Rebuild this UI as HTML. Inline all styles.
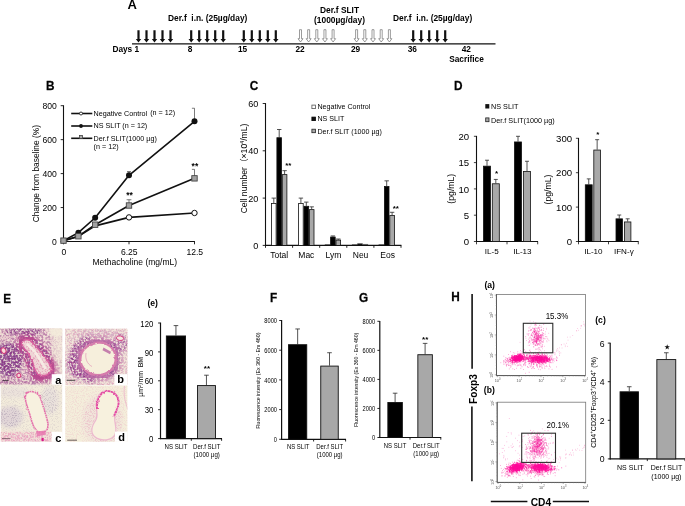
<!DOCTYPE html>
<html lang="en"><head><meta charset="utf-8"><title>Figure</title>
<style>html,body{margin:0;padding:0;background:#fff}svg{display:block}text{font-family:'Liberation Sans', 'Noto Sans CJK SC', sans-serif}</style>
</head><body>
<svg width="685" height="506" viewBox="0 0 685 506" font-family='"Liberation Sans", "Noto Sans CJK SC", sans-serif'>
<rect width="685" height="506" fill="#fff"/>
<text x="132.30" y="8.50" font-size="13" text-anchor="middle" font-weight="700" fill="#000">A</text>
<line x1="132.00" y1="43.80" x2="495.50" y2="43.80" stroke="#111" stroke-width="1.3"/>
<path d="M137.40 30.2h2.2v8.80h1.6l-2.7 3.6l-2.7 -3.6h1.6z" fill="#111"/>
<path d="M145.40 30.2h2.2v8.80h1.6l-2.7 3.6l-2.7 -3.6h1.6z" fill="#111"/>
<path d="M153.40 30.2h2.2v8.80h1.6l-2.7 3.6l-2.7 -3.6h1.6z" fill="#111"/>
<path d="M161.40 30.2h2.2v8.80h1.6l-2.7 3.6l-2.7 -3.6h1.6z" fill="#111"/>
<path d="M169.40 30.2h2.2v8.80h1.6l-2.7 3.6l-2.7 -3.6h1.6z" fill="#111"/>
<path d="M190.10 30.2h2.2v8.80h1.6l-2.7 3.6l-2.7 -3.6h1.6z" fill="#111"/>
<path d="M198.10 30.2h2.2v8.80h1.6l-2.7 3.6l-2.7 -3.6h1.6z" fill="#111"/>
<path d="M206.10 30.2h2.2v8.80h1.6l-2.7 3.6l-2.7 -3.6h1.6z" fill="#111"/>
<path d="M214.10 30.2h2.2v8.80h1.6l-2.7 3.6l-2.7 -3.6h1.6z" fill="#111"/>
<path d="M222.10 30.2h2.2v8.80h1.6l-2.7 3.6l-2.7 -3.6h1.6z" fill="#111"/>
<path d="M242.70 30.2h2.2v8.80h1.6l-2.7 3.6l-2.7 -3.6h1.6z" fill="#111"/>
<path d="M250.70 30.2h2.2v8.80h1.6l-2.7 3.6l-2.7 -3.6h1.6z" fill="#111"/>
<path d="M258.70 30.2h2.2v8.80h1.6l-2.7 3.6l-2.7 -3.6h1.6z" fill="#111"/>
<path d="M266.70 30.2h2.2v8.80h1.6l-2.7 3.6l-2.7 -3.6h1.6z" fill="#111"/>
<path d="M274.70 30.2h2.2v8.80h1.6l-2.7 3.6l-2.7 -3.6h1.6z" fill="#111"/>
<path d="M299.50 29.7h2.0v9.00h1.5l-2.5 3.3l-2.5 -3.3h1.5z" fill="#fff" stroke="#666" stroke-width="0.65"/>
<path d="M307.65 29.7h2.0v9.00h1.5l-2.5 3.3l-2.5 -3.3h1.5z" fill="#fff" stroke="#666" stroke-width="0.65"/>
<path d="M315.80 29.7h2.0v9.00h1.5l-2.5 3.3l-2.5 -3.3h1.5z" fill="#fff" stroke="#666" stroke-width="0.65"/>
<path d="M323.95 29.7h2.0v9.00h1.5l-2.5 3.3l-2.5 -3.3h1.5z" fill="#fff" stroke="#666" stroke-width="0.65"/>
<path d="M332.10 29.7h2.0v9.00h1.5l-2.5 3.3l-2.5 -3.3h1.5z" fill="#fff" stroke="#666" stroke-width="0.65"/>
<path d="M355.60 29.7h2.0v9.00h1.5l-2.5 3.3l-2.5 -3.3h1.5z" fill="#fff" stroke="#666" stroke-width="0.65"/>
<path d="M363.80 29.7h2.0v9.00h1.5l-2.5 3.3l-2.5 -3.3h1.5z" fill="#fff" stroke="#666" stroke-width="0.65"/>
<path d="M372.00 29.7h2.0v9.00h1.5l-2.5 3.3l-2.5 -3.3h1.5z" fill="#fff" stroke="#666" stroke-width="0.65"/>
<path d="M380.20 29.7h2.0v9.00h1.5l-2.5 3.3l-2.5 -3.3h1.5z" fill="#fff" stroke="#666" stroke-width="0.65"/>
<path d="M388.40 29.7h2.0v9.00h1.5l-2.5 3.3l-2.5 -3.3h1.5z" fill="#fff" stroke="#666" stroke-width="0.65"/>
<path d="M412.10 30.2h2.2v8.80h1.6l-2.7 3.6l-2.7 -3.6h1.6z" fill="#111"/>
<path d="M420.10 30.2h2.2v8.80h1.6l-2.7 3.6l-2.7 -3.6h1.6z" fill="#111"/>
<path d="M428.10 30.2h2.2v8.80h1.6l-2.7 3.6l-2.7 -3.6h1.6z" fill="#111"/>
<path d="M436.10 30.2h2.2v8.80h1.6l-2.7 3.6l-2.7 -3.6h1.6z" fill="#111"/>
<path d="M444.10 30.2h2.2v8.80h1.6l-2.7 3.6l-2.7 -3.6h1.6z" fill="#111"/>
<text x="112.40" y="52.47" font-size="8.3" text-anchor="start" font-weight="700" fill="#000">Days 1</text>
<text x="190.00" y="52.47" font-size="8.3" text-anchor="middle" font-weight="700" fill="#000">8</text>
<text x="242.50" y="52.47" font-size="8.3" text-anchor="middle" font-weight="700" fill="#000">15</text>
<text x="300.00" y="52.47" font-size="8.3" text-anchor="middle" font-weight="700" fill="#000">22</text>
<text x="355.50" y="52.47" font-size="8.3" text-anchor="middle" font-weight="700" fill="#000">29</text>
<text x="412.30" y="52.47" font-size="8.3" text-anchor="middle" font-weight="700" fill="#000">36</text>
<text x="466.30" y="52.47" font-size="8.3" text-anchor="middle" font-weight="700" fill="#000">42</text>
<text x="466.50" y="61.97" font-size="8.3" text-anchor="middle" font-weight="700" fill="#000">Sacrifice</text>
<text x="207.70" y="21.11" font-size="8.4" text-anchor="middle" font-weight="700" fill="#000">Der.f  i.n. (25µg/day)</text>
<text x="432.60" y="20.91" font-size="8.4" text-anchor="middle" font-weight="700" fill="#000">Der.f  i.n. (25µg/day)</text>
<text x="339.50" y="12.51" font-size="8.4" text-anchor="middle" font-weight="700" fill="#000">Der.f SLIT</text>
<text x="339.50" y="22.51" font-size="8.4" text-anchor="middle" font-weight="700" fill="#000">(1000µg/day)</text>
<text transform="translate(50.30 85.20) scale(1 1.1)" x="0" y="4.22" font-size="11.8" text-anchor="middle" font-weight="700" fill="#000" stroke="#111" stroke-width="0.25">B</text>
<line x1="63.50" y1="105.30" x2="63.50" y2="242.00" stroke="#111" stroke-width="1.1"/>
<line x1="63.00" y1="241.50" x2="194.90" y2="241.50" stroke="#111" stroke-width="1.1"/>
<line x1="60.70" y1="241.50" x2="63.50" y2="241.50" stroke="#111" stroke-width="0.9"/>
<text x="56.90" y="244.98" font-size="8.6" text-anchor="end" fill="#000">0</text>
<line x1="60.70" y1="207.55" x2="63.50" y2="207.55" stroke="#111" stroke-width="0.9"/>
<text x="56.90" y="211.03" font-size="8.6" text-anchor="end" fill="#000">200</text>
<line x1="60.70" y1="173.60" x2="63.50" y2="173.60" stroke="#111" stroke-width="0.9"/>
<text x="56.90" y="177.08" font-size="8.6" text-anchor="end" fill="#000">400</text>
<line x1="60.70" y1="139.65" x2="63.50" y2="139.65" stroke="#111" stroke-width="0.9"/>
<text x="56.90" y="143.13" font-size="8.6" text-anchor="end" fill="#000">600</text>
<line x1="60.70" y1="105.70" x2="63.50" y2="105.70" stroke="#111" stroke-width="0.9"/>
<text x="56.90" y="109.18" font-size="8.6" text-anchor="end" fill="#000">800</text>
<line x1="63.50" y1="241.50" x2="63.50" y2="244.30" stroke="#111" stroke-width="0.9"/>
<text x="63.80" y="254.98" font-size="8.6" text-anchor="middle" fill="#000">0</text>
<line x1="129.00" y1="241.50" x2="129.00" y2="244.30" stroke="#111" stroke-width="0.9"/>
<text x="129.30" y="254.98" font-size="8.6" text-anchor="middle" fill="#000">6.25</text>
<line x1="194.50" y1="241.50" x2="194.50" y2="244.30" stroke="#111" stroke-width="0.9"/>
<text x="194.80" y="254.98" font-size="8.6" text-anchor="middle" fill="#000">12.5</text>
<text x="134.80" y="265.34" font-size="8.5" text-anchor="middle" fill="#000">Methacholine (mg/mL)</text>
<text transform="translate(35.50 173.70) rotate(-90)" x="0" y="3.01" font-size="8.4" text-anchor="middle" fill="#000">Change from baseline (%)</text>
<line x1="194.50" y1="121.32" x2="194.50" y2="108.25" stroke="#444" stroke-width="0.7"/>
<line x1="191.90" y1="108.25" x2="194.50" y2="108.25" stroke="#444" stroke-width="0.7"/>
<line x1="129.00" y1="175.30" x2="129.00" y2="171.56" stroke="#444" stroke-width="0.7"/>
<line x1="127.00" y1="171.56" x2="131.00" y2="171.56" stroke="#444" stroke-width="0.7"/>
<line x1="194.50" y1="178.35" x2="194.50" y2="169.36" stroke="#444" stroke-width="0.7"/>
<line x1="191.90" y1="169.36" x2="194.50" y2="169.36" stroke="#444" stroke-width="0.7"/>
<line x1="129.00" y1="205.51" x2="129.00" y2="199.74" stroke="#444" stroke-width="0.7"/>
<line x1="126.60" y1="199.74" x2="131.40" y2="199.74" stroke="#444" stroke-width="0.7"/>
<polyline points="63.50,240.65 78.38,236.41 95.15,225.88 129.00,217.40 194.50,212.98" fill="none" stroke="#111" stroke-width="1.6" stroke-linejoin="round"/>
<polyline points="63.50,240.65 78.38,232.67 95.15,217.74 129.00,175.30 194.50,121.32" fill="none" stroke="#111" stroke-width="1.6" stroke-linejoin="round"/>
<polyline points="63.50,240.65 78.38,236.24 95.15,224.69 129.00,205.51 194.50,178.35" fill="none" stroke="#111" stroke-width="1.6" stroke-linejoin="round"/>
<circle cx="129.00" cy="217.40" r="2.7" fill="#fff" stroke="#111" stroke-width="1"/>
<circle cx="194.50" cy="212.98" r="2.7" fill="#fff" stroke="#111" stroke-width="1"/>
<circle cx="78.38" cy="232.67" r="3.0" fill="#111"/>
<circle cx="95.15" cy="217.74" r="3.0" fill="#111"/>
<circle cx="129.00" cy="175.30" r="3.0" fill="#111"/>
<circle cx="194.50" cy="121.32" r="3.0" fill="#111"/>
<rect x="60.80" y="237.95" width="5.40" height="5.40" fill="#a2a2a2" stroke="#444" stroke-width="0.9"/>
<rect x="75.68" y="233.54" width="5.40" height="5.40" fill="#a2a2a2" stroke="#444" stroke-width="0.9"/>
<rect x="92.45" y="221.99" width="5.40" height="5.40" fill="#a2a2a2" stroke="#444" stroke-width="0.9"/>
<rect x="126.30" y="202.81" width="5.40" height="5.40" fill="#a2a2a2" stroke="#444" stroke-width="0.9"/>
<rect x="191.80" y="175.65" width="5.40" height="5.40" fill="#a2a2a2" stroke="#444" stroke-width="0.9"/>
<text x="129.60" y="198.04" font-size="8.5" text-anchor="middle" font-weight="700" fill="#000">**</text>
<text x="194.90" y="169.34" font-size="8.5" text-anchor="middle" font-weight="700" fill="#000">**</text>
<line x1="71.20" y1="113.50" x2="92.30" y2="113.50" stroke="#111" stroke-width="1.6"/>
<line x1="71.20" y1="126.00" x2="92.30" y2="126.00" stroke="#111" stroke-width="1.6"/>
<line x1="71.20" y1="138.30" x2="92.30" y2="138.30" stroke="#111" stroke-width="1.6"/>
<circle cx="81.0" cy="113.5" r="1.5" fill="#fff" stroke="#111" stroke-width="0.8"/>
<circle cx="81.0" cy="126.0" r="1.9" fill="#111"/>
<rect x="79.40" y="135.40" width="3.20" height="3.20" fill="#aaa" stroke="#333" stroke-width="0.7"/>
<text x="93.60" y="115.78" font-size="7.2" text-anchor="start" fill="#000">Negative Control</text>
<text x="150.20" y="115.28" font-size="7.2" text-anchor="start" fill="#000">(n = 12)</text>
<text x="93.60" y="128.18" font-size="7.2" text-anchor="start" fill="#000">NS SLIT</text>
<text x="122.30" y="127.58" font-size="7.2" text-anchor="start" fill="#000">(n = 12)</text>
<text x="93.60" y="141.08" font-size="7.2" text-anchor="start" fill="#000">Der.f SLIT(1000 µg)</text>
<text x="93.60" y="149.18" font-size="7.2" text-anchor="start" fill="#000">(n = 12)</text>
<text transform="translate(254.00 85.20) scale(1 1.1)" x="0" y="4.22" font-size="11.8" text-anchor="middle" font-weight="700" fill="#000" stroke="#111" stroke-width="0.25">C</text>
<line x1="265.50" y1="103.10" x2="265.50" y2="245.90" stroke="#111" stroke-width="1.1"/>
<line x1="265.00" y1="245.40" x2="401.40" y2="245.40" stroke="#111" stroke-width="1.1"/>
<line x1="262.70" y1="245.40" x2="265.50" y2="245.40" stroke="#111" stroke-width="0.9"/>
<text x="258.30" y="248.96" font-size="9.1" text-anchor="end" fill="#000">0</text>
<line x1="262.70" y1="198.10" x2="265.50" y2="198.10" stroke="#111" stroke-width="0.9"/>
<text x="258.30" y="201.66" font-size="9.1" text-anchor="end" fill="#000">20</text>
<line x1="262.70" y1="150.80" x2="265.50" y2="150.80" stroke="#111" stroke-width="0.9"/>
<text x="258.30" y="154.36" font-size="9.1" text-anchor="end" fill="#000">40</text>
<line x1="262.70" y1="103.50" x2="265.50" y2="103.50" stroke="#111" stroke-width="0.9"/>
<text x="258.30" y="107.06" font-size="9.1" text-anchor="end" fill="#000">60</text>
<line x1="265.50" y1="245.40" x2="265.50" y2="247.80" stroke="#111" stroke-width="0.9"/>
<line x1="292.60" y1="245.40" x2="292.60" y2="247.80" stroke="#111" stroke-width="0.9"/>
<line x1="319.70" y1="245.40" x2="319.70" y2="247.80" stroke="#111" stroke-width="0.9"/>
<line x1="346.80" y1="245.40" x2="346.80" y2="247.80" stroke="#111" stroke-width="0.9"/>
<line x1="373.90" y1="245.40" x2="373.90" y2="247.80" stroke="#111" stroke-width="0.9"/>
<line x1="401.00" y1="245.40" x2="401.00" y2="247.80" stroke="#111" stroke-width="0.9"/>
<text x="279.25" y="258.14" font-size="8.5" text-anchor="middle" fill="#000">Total</text>
<text x="306.35" y="258.14" font-size="8.5" text-anchor="middle" fill="#000">Mac</text>
<text x="333.45" y="258.14" font-size="8.5" text-anchor="middle" fill="#000">Lym</text>
<text x="360.55" y="258.14" font-size="8.5" text-anchor="middle" fill="#000">Neu</text>
<text x="387.65" y="258.14" font-size="8.5" text-anchor="middle" fill="#000">Eos</text>
<text transform="translate(243.80 168.50) rotate(-90)" x="0" y="3.08" font-size="8.6" text-anchor="middle" fill="#000">Cell number（×10<tspan font-size="5.4" dy="-2.8">4</tspan><tspan dy="2.8">/mL)</tspan></text>
<line x1="273.80" y1="203.07" x2="273.80" y2="198.10" stroke="#2a2a2a" stroke-width="0.8"/>
<line x1="271.60" y1="198.10" x2="276.00" y2="198.10" stroke="#2a2a2a" stroke-width="0.8"/>
<rect x="271.50" y="203.47" width="4.60" height="41.93" fill="#fff" stroke="#111" stroke-width="0.8"/>
<line x1="279.20" y1="137.32" x2="279.20" y2="129.51" stroke="#2a2a2a" stroke-width="0.8"/>
<line x1="277.00" y1="129.51" x2="281.40" y2="129.51" stroke="#2a2a2a" stroke-width="0.8"/>
<rect x="276.90" y="137.72" width="4.60" height="107.68" fill="#000" stroke="#111" stroke-width="0.8"/>
<line x1="284.60" y1="174.21" x2="284.60" y2="170.67" stroke="#2a2a2a" stroke-width="0.8"/>
<line x1="282.40" y1="170.67" x2="286.80" y2="170.67" stroke="#2a2a2a" stroke-width="0.8"/>
<rect x="282.30" y="174.61" width="4.60" height="70.79" fill="#a8a8a8" stroke="#111" stroke-width="0.8"/>
<line x1="300.90" y1="203.07" x2="300.90" y2="198.10" stroke="#2a2a2a" stroke-width="0.8"/>
<line x1="298.70" y1="198.10" x2="303.10" y2="198.10" stroke="#2a2a2a" stroke-width="0.8"/>
<rect x="298.60" y="203.47" width="4.60" height="41.93" fill="#fff" stroke="#111" stroke-width="0.8"/>
<line x1="306.30" y1="205.90" x2="306.30" y2="202.12" stroke="#2a2a2a" stroke-width="0.8"/>
<line x1="304.10" y1="202.12" x2="308.50" y2="202.12" stroke="#2a2a2a" stroke-width="0.8"/>
<rect x="304.00" y="206.30" width="4.60" height="39.10" fill="#000" stroke="#111" stroke-width="0.8"/>
<line x1="311.70" y1="209.22" x2="311.70" y2="206.85" stroke="#2a2a2a" stroke-width="0.8"/>
<line x1="309.50" y1="206.85" x2="313.90" y2="206.85" stroke="#2a2a2a" stroke-width="0.8"/>
<rect x="309.40" y="209.62" width="4.60" height="35.78" fill="#a8a8a8" stroke="#111" stroke-width="0.8"/>
<rect x="324.80" y="244.19" width="5.40" height="0.71" fill="#444"/>
<line x1="332.90" y1="236.65" x2="332.90" y2="235.94" stroke="#2a2a2a" stroke-width="0.8"/>
<line x1="330.70" y1="235.94" x2="335.10" y2="235.94" stroke="#2a2a2a" stroke-width="0.8"/>
<rect x="330.60" y="237.05" width="4.60" height="8.35" fill="#000" stroke="#111" stroke-width="0.8"/>
<line x1="338.30" y1="239.72" x2="338.30" y2="239.01" stroke="#2a2a2a" stroke-width="0.8"/>
<line x1="336.10" y1="239.01" x2="340.50" y2="239.01" stroke="#2a2a2a" stroke-width="0.8"/>
<rect x="336.00" y="240.12" width="4.60" height="5.28" fill="#a8a8a8" stroke="#111" stroke-width="0.8"/>
<rect x="351.90" y="244.20" width="5.40" height="0.70" fill="#444"/>
<rect x="357.30" y="243.48" width="5.40" height="1.42" fill="#000"/>
<rect x="362.70" y="243.95" width="5.40" height="0.95" fill="#555"/>
<rect x="378.60" y="244.20" width="5.40" height="0.70" fill="#444"/>
<line x1="386.70" y1="186.04" x2="386.70" y2="180.84" stroke="#2a2a2a" stroke-width="0.8"/>
<line x1="384.50" y1="180.84" x2="388.90" y2="180.84" stroke="#2a2a2a" stroke-width="0.8"/>
<rect x="384.40" y="186.44" width="4.60" height="58.96" fill="#000" stroke="#111" stroke-width="0.8"/>
<line x1="392.10" y1="215.13" x2="392.10" y2="212.29" stroke="#2a2a2a" stroke-width="0.8"/>
<line x1="389.90" y1="212.29" x2="394.30" y2="212.29" stroke="#2a2a2a" stroke-width="0.8"/>
<rect x="389.80" y="215.53" width="4.60" height="29.87" fill="#a8a8a8" stroke="#111" stroke-width="0.8"/>
<text x="288.30" y="168.26" font-size="8" text-anchor="middle" font-weight="700" fill="#000">**</text>
<text x="395.80" y="211.06" font-size="8" text-anchor="middle" font-weight="700" fill="#000">**</text>
<rect x="311.90" y="105.10" width="3.50" height="3.50" fill="#fff" stroke="#555" stroke-width="0.8"/>
<text x="317.50" y="109.44" font-size="7.1" text-anchor="start" fill="#000">Negative Control</text>
<rect x="311.90" y="117.10" width="3.50" height="3.50" fill="#111" stroke="#000" stroke-width="0.8"/>
<text x="317.50" y="121.44" font-size="7.1" text-anchor="start" fill="#000">NS SLIT</text>
<rect x="311.90" y="129.20" width="3.50" height="3.50" fill="#a8a8a8" stroke="#222" stroke-width="0.8"/>
<text x="317.50" y="133.54" font-size="7.1" text-anchor="start" fill="#000">Der.f SLIT (1000 µg)</text>
<text transform="translate(458.20 85.20) scale(1 1.1)" x="0" y="4.22" font-size="11.8" text-anchor="middle" font-weight="700" fill="#000" stroke="#111" stroke-width="0.25">D</text>
<rect x="485.30" y="104.10" width="4.00" height="4.40" fill="#111"/>
<text transform="translate(491.00 105.60) scale(1 1.12)" x="0" y="2.60" font-size="7.25" text-anchor="start" fill="#000">NS SLIT</text>
<rect x="485.70" y="117.90" width="3.30" height="3.80" fill="#a8a8a8" stroke="#222" stroke-width="0.8"/>
<text transform="translate(491.00 119.80) scale(1 1.12)" x="0" y="2.60" font-size="7.25" text-anchor="start" fill="#000">Der.f SLIT(1000 µg)</text>
<line x1="476.50" y1="135.90" x2="476.50" y2="242.00" stroke="#111" stroke-width="1.1"/>
<line x1="476.00" y1="241.50" x2="538.00" y2="241.50" stroke="#111" stroke-width="1.1"/>
<line x1="473.90" y1="241.50" x2="476.50" y2="241.50" stroke="#111" stroke-width="0.8"/>
<text x="469.10" y="245.24" font-size="9.6" text-anchor="end" fill="#000">0</text>
<line x1="473.90" y1="215.20" x2="476.50" y2="215.20" stroke="#111" stroke-width="0.8"/>
<text x="469.10" y="218.94" font-size="9.6" text-anchor="end" fill="#000">5</text>
<line x1="473.90" y1="188.90" x2="476.50" y2="188.90" stroke="#111" stroke-width="0.8"/>
<text x="469.10" y="192.64" font-size="9.6" text-anchor="end" fill="#000">10</text>
<line x1="473.90" y1="162.60" x2="476.50" y2="162.60" stroke="#111" stroke-width="0.8"/>
<text x="469.10" y="166.34" font-size="9.6" text-anchor="end" fill="#000">15</text>
<line x1="473.90" y1="136.30" x2="476.50" y2="136.30" stroke="#111" stroke-width="0.8"/>
<text x="469.10" y="140.04" font-size="9.6" text-anchor="end" fill="#000">20</text>
<line x1="476.50" y1="241.50" x2="476.50" y2="244.30" stroke="#111" stroke-width="0.8"/>
<line x1="507.00" y1="241.50" x2="507.00" y2="244.30" stroke="#111" stroke-width="0.8"/>
<line x1="537.70" y1="241.50" x2="537.70" y2="244.30" stroke="#111" stroke-width="0.8"/>
<text x="491.80" y="254.10" font-size="8.1" text-anchor="middle" fill="#000">IL-5</text>
<text x="522.40" y="254.10" font-size="8.1" text-anchor="middle" fill="#000">IL-13</text>
<text transform="translate(451.20 188.70) rotate(-90)" x="0" y="3.11" font-size="8.7" text-anchor="middle" fill="#000">(pg/mL)</text>
<line x1="487.00" y1="165.76" x2="487.00" y2="160.23" stroke="#2a2a2a" stroke-width="0.8"/>
<line x1="485.00" y1="160.23" x2="489.00" y2="160.23" stroke="#2a2a2a" stroke-width="0.8"/>
<rect x="483.50" y="166.16" width="7.00" height="75.34" fill="#000" stroke="#111" stroke-width="0.8"/>
<line x1="495.80" y1="183.38" x2="495.80" y2="179.43" stroke="#2a2a2a" stroke-width="0.8"/>
<line x1="493.80" y1="179.43" x2="497.80" y2="179.43" stroke="#2a2a2a" stroke-width="0.8"/>
<rect x="492.30" y="183.78" width="7.00" height="57.72" fill="#a8a8a8" stroke="#111" stroke-width="0.8"/>
<line x1="518.00" y1="141.56" x2="518.00" y2="136.30" stroke="#2a2a2a" stroke-width="0.8"/>
<line x1="516.00" y1="136.30" x2="520.00" y2="136.30" stroke="#2a2a2a" stroke-width="0.8"/>
<rect x="514.50" y="141.96" width="7.00" height="99.54" fill="#000" stroke="#111" stroke-width="0.8"/>
<line x1="527.00" y1="171.02" x2="527.00" y2="161.28" stroke="#2a2a2a" stroke-width="0.8"/>
<line x1="525.00" y1="161.28" x2="529.00" y2="161.28" stroke="#2a2a2a" stroke-width="0.8"/>
<rect x="523.60" y="171.42" width="6.80" height="70.08" fill="#a8a8a8" stroke="#111" stroke-width="0.8"/>
<text x="496.60" y="176.46" font-size="8" text-anchor="middle" font-weight="700" fill="#000">*</text>
<line x1="578.50" y1="137.90" x2="578.50" y2="242.00" stroke="#111" stroke-width="1.1"/>
<line x1="578.00" y1="241.50" x2="638.60" y2="241.50" stroke="#111" stroke-width="1.1"/>
<line x1="575.90" y1="241.50" x2="578.50" y2="241.50" stroke="#111" stroke-width="0.8"/>
<text x="572.10" y="245.24" font-size="9.6" text-anchor="end" fill="#000">0</text>
<line x1="575.90" y1="207.10" x2="578.50" y2="207.10" stroke="#111" stroke-width="0.8"/>
<text x="572.10" y="210.84" font-size="9.6" text-anchor="end" fill="#000">100</text>
<line x1="575.90" y1="172.70" x2="578.50" y2="172.70" stroke="#111" stroke-width="0.8"/>
<text x="572.10" y="176.44" font-size="9.6" text-anchor="end" fill="#000">200</text>
<line x1="575.90" y1="138.30" x2="578.50" y2="138.30" stroke="#111" stroke-width="0.8"/>
<text x="572.10" y="142.04" font-size="9.6" text-anchor="end" fill="#000">300</text>
<line x1="578.50" y1="241.50" x2="578.50" y2="244.30" stroke="#111" stroke-width="0.8"/>
<line x1="608.50" y1="241.50" x2="608.50" y2="244.30" stroke="#111" stroke-width="0.8"/>
<line x1="638.30" y1="241.50" x2="638.30" y2="244.30" stroke="#111" stroke-width="0.8"/>
<text x="593.40" y="254.10" font-size="8.1" text-anchor="middle" fill="#000">IL-10</text>
<text x="623.80" y="254.10" font-size="8.1" text-anchor="middle" fill="#000">IFN-γ</text>
<text transform="translate(548.20 189.50) rotate(-90)" x="0" y="3.11" font-size="8.7" text-anchor="middle" fill="#000">(pg/mL)</text>
<line x1="588.75" y1="184.40" x2="588.75" y2="178.89" stroke="#2a2a2a" stroke-width="0.8"/>
<line x1="586.75" y1="178.89" x2="590.75" y2="178.89" stroke="#2a2a2a" stroke-width="0.8"/>
<rect x="585.30" y="184.80" width="6.90" height="56.70" fill="#000" stroke="#111" stroke-width="0.8"/>
<line x1="597.15" y1="149.65" x2="597.15" y2="139.68" stroke="#2a2a2a" stroke-width="0.8"/>
<line x1="595.15" y1="139.68" x2="599.15" y2="139.68" stroke="#2a2a2a" stroke-width="0.8"/>
<rect x="593.80" y="150.05" width="6.70" height="91.45" fill="#a8a8a8" stroke="#111" stroke-width="0.8"/>
<line x1="619.25" y1="218.45" x2="619.25" y2="215.01" stroke="#2a2a2a" stroke-width="0.8"/>
<line x1="617.25" y1="215.01" x2="621.25" y2="215.01" stroke="#2a2a2a" stroke-width="0.8"/>
<rect x="616.00" y="218.85" width="6.50" height="22.65" fill="#000" stroke="#111" stroke-width="0.8"/>
<line x1="627.65" y1="221.55" x2="627.65" y2="218.80" stroke="#2a2a2a" stroke-width="0.8"/>
<line x1="625.65" y1="218.80" x2="629.65" y2="218.80" stroke="#2a2a2a" stroke-width="0.8"/>
<rect x="624.40" y="221.95" width="6.50" height="19.55" fill="#a8a8a8" stroke="#111" stroke-width="0.8"/>
<text x="597.70" y="136.86" font-size="8" text-anchor="middle" font-weight="700" fill="#000">*</text>
<text transform="translate(7.20 298.00) scale(1 1.1)" x="0" y="4.22" font-size="11.8" text-anchor="middle" font-weight="700" fill="#000" stroke="#111" stroke-width="0.25">E</text>
<defs>
<filter id="fpur" x="0" y="0" width="100%" height="100%" color-interpolation-filters="sRGB"><feTurbulence type="fractalNoise" baseFrequency="0.55" numOctaves="2" seed="3" result="n"/><feColorMatrix in="n" type="matrix" values="0 0 0 0 0.541 0 0 0 0 0.227 0 0 0 0 0.525 7 0 0 0 -3.05" result="c"/><feComposite in="c" in2="SourceGraphic" operator="in"/></filter>
<filter id="fpur2" x="0" y="0" width="100%" height="100%" color-interpolation-filters="sRGB"><feTurbulence type="fractalNoise" baseFrequency="0.8" numOctaves="2" seed="11" result="n"/><feColorMatrix in="n" type="matrix" values="0 0 0 0 0.588 0 0 0 0 0.314 0 0 0 0 0.588 6 0 0 0 -2.7" result="c"/><feComposite in="c" in2="SourceGraphic" operator="in"/></filter>
<filter id="fmag" x="0" y="0" width="100%" height="100%" color-interpolation-filters="sRGB"><feTurbulence type="fractalNoise" baseFrequency="0.6" numOctaves="2" seed="5" result="n"/><feColorMatrix in="n" type="matrix" values="0 0 0 0 0.784 0 0 0 0 0.275 0 0 0 0 0.549 6 0 0 0 -2.6" result="c"/><feComposite in="c" in2="SourceGraphic" operator="in"/></filter>
<filter id="fpink" x="0" y="0" width="100%" height="100%" color-interpolation-filters="sRGB"><feTurbulence type="fractalNoise" baseFrequency="0.9" numOctaves="2" seed="8" result="n"/><feColorMatrix in="n" type="matrix" values="0 0 0 0 0.886 0 0 0 0 0.471 0 0 0 0 0.667 6 0 0 0 -2.9" result="c"/><feComposite in="c" in2="SourceGraphic" operator="in"/></filter>
<filter id="fgry" x="0" y="0" width="100%" height="100%" color-interpolation-filters="sRGB"><feTurbulence type="fractalNoise" baseFrequency="0.9" numOctaves="2" seed="21" result="n"/><feColorMatrix in="n" type="matrix" values="0 0 0 0 0.647 0 0 0 0 0.580 0 0 0 0 0.667 5 0 0 0 -2.5" result="c"/><feComposite in="c" in2="SourceGraphic" operator="in"/></filter>
<filter id="fpk2" x="0" y="0" width="100%" height="100%" color-interpolation-filters="sRGB"><feTurbulence type="fractalNoise" baseFrequency="0.7" numOctaves="2" seed="14" result="n"/><feColorMatrix in="n" type="matrix" values="0 0 0 0 0.910 0 0 0 0 0.431 0 0 0 0 0.647 6 0 0 0 -2.5" result="c"/><feComposite in="c" in2="SourceGraphic" operator="in"/></filter>
<filter id="fcream" x="0" y="0" width="100%" height="100%" color-interpolation-filters="sRGB"><feTurbulence type="fractalNoise" baseFrequency="0.5" numOctaves="2" seed="31" result="n"/><feColorMatrix in="n" type="matrix" values="0 0 0 0 0.953 0 0 0 0 0.914 0 0 0 0 0.855 7 0 0 0 -3.3" result="c"/><feComposite in="c" in2="SourceGraphic" operator="in"/></filter>
<filter id="fpk3" x="0" y="0" width="100%" height="100%" color-interpolation-filters="sRGB"><feTurbulence type="fractalNoise" baseFrequency="0.6" numOctaves="2" seed="41" result="n"/><feColorMatrix in="n" type="matrix" values="0 0 0 0 0.894 0 0 0 0 0.588 0 0 0 0 0.706 6 0 0 0 -2.9" result="c"/><feComposite in="c" in2="SourceGraphic" operator="in"/></filter>
<filter id="rough" x="-10%" y="-10%" width="120%" height="120%"><feTurbulence type="fractalNoise" baseFrequency="0.35" numOctaves="2" seed="4" result="t"/><feDisplacementMap in="SourceGraphic" in2="t" scale="2.6" xChannelSelector="R" yChannelSelector="G"/></filter>
<filter id="rough2" x="-10%" y="-10%" width="120%" height="120%"><feTurbulence type="fractalNoise" baseFrequency="0.5" numOctaves="2" seed="9" result="t"/><feDisplacementMap in="SourceGraphic" in2="t" scale="1.8" xChannelSelector="R" yChannelSelector="G"/></filter>
<filter id="b1"><feGaussianBlur stdDeviation="1.2"/></filter>
<filter id="b2"><feGaussianBlur stdDeviation="2.2"/></filter>
<filter id="b05"><feGaussianBlur stdDeviation="0.5"/></filter>
<clipPath id="ca"><rect x="0" y="328.5" width="62.2" height="56.3"/></clipPath>
<clipPath id="cb"><rect x="65.2" y="328.7" width="62.2" height="56.3"/></clipPath>
<clipPath id="cc"><rect x="0.8" y="384.8" width="61.4" height="56.8"/></clipPath>
<clipPath id="cd"><rect x="65.2" y="385.4" width="62.2" height="56.4"/></clipPath>
</defs>
<g clip-path="url(#ca)">
<rect x="0" y="328" width="63" height="57" fill="#f2e8d8"/>
<g filter="url(#b2)">
<rect x="0" y="328" width="52" height="57" fill="#e0a6c2" opacity="0.55"/>
<rect x="50" y="328" width="13" height="57" fill="#e8ccd4" opacity="0.4"/>
<ellipse cx="8" cy="360" rx="14" ry="17" fill="#8c4c94" opacity="0.9"/>
<ellipse cx="24" cy="331" rx="19" ry="4" fill="#a5649f" opacity="0.8"/>
<path d="M23.7 341.2 C26 340 29 340.5 31.1 342.4 C35 346 38 349.5 41.1 353.6 C44.5 358 48 362 49.8 366.1 C51 369 50.5 371 49.2 372.3 C47.5 374 45.5 374.8 43.6 374.8 C41 374.8 39 374 37.4 372.3 C35.5 369.5 34.5 366 33.6 362.4 C32.5 358.5 30.5 355.5 28.6 352.4 C26.5 349.5 24 347.5 23 344.9 C22.5 343.5 22.8 342 23.7 341.2Z" fill="none" stroke="#c05096" stroke-width="15" opacity="0.8"/>
<ellipse cx="22" cy="382.5" rx="26" ry="3.5" fill="#c080ac" opacity="0.6"/>
</g>
<g filter="url(#fpur)"><rect x="0" y="328" width="51" height="57" fill="#000" opacity="0.42"/><rect x="51" y="328" width="12" height="57" fill="#000" opacity="0.2"/><ellipse cx="9" cy="360" rx="13" ry="16" fill="#000" opacity="0.9"/><ellipse cx="24" cy="331.5" rx="18" ry="3.5" fill="#000" opacity="0.6"/></g>
<g filter="url(#fcream)"><rect x="0" y="328" width="63" height="57" fill="#000" opacity="0.8"/></g>
<path d="M23.7 341.2 C26 340 29 340.5 31.1 342.4 C35 346 38 349.5 41.1 353.6 C44.5 358 48 362 49.8 366.1 C51 369 50.5 371 49.2 372.3 C47.5 374 45.5 374.8 43.6 374.8 C41 374.8 39 374 37.4 372.3 C35.5 369.5 34.5 366 33.6 362.4 C32.5 358.5 30.5 355.5 28.6 352.4 C26.5 349.5 24 347.5 23 344.9 C22.5 343.5 22.8 342 23.7 341.2Z" fill="none" stroke="#b8468e" stroke-width="10.5" stroke-linejoin="round" filter="url(#rough)" opacity="0.85"/>
<path d="M23 350 C26 356 29 364 32 371 C34 376 38 379 43 379.5" fill="none" stroke="#b8468e" stroke-width="5" filter="url(#rough)" opacity="0.8"/>
<g filter="url(#fpur2)"><path d="M23.7 341.2 C26 340 29 340.5 31.1 342.4 C35 346 38 349.5 41.1 353.6 C44.5 358 48 362 49.8 366.1 C51 369 50.5 371 49.2 372.3 C47.5 374 45.5 374.8 43.6 374.8 C41 374.8 39 374 37.4 372.3 C35.5 369.5 34.5 366 33.6 362.4 C32.5 358.5 30.5 355.5 28.6 352.4 C26.5 349.5 24 347.5 23 344.9 C22.5 343.5 22.8 342 23.7 341.2Z" fill="none" stroke="#000" stroke-width="12"/></g>
<g filter="url(#fcream)" opacity="0.75"><path d="M23.7 341.2 C26 340 29 340.5 31.1 342.4 C35 346 38 349.5 41.1 353.6 C44.5 358 48 362 49.8 366.1 C51 369 50.5 371 49.2 372.3 C47.5 374 45.5 374.8 43.6 374.8 C41 374.8 39 374 37.4 372.3 C35.5 369.5 34.5 366 33.6 362.4 C32.5 358.5 30.5 355.5 28.6 352.4 C26.5 349.5 24 347.5 23 344.9 C22.5 343.5 22.8 342 23.7 341.2Z" fill="none" stroke="#000" stroke-width="13"/></g>
<path d="M23.7 341.2 C26 340 29 340.5 31.1 342.4 C35 346 38 349.5 41.1 353.6 C44.5 358 48 362 49.8 366.1 C51 369 50.5 371 49.2 372.3 C47.5 374 45.5 374.8 43.6 374.8 C41 374.8 39 374 37.4 372.3 C35.5 369.5 34.5 366 33.6 362.4 C32.5 358.5 30.5 355.5 28.6 352.4 C26.5 349.5 24 347.5 23 344.9 C22.5 343.5 22.8 342 23.7 341.2Z" fill="none" stroke="#d8609e" stroke-width="3.2" stroke-linejoin="round" filter="url(#rough)" opacity="0.95"/>
<path d="M23.7 341.2 C26 340 29 340.5 31.1 342.4 C35 346 38 349.5 41.1 353.6 C44.5 358 48 362 49.8 366.1 C51 369 50.5 371 49.2 372.3 C47.5 374 45.5 374.8 43.6 374.8 C41 374.8 39 374 37.4 372.3 C35.5 369.5 34.5 366 33.6 362.4 C32.5 358.5 30.5 355.5 28.6 352.4 C26.5 349.5 24 347.5 23 344.9 C22.5 343.5 22.8 342 23.7 341.2Z" fill="#efd6d6" filter="url(#rough)"/>
<g filter="url(#fpk3)" opacity="0.7"><path d="M23.7 341.2 C26 340 29 340.5 31.1 342.4 C35 346 38 349.5 41.1 353.6 C44.5 358 48 362 49.8 366.1 C51 369 50.5 371 49.2 372.3 C47.5 374 45.5 374.8 43.6 374.8 C41 374.8 39 374 37.4 372.3 C35.5 369.5 34.5 366 33.6 362.4 C32.5 358.5 30.5 355.5 28.6 352.4 C26.5 349.5 24 347.5 23 344.9 C22.5 343.5 22.8 342 23.7 341.2Z" fill="#000"/></g>
<path d="M27 344 C33 349 40 358 45.5 369" fill="none" stroke="#f8eee6" stroke-width="2.6" filter="url(#rough2)" opacity="0.9"/>
<g filter="url(#b1)"><ellipse cx="59" cy="350" rx="4" ry="13" fill="#f3eadb" opacity="0.5"/><ellipse cx="56" cy="332" rx="8" ry="5" fill="#f5eddc" opacity="0.85"/></g>
<ellipse cx="3.6" cy="350.6" rx="2.3" ry="2.9" fill="#f6dcd8" stroke="#d23c7c" stroke-width="1.1" transform="rotate(-25 3.6 350.6)"/>
<ellipse cx="18.8" cy="375.4" rx="2.0" ry="2.2" fill="#f3d4d6" stroke="#d44684" stroke-width="1.1"/>
<line x1="2.60" y1="380.60" x2="8.60" y2="380.60" stroke="#3a2a3a" stroke-width="0.9"/>
</g>
<rect x="51.70" y="374.20" width="10.60" height="10.60" fill="#fff"/>
<text x="58.30" y="383.94" font-size="11" text-anchor="middle" font-weight="700" fill="#000">a</text>
<g clip-path="url(#cb)">
<rect x="65" y="328" width="63" height="58" fill="#f4ecda"/>
<g filter="url(#b2)">
<rect x="65" y="328" width="63" height="58" fill="#e6c8d6" opacity="0.35"/>
<path d="M97.2 344 C106.8 342.6 114.2 349.3 114.6 357.8 C115 366.8 107.8 373.8 98.8 374 C89.3 374.2 81.5 367.8 81.5 359.3 C81.5 350.8 88.2 345.4 97.2 344Z" fill="none" stroke="#be78ac" stroke-width="15" opacity="0.85"/>
<ellipse cx="77" cy="367" rx="9" ry="13" fill="#a468a8" opacity="0.8" transform="rotate(-35 77 367)"/>
<path d="M90 339.5 C78 342 72 351 73 361 C74 370 82 378 94 380" fill="none" stroke="#b070ac" stroke-width="8" opacity="0.8"/>
<ellipse cx="121" cy="343" rx="8" ry="10" fill="#c090bc" opacity="0.7"/>
<ellipse cx="96" cy="333" rx="22" ry="4" fill="#d0a4c4" opacity="0.5"/>
</g>
<g filter="url(#fpur)"><rect x="65" y="328" width="63" height="58" fill="#000" opacity="0.16"/><ellipse cx="78" cy="367" rx="9" ry="13" fill="#000" opacity="0.7" transform="rotate(-35 78 367)"/><path d="M90 339.5 C78 342 72 351 73 361 C74 370 82 378 94 380" fill="none" stroke="#000" stroke-width="8" opacity="0.55"/><ellipse cx="121" cy="343" rx="7" ry="9" fill="#000" opacity="0.45"/></g>
<g filter="url(#fpink)"><rect x="65" y="328" width="63" height="58" fill="#000" opacity="0.4"/></g>
<g filter="url(#fcream)"><rect x="65" y="328" width="63" height="58" fill="#000" opacity="0.85"/></g>
<path d="M97.2 344 C106.8 342.6 114.2 349.3 114.6 357.8 C115 366.8 107.8 373.8 98.8 374 C89.3 374.2 81.5 367.8 81.5 359.3 C81.5 350.8 88.2 345.4 97.2 344Z" fill="none" stroke="#b866a4" stroke-width="12" filter="url(#rough2)" opacity="0.8"/>
<g filter="url(#fpur2)"><path d="M97.2 344 C106.8 342.6 114.2 349.3 114.6 357.8 C115 366.8 107.8 373.8 98.8 374 C89.3 374.2 81.5 367.8 81.5 359.3 C81.5 350.8 88.2 345.4 97.2 344Z" fill="none" stroke="#000" stroke-width="13"/></g>
<g filter="url(#fcream)" opacity="0.55"><path d="M97.2 344 C106.8 342.6 114.2 349.3 114.6 357.8 C115 366.8 107.8 373.8 98.8 374 C89.3 374.2 81.5 367.8 81.5 359.3 C81.5 350.8 88.2 345.4 97.2 344Z" fill="none" stroke="#000" stroke-width="14"/></g>
<path d="M97.2 344 C106.8 342.6 114.2 349.3 114.6 357.8 C115 366.8 107.8 373.8 98.8 374 C89.3 374.2 81.5 367.8 81.5 359.3 C81.5 350.8 88.2 345.4 97.2 344Z" fill="none" stroke="#d67cac" stroke-width="4.6" filter="url(#rough)"/>
<path d="M97.2 344 C106.8 342.6 114.2 349.3 114.6 357.8 C115 366.8 107.8 373.8 98.8 374 C89.3 374.2 81.5 367.8 81.5 359.3 C81.5 350.8 88.2 345.4 97.2 344Z" fill="#f6efdc" filter="url(#rough)"/>
<path d="M86 353 C85 358.5 87 364 92 366.5" fill="none" stroke="#e49ab8" stroke-width="0.7"/>
<path d="M103.5 347.5 l7.5 4.2 l-1 2.6 l-7.5 -4z" fill="#bc6ca4" opacity="0.85" filter="url(#b05)"/>
<ellipse cx="120" cy="338.2" rx="3.6" ry="2.3" fill="#f6e6e0" stroke="#d43c80" stroke-width="0.9" transform="rotate(8 120 338.2)"/>
<line x1="66.60" y1="380.30" x2="75.20" y2="380.30" stroke="#222" stroke-width="0.8"/>
</g>
<rect x="114.40" y="374.20" width="13.00" height="10.80" fill="#fff"/>
<text x="120.60" y="383.14" font-size="11" text-anchor="middle" font-weight="700" fill="#000">b</text>
<g clip-path="url(#cc)">
<rect x="0" y="384" width="63" height="58" fill="#f3ecdb"/>
<g filter="url(#b2)"><ellipse cx="10" cy="417" rx="13" ry="11" fill="#d8ccd6" opacity="0.7"/><ellipse cx="50" cy="400" rx="9" ry="14" fill="#e2d8dc" opacity="0.6"/><ellipse cx="14" cy="392" rx="16" ry="6" fill="#e6dcdc" opacity="0.6"/><rect x="0" y="433" width="51" height="10" fill="#efbcd0" opacity="0.7"/></g>
<g filter="url(#fgry)"><rect x="0" y="384" width="63" height="58" fill="#000" opacity="0.2"/><ellipse cx="10" cy="417" rx="12" ry="10" fill="#000" opacity="0.35"/><ellipse cx="50" cy="400" rx="9" ry="14" fill="#000" opacity="0.22"/></g>
<g filter="url(#fpk2)"><rect x="0" y="432" width="52" height="10" fill="#000" opacity="0.38"/></g>
<g filter="url(#fcream)"><rect x="0" y="430" width="52" height="12" fill="#000" opacity="0.8"/></g>
<path d="M27.5 393.5 C32 391 38 393 40 399 C42 406 45.5 415 47 423 C48 429 45 432 40.5 431.5 C35 431 33 423 30.5 414 C28 406 24 397 27.5 393.5Z" fill="none" stroke="#e672ac" stroke-width="3.2" stroke-dasharray="1.7 0.6" filter="url(#rough)"/>
<path d="M27.5 393.5 C32 391 38 393 40 399 C42 406 45.5 415 47 423 C48 429 45 432 40.5 431.5 C35 431 33 423 30.5 414 C28 406 24 397 27.5 393.5Z" fill="#f7f1df" filter="url(#rough2)"/>
<path d="M36 431.5 l9 -1 l1 4 l-9 2z" fill="#e878b0" opacity="0.85" filter="url(#rough2)"/>
<rect x="41.5" y="438" width="2.2" height="3.2" fill="#d81888"/>
<line x1="2.00" y1="438.60" x2="10.50" y2="438.60" stroke="#6a4a5a" stroke-width="0.8"/>
</g>
<rect x="51.70" y="431.80" width="10.60" height="9.80" fill="#fff"/>
<text x="58.20" y="441.54" font-size="11" text-anchor="middle" font-weight="700" fill="#000">c</text>
<g clip-path="url(#cd)">
<rect x="65" y="385" width="63" height="58" fill="#f4eedb"/>
<g filter="url(#b2)"><ellipse cx="102" cy="420" rx="20" ry="26" fill="#efdcd8" opacity="0.55"/></g>
<g filter="url(#fpink)" opacity="0.6"><rect x="65" y="385" width="63" height="58" fill="#000" opacity="0.22"/><ellipse cx="103" cy="420" rx="19" ry="25" fill="#000" opacity="0.3"/></g>
<path d="M106.8 391.5 C113 391 118 396 118 403 C118 409 114 413 114 418 C114 424 116.5 429 114.5 434 C112 440 101 441 95.5 436.5 C90 432 93 425 96 421 C99 416 97 411 97 406 C97 398 100 392 106.8 391.5Z" fill="none" stroke="#ecb8ce" stroke-width="2.4" filter="url(#rough2)"/>
<path d="M106.8 391.5 C113 391 118 396 118 403 C118 409 114 413 114 418 C114 424 116.5 429 114.5 434 C112 440 101 441 95.5 436.5 C90 432 93 425 96 421 C99 416 97 411 97 406 C97 398 100 392 106.8 391.5Z" fill="#f7f1de" filter="url(#rough2)"/>
<path d="M97 409 C96.5 400 100 392 107 391.2 C113 390.6 118.5 395.5 118.6 402 C118.7 408 115 412 114 416.5" fill="none" stroke="#e44ca4" stroke-width="1.9" stroke-dasharray="2.4 0.5" filter="url(#rough)"/>
<path d="M124.5 386 C123 396 126 404 128 410" fill="none" stroke="#ecb4cc" stroke-width="0.8"/>
<line x1="67.20" y1="440.20" x2="77.00" y2="440.20" stroke="#4a3a3a" stroke-width="0.8"/>
</g>
<rect x="115.00" y="431.60" width="12.40" height="10.20" fill="#fff"/>
<text x="121.60" y="441.14" font-size="11" text-anchor="middle" font-weight="700" fill="#000">d</text>
<text x="152.70" y="306.28" font-size="8.6" text-anchor="middle" font-weight="700" fill="#000">(e)</text>
<line x1="160.50" y1="322.60" x2="160.50" y2="439.10" stroke="#111" stroke-width="1.2"/>
<line x1="160.00" y1="438.60" x2="222.00" y2="438.60" stroke="#111" stroke-width="1.2"/>
<line x1="158.10" y1="438.60" x2="160.50" y2="438.60" stroke="#111" stroke-width="0.9"/>
<text transform="translate(153.30 438.90) scale(1 1.2)" x="0" y="2.79" font-size="7.8" text-anchor="end" fill="#000">0</text>
<line x1="158.10" y1="409.70" x2="160.50" y2="409.70" stroke="#111" stroke-width="0.9"/>
<text transform="translate(153.30 410.00) scale(1 1.2)" x="0" y="2.79" font-size="7.8" text-anchor="end" fill="#000">30</text>
<line x1="158.10" y1="380.80" x2="160.50" y2="380.80" stroke="#111" stroke-width="0.9"/>
<text transform="translate(153.30 381.10) scale(1 1.2)" x="0" y="2.79" font-size="7.8" text-anchor="end" fill="#000">60</text>
<line x1="158.10" y1="351.90" x2="160.50" y2="351.90" stroke="#111" stroke-width="0.9"/>
<text transform="translate(153.30 352.20) scale(1 1.2)" x="0" y="2.79" font-size="7.8" text-anchor="end" fill="#000">90</text>
<line x1="158.10" y1="323.00" x2="160.50" y2="323.00" stroke="#111" stroke-width="0.9"/>
<text transform="translate(153.30 323.30) scale(1 1.2)" x="0" y="2.79" font-size="7.8" text-anchor="end" fill="#000">120</text>
<line x1="191.30" y1="438.60" x2="191.30" y2="440.80" stroke="#111" stroke-width="0.9"/>
<line x1="221.60" y1="438.60" x2="221.60" y2="440.80" stroke="#111" stroke-width="0.9"/>
<line x1="175.95" y1="335.52" x2="175.95" y2="325.60" stroke="#2a2a2a" stroke-width="0.8"/>
<line x1="173.65" y1="325.60" x2="178.25" y2="325.60" stroke="#2a2a2a" stroke-width="0.8"/>
<rect x="166.35" y="335.97" width="19.20" height="102.63" fill="#000" stroke="#111" stroke-width="0.9"/>
<line x1="206.45" y1="385.13" x2="206.45" y2="375.21" stroke="#2a2a2a" stroke-width="0.8"/>
<line x1="204.15" y1="375.21" x2="208.75" y2="375.21" stroke="#2a2a2a" stroke-width="0.8"/>
<rect x="197.45" y="385.58" width="18.00" height="53.02" fill="#a8a8a8" stroke="#111" stroke-width="0.9"/>
<text transform="translate(176.00 446.60) scale(1 1.1)" x="0" y="2.18" font-size="6.1" text-anchor="middle" fill="#000">NS SLIT</text>
<text transform="translate(206.70 446.60) scale(1 1.1)" x="0" y="2.18" font-size="6.1" text-anchor="middle" fill="#000">Der.f SLIT</text>
<text transform="translate(206.70 454.35) scale(1 1.1)" x="0" y="2.18" font-size="6.1" text-anchor="middle" fill="#000">(1000 µg)</text>
<text transform="translate(140.90 376.80) rotate(-90)" x="0" y="2.47" font-size="6.9" text-anchor="middle" fill="#000">µm<tspan font-size="4.4" dy="-2.2">2</tspan><tspan dy="2.2">/mm  BM</tspan></text>
<text x="206.90" y="371.46" font-size="8" text-anchor="middle" font-weight="700" fill="#000">**</text>
<text transform="translate(273.60 297.50) scale(1 1.1)" x="0" y="4.22" font-size="11.8" text-anchor="middle" font-weight="700" fill="#000" stroke="#111" stroke-width="0.25">F</text>
<line x1="281.60" y1="320.10" x2="281.60" y2="439.80" stroke="#111" stroke-width="1.2"/>
<line x1="281.10" y1="439.30" x2="346.00" y2="439.30" stroke="#111" stroke-width="1.2"/>
<line x1="279.20" y1="439.30" x2="281.60" y2="439.30" stroke="#111" stroke-width="0.9"/>
<text transform="translate(277.00 439.60) scale(1 1.2)" x="0" y="2.04" font-size="5.7" text-anchor="end" fill="#000">0</text>
<line x1="279.20" y1="409.60" x2="281.60" y2="409.60" stroke="#111" stroke-width="0.9"/>
<text transform="translate(277.00 409.90) scale(1 1.2)" x="0" y="2.04" font-size="5.7" text-anchor="end" fill="#000">2000</text>
<line x1="279.20" y1="379.90" x2="281.60" y2="379.90" stroke="#111" stroke-width="0.9"/>
<text transform="translate(277.00 380.20) scale(1 1.2)" x="0" y="2.04" font-size="5.7" text-anchor="end" fill="#000">4000</text>
<line x1="279.20" y1="350.20" x2="281.60" y2="350.20" stroke="#111" stroke-width="0.9"/>
<text transform="translate(277.00 350.50) scale(1 1.2)" x="0" y="2.04" font-size="5.7" text-anchor="end" fill="#000">6000</text>
<line x1="279.20" y1="320.50" x2="281.60" y2="320.50" stroke="#111" stroke-width="0.9"/>
<text transform="translate(277.00 320.80) scale(1 1.2)" x="0" y="2.04" font-size="5.7" text-anchor="end" fill="#000">8000</text>
<line x1="313.60" y1="439.30" x2="313.60" y2="441.50" stroke="#111" stroke-width="0.9"/>
<line x1="345.60" y1="439.30" x2="345.60" y2="441.50" stroke="#111" stroke-width="0.9"/>
<line x1="297.65" y1="344.26" x2="297.65" y2="328.96" stroke="#2a2a2a" stroke-width="0.8"/>
<line x1="295.35" y1="328.96" x2="299.95" y2="328.96" stroke="#2a2a2a" stroke-width="0.8"/>
<rect x="288.55" y="344.71" width="18.20" height="94.59" fill="#000" stroke="#111" stroke-width="0.9"/>
<line x1="329.50" y1="365.64" x2="329.50" y2="352.72" stroke="#2a2a2a" stroke-width="0.8"/>
<line x1="327.20" y1="352.72" x2="331.80" y2="352.72" stroke="#2a2a2a" stroke-width="0.8"/>
<rect x="320.75" y="366.09" width="17.50" height="73.21" fill="#a8a8a8" stroke="#111" stroke-width="0.9"/>
<text transform="translate(298.20 446.90) scale(1 1.1)" x="0" y="2.15" font-size="6.0" text-anchor="middle" fill="#000">NS SLIT</text>
<text transform="translate(329.70 446.90) scale(1 1.1)" x="0" y="2.15" font-size="6.0" text-anchor="middle" fill="#000">Der.f SLIT</text>
<text transform="translate(329.70 454.52) scale(1 1.1)" x="0" y="2.15" font-size="6.0" text-anchor="middle" fill="#000">(1000 µg)</text>
<text transform="translate(258.40 380.70) rotate(-90)" x="0" y="1.88" font-size="5.25" text-anchor="middle" fill="#000">Fluorescence intensity (Ex 360 - Em 460)</text>
<text transform="translate(363.60 297.50) scale(1 1.1)" x="0" y="4.22" font-size="11.8" text-anchor="middle" font-weight="700" fill="#000" stroke="#111" stroke-width="0.25">G</text>
<line x1="379.80" y1="320.90" x2="379.80" y2="438.00" stroke="#111" stroke-width="1.2"/>
<line x1="379.30" y1="437.50" x2="441.20" y2="437.50" stroke="#111" stroke-width="1.2"/>
<line x1="377.40" y1="437.50" x2="379.80" y2="437.50" stroke="#111" stroke-width="0.9"/>
<text transform="translate(375.20 437.80) scale(1 1.2)" x="0" y="2.04" font-size="5.7" text-anchor="end" fill="#000">0</text>
<line x1="377.40" y1="408.45" x2="379.80" y2="408.45" stroke="#111" stroke-width="0.9"/>
<text transform="translate(375.20 408.75) scale(1 1.2)" x="0" y="2.04" font-size="5.7" text-anchor="end" fill="#000">2000</text>
<line x1="377.40" y1="379.40" x2="379.80" y2="379.40" stroke="#111" stroke-width="0.9"/>
<text transform="translate(375.20 379.70) scale(1 1.2)" x="0" y="2.04" font-size="5.7" text-anchor="end" fill="#000">4000</text>
<line x1="377.40" y1="350.35" x2="379.80" y2="350.35" stroke="#111" stroke-width="0.9"/>
<text transform="translate(375.20 350.65) scale(1 1.2)" x="0" y="2.04" font-size="5.7" text-anchor="end" fill="#000">6000</text>
<line x1="377.40" y1="321.30" x2="379.80" y2="321.30" stroke="#111" stroke-width="0.9"/>
<text transform="translate(375.20 321.60) scale(1 1.2)" x="0" y="2.04" font-size="5.7" text-anchor="end" fill="#000">8000</text>
<line x1="410.00" y1="437.50" x2="410.00" y2="439.70" stroke="#111" stroke-width="0.9"/>
<line x1="440.80" y1="437.50" x2="440.80" y2="439.70" stroke="#111" stroke-width="0.9"/>
<line x1="395.10" y1="402.06" x2="395.10" y2="393.20" stroke="#2a2a2a" stroke-width="0.8"/>
<line x1="392.80" y1="393.20" x2="397.40" y2="393.20" stroke="#2a2a2a" stroke-width="0.8"/>
<rect x="387.85" y="402.51" width="14.50" height="34.99" fill="#000" stroke="#111" stroke-width="0.9"/>
<line x1="425.10" y1="354.27" x2="425.10" y2="343.38" stroke="#2a2a2a" stroke-width="0.8"/>
<line x1="422.80" y1="343.38" x2="427.40" y2="343.38" stroke="#2a2a2a" stroke-width="0.8"/>
<rect x="417.85" y="354.72" width="14.50" height="82.78" fill="#a8a8a8" stroke="#111" stroke-width="0.9"/>
<text transform="translate(395.00 445.60) scale(1 1.1)" x="0" y="2.15" font-size="6.0" text-anchor="middle" fill="#000">NS SLIT</text>
<text transform="translate(426.20 445.60) scale(1 1.1)" x="0" y="2.15" font-size="6.0" text-anchor="middle" fill="#000">Der.f SLIT</text>
<text transform="translate(426.20 453.22) scale(1 1.1)" x="0" y="2.15" font-size="6.0" text-anchor="middle" fill="#000">(1000 µg)</text>
<text transform="translate(355.90 379.90) rotate(-90)" x="0" y="1.84" font-size="5.15" text-anchor="middle" fill="#000">Fluorescence intensity (Ex 360 - Em 460)</text>
<text x="425.20" y="341.86" font-size="8" text-anchor="middle" font-weight="700" fill="#000">**</text>
<text transform="translate(455.50 295.90) scale(1 1.1)" x="0" y="4.22" font-size="11.8" text-anchor="middle" font-weight="700" fill="#000" stroke="#111" stroke-width="0.25">H</text>
<line x1="472.10" y1="294.00" x2="472.10" y2="368.80" stroke="#111" stroke-width="1.6"/>
<line x1="471.90" y1="406.40" x2="471.90" y2="481.20" stroke="#111" stroke-width="1.6"/>
<text transform="translate(473.20 389.00) rotate(-90)" x="0" y="3.65" font-size="10.2" text-anchor="middle" font-weight="700" fill="#000">Foxp3</text>
<line x1="490.80" y1="501.50" x2="527.40" y2="501.50" stroke="#111" stroke-width="1.4"/>
<line x1="552.80" y1="501.50" x2="589.00" y2="501.50" stroke="#111" stroke-width="1.4"/>
<text x="540.90" y="505.65" font-size="10.2" text-anchor="middle" font-weight="700" fill="#000">CD4</text>
<text x="489.70" y="288.08" font-size="8.6" text-anchor="middle" font-weight="700" fill="#000">(a)</text>
<rect x="496.50" y="294.40" width="88.90" height="81.20" fill="#fff" stroke="#777" stroke-width="0.8"/>
<path d="M496.5 294.4V375.6H585.4" fill="none" stroke="#555" stroke-width="0.9"/>
<line x1="497.30" y1="375.60" x2="497.30" y2="377.20" stroke="#666" stroke-width="0.5"/>
<line x1="494.70" y1="374.80" x2="496.50" y2="374.80" stroke="#666" stroke-width="0.5"/>
<text x="497.60" y="381.96" font-size="3.8" text-anchor="middle" fill="#555">10<tspan font-size="2.6" dy="-1.5">0</tspan></text>
<text transform="translate(492.10 375.00) rotate(-90)" x="0" y="1.36" font-size="3.8" text-anchor="middle" fill="#555">10<tspan font-size="2.6" dy="-1.5">0</tspan></text>
<line x1="503.88" y1="375.60" x2="503.88" y2="376.50" stroke="#888" stroke-width="0.35"/>
<line x1="495.50" y1="368.80" x2="496.50" y2="368.80" stroke="#888" stroke-width="0.35"/>
<line x1="507.73" y1="375.60" x2="507.73" y2="376.50" stroke="#888" stroke-width="0.35"/>
<line x1="495.50" y1="365.29" x2="496.50" y2="365.29" stroke="#888" stroke-width="0.35"/>
<line x1="510.46" y1="375.60" x2="510.46" y2="376.50" stroke="#888" stroke-width="0.35"/>
<line x1="495.50" y1="362.80" x2="496.50" y2="362.80" stroke="#888" stroke-width="0.35"/>
<line x1="512.57" y1="375.60" x2="512.57" y2="376.50" stroke="#888" stroke-width="0.35"/>
<line x1="495.50" y1="360.87" x2="496.50" y2="360.87" stroke="#888" stroke-width="0.35"/>
<line x1="514.30" y1="375.60" x2="514.30" y2="376.50" stroke="#888" stroke-width="0.35"/>
<line x1="495.50" y1="359.30" x2="496.50" y2="359.30" stroke="#888" stroke-width="0.35"/>
<line x1="515.77" y1="375.60" x2="515.77" y2="376.50" stroke="#888" stroke-width="0.35"/>
<line x1="495.50" y1="357.96" x2="496.50" y2="357.96" stroke="#888" stroke-width="0.35"/>
<line x1="517.03" y1="375.60" x2="517.03" y2="376.50" stroke="#888" stroke-width="0.35"/>
<line x1="495.50" y1="356.81" x2="496.50" y2="356.81" stroke="#888" stroke-width="0.35"/>
<line x1="518.15" y1="375.60" x2="518.15" y2="376.50" stroke="#888" stroke-width="0.35"/>
<line x1="495.50" y1="355.79" x2="496.50" y2="355.79" stroke="#888" stroke-width="0.35"/>
<line x1="519.15" y1="375.60" x2="519.15" y2="377.20" stroke="#666" stroke-width="0.5"/>
<line x1="494.70" y1="354.88" x2="496.50" y2="354.88" stroke="#666" stroke-width="0.5"/>
<text x="519.45" y="381.96" font-size="3.8" text-anchor="middle" fill="#555">10<tspan font-size="2.6" dy="-1.5">1</tspan></text>
<text transform="translate(492.10 355.07) rotate(-90)" x="0" y="1.36" font-size="3.8" text-anchor="middle" fill="#555">10<tspan font-size="2.6" dy="-1.5">1</tspan></text>
<line x1="525.73" y1="375.60" x2="525.73" y2="376.50" stroke="#888" stroke-width="0.35"/>
<line x1="495.50" y1="348.88" x2="496.50" y2="348.88" stroke="#888" stroke-width="0.35"/>
<line x1="529.58" y1="375.60" x2="529.58" y2="376.50" stroke="#888" stroke-width="0.35"/>
<line x1="495.50" y1="345.37" x2="496.50" y2="345.37" stroke="#888" stroke-width="0.35"/>
<line x1="532.31" y1="375.60" x2="532.31" y2="376.50" stroke="#888" stroke-width="0.35"/>
<line x1="495.50" y1="342.88" x2="496.50" y2="342.88" stroke="#888" stroke-width="0.35"/>
<line x1="534.42" y1="375.60" x2="534.42" y2="376.50" stroke="#888" stroke-width="0.35"/>
<line x1="495.50" y1="340.95" x2="496.50" y2="340.95" stroke="#888" stroke-width="0.35"/>
<line x1="536.15" y1="375.60" x2="536.15" y2="376.50" stroke="#888" stroke-width="0.35"/>
<line x1="495.50" y1="339.37" x2="496.50" y2="339.37" stroke="#888" stroke-width="0.35"/>
<line x1="537.62" y1="375.60" x2="537.62" y2="376.50" stroke="#888" stroke-width="0.35"/>
<line x1="495.50" y1="338.04" x2="496.50" y2="338.04" stroke="#888" stroke-width="0.35"/>
<line x1="538.88" y1="375.60" x2="538.88" y2="376.50" stroke="#888" stroke-width="0.35"/>
<line x1="495.50" y1="336.88" x2="496.50" y2="336.88" stroke="#888" stroke-width="0.35"/>
<line x1="540.00" y1="375.60" x2="540.00" y2="376.50" stroke="#888" stroke-width="0.35"/>
<line x1="495.50" y1="335.86" x2="496.50" y2="335.86" stroke="#888" stroke-width="0.35"/>
<line x1="541.00" y1="375.60" x2="541.00" y2="377.20" stroke="#666" stroke-width="0.5"/>
<line x1="494.70" y1="334.95" x2="496.50" y2="334.95" stroke="#666" stroke-width="0.5"/>
<text x="541.30" y="381.96" font-size="3.8" text-anchor="middle" fill="#555">10<tspan font-size="2.6" dy="-1.5">2</tspan></text>
<text transform="translate(492.10 335.15) rotate(-90)" x="0" y="1.36" font-size="3.8" text-anchor="middle" fill="#555">10<tspan font-size="2.6" dy="-1.5">2</tspan></text>
<line x1="547.58" y1="375.60" x2="547.58" y2="376.50" stroke="#888" stroke-width="0.35"/>
<line x1="495.50" y1="328.95" x2="496.50" y2="328.95" stroke="#888" stroke-width="0.35"/>
<line x1="551.43" y1="375.60" x2="551.43" y2="376.50" stroke="#888" stroke-width="0.35"/>
<line x1="495.50" y1="325.44" x2="496.50" y2="325.44" stroke="#888" stroke-width="0.35"/>
<line x1="554.16" y1="375.60" x2="554.16" y2="376.50" stroke="#888" stroke-width="0.35"/>
<line x1="495.50" y1="322.95" x2="496.50" y2="322.95" stroke="#888" stroke-width="0.35"/>
<line x1="556.27" y1="375.60" x2="556.27" y2="376.50" stroke="#888" stroke-width="0.35"/>
<line x1="495.50" y1="321.02" x2="496.50" y2="321.02" stroke="#888" stroke-width="0.35"/>
<line x1="558.00" y1="375.60" x2="558.00" y2="376.50" stroke="#888" stroke-width="0.35"/>
<line x1="495.50" y1="319.45" x2="496.50" y2="319.45" stroke="#888" stroke-width="0.35"/>
<line x1="559.47" y1="375.60" x2="559.47" y2="376.50" stroke="#888" stroke-width="0.35"/>
<line x1="495.50" y1="318.11" x2="496.50" y2="318.11" stroke="#888" stroke-width="0.35"/>
<line x1="560.73" y1="375.60" x2="560.73" y2="376.50" stroke="#888" stroke-width="0.35"/>
<line x1="495.50" y1="316.96" x2="496.50" y2="316.96" stroke="#888" stroke-width="0.35"/>
<line x1="561.85" y1="375.60" x2="561.85" y2="376.50" stroke="#888" stroke-width="0.35"/>
<line x1="495.50" y1="315.94" x2="496.50" y2="315.94" stroke="#888" stroke-width="0.35"/>
<line x1="562.85" y1="375.60" x2="562.85" y2="377.20" stroke="#666" stroke-width="0.5"/>
<line x1="494.70" y1="315.02" x2="496.50" y2="315.02" stroke="#666" stroke-width="0.5"/>
<text x="563.15" y="381.96" font-size="3.8" text-anchor="middle" fill="#555">10<tspan font-size="2.6" dy="-1.5">3</tspan></text>
<text transform="translate(492.10 315.22) rotate(-90)" x="0" y="1.36" font-size="3.8" text-anchor="middle" fill="#555">10<tspan font-size="2.6" dy="-1.5">3</tspan></text>
<line x1="569.43" y1="375.60" x2="569.43" y2="376.50" stroke="#888" stroke-width="0.35"/>
<line x1="495.50" y1="309.03" x2="496.50" y2="309.03" stroke="#888" stroke-width="0.35"/>
<line x1="573.28" y1="375.60" x2="573.28" y2="376.50" stroke="#888" stroke-width="0.35"/>
<line x1="495.50" y1="305.52" x2="496.50" y2="305.52" stroke="#888" stroke-width="0.35"/>
<line x1="576.01" y1="375.60" x2="576.01" y2="376.50" stroke="#888" stroke-width="0.35"/>
<line x1="495.50" y1="303.03" x2="496.50" y2="303.03" stroke="#888" stroke-width="0.35"/>
<line x1="578.12" y1="375.60" x2="578.12" y2="376.50" stroke="#888" stroke-width="0.35"/>
<line x1="495.50" y1="301.10" x2="496.50" y2="301.10" stroke="#888" stroke-width="0.35"/>
<line x1="579.85" y1="375.60" x2="579.85" y2="376.50" stroke="#888" stroke-width="0.35"/>
<line x1="495.50" y1="299.52" x2="496.50" y2="299.52" stroke="#888" stroke-width="0.35"/>
<line x1="581.32" y1="375.60" x2="581.32" y2="376.50" stroke="#888" stroke-width="0.35"/>
<line x1="495.50" y1="298.19" x2="496.50" y2="298.19" stroke="#888" stroke-width="0.35"/>
<line x1="582.58" y1="375.60" x2="582.58" y2="376.50" stroke="#888" stroke-width="0.35"/>
<line x1="495.50" y1="297.03" x2="496.50" y2="297.03" stroke="#888" stroke-width="0.35"/>
<line x1="583.70" y1="375.60" x2="583.70" y2="376.50" stroke="#888" stroke-width="0.35"/>
<line x1="495.50" y1="296.01" x2="496.50" y2="296.01" stroke="#888" stroke-width="0.35"/>
<line x1="584.70" y1="375.60" x2="584.70" y2="377.20" stroke="#666" stroke-width="0.5"/>
<line x1="494.70" y1="295.10" x2="496.50" y2="295.10" stroke="#666" stroke-width="0.5"/>
<text x="585.00" y="381.96" font-size="3.8" text-anchor="middle" fill="#555">10<tspan font-size="2.6" dy="-1.5">4</tspan></text>
<text transform="translate(492.10 295.30) rotate(-90)" x="0" y="1.36" font-size="3.8" text-anchor="middle" fill="#555">10<tspan font-size="2.6" dy="-1.5">4</tspan></text>
<path d="M515.0 360.9h.7M514.5 358.8h.7M510.7 360.3h.7M522.5 358.3h.7M521.9 358.0h.7M518.3 359.0h.7M507.4 364.2h.7M519.2 359.6h.7M505.3 357.8h.7M510.7 359.6h.7M517.7 358.6h.7M518.4 356.7h.7M518.0 359.6h.7M513.7 364.6h.7M520.0 361.2h.7M512.0 358.4h.7M514.0 359.5h.7M519.7 358.7h.7M512.8 357.6h.7M514.1 363.1h.7M511.7 361.2h.7M517.2 354.8h.7M517.3 362.4h.7M504.6 361.9h.7M514.8 357.4h.7M518.7 358.2h.7M508.5 363.8h.7M520.4 360.4h.7M524.3 357.6h.7M515.7 355.8h.7M518.9 356.6h.7M512.5 356.8h.7M510.2 359.5h.7M521.6 351.9h.7M508.1 362.3h.7M524.4 358.2h.7M503.5 356.2h.7M517.4 356.8h.7M510.5 363.5h.7M522.2 357.7h.7M517.7 359.9h.7M525.3 358.0h.7M519.3 359.7h.7M508.3 365.1h.7M521.7 358.9h.7M504.6 361.0h.7M519.3 353.3h.7M515.8 362.0h.7M510.0 365.4h.7M518.9 357.9h.7M518.3 360.3h.7M517.5 361.8h.7M512.0 359.3h.7M521.8 357.5h.7M511.8 363.1h.7M523.8 355.6h.7M508.2 361.2h.7M514.9 358.7h.7M523.0 354.2h.7M522.0 353.9h.7M512.1 362.1h.7M522.9 359.4h.7M518.0 359.0h.7M517.3 360.4h.7M515.2 360.2h.7M519.2 358.2h.7M520.7 359.3h.7M527.4 356.6h.7M513.3 359.0h.7M516.6 361.5h.7M514.4 360.7h.7M524.2 349.7h.7M510.0 361.7h.7M518.4 359.1h.7M514.1 361.6h.7M517.2 357.4h.7M529.7 355.9h.7M512.9 359.9h.7M514.7 359.4h.7M500.5 362.7h.7M520.7 354.6h.7M516.4 361.7h.7M521.9 361.4h.7M506.3 361.2h.7M514.6 361.3h.7M520.0 350.7h.7M520.9 353.7h.7M518.6 354.3h.7M517.9 361.9h.7M515.3 359.9h.7M520.5 358.2h.7M516.7 363.2h.7M521.6 356.7h.7M530.3 351.6h.7M520.9 357.0h.7M517.3 360.7h.7M517.7 360.4h.7M506.4 358.1h.7M518.7 355.8h.7M509.2 357.3h.7M523.6 358.9h.7M523.4 354.3h.7M515.1 356.4h.7M521.5 361.8h.7M512.3 364.6h.7M521.3 357.1h.7M506.2 366.1h.7M515.0 357.9h.7M518.5 359.5h.7M523.5 354.1h.7M523.4 360.9h.7M523.9 356.3h.7M512.7 363.0h.7M516.7 359.3h.7M523.7 356.1h.7M503.0 362.2h.7M506.4 364.4h.7M517.3 357.1h.7M516.6 361.3h.7M517.5 362.4h.7M516.5 361.9h.7M525.5 360.6h.7M513.0 362.5h.7M504.8 359.7h.7M505.9 365.2h.7M509.2 361.3h.7M514.9 359.5h.7M512.9 360.8h.7M526.0 356.2h.7M519.7 360.8h.7M513.9 356.4h.7M513.7 362.8h.7M506.4 360.5h.7M522.2 359.4h.7M516.7 361.2h.7M516.0 356.0h.7M506.8 360.3h.7M520.7 356.2h.7M510.4 358.8h.7M507.4 361.5h.7M509.7 362.1h.7M503.2 364.1h.7M511.0 355.5h.7M519.8 357.3h.7M503.0 360.8h.7M517.3 357.6h.7M520.9 359.7h.7M519.9 358.9h.7M523.9 358.6h.7M516.9 353.3h.7M522.0 360.9h.7M514.0 358.5h.7M525.4 351.5h.7M520.5 364.4h.7M511.4 362.5h.7M526.4 355.7h.7M519.8 360.5h.7M510.9 360.5h.7M518.3 360.7h.7M515.7 358.8h.7M510.1 360.0h.7M521.0 357.9h.7M510.6 358.6h.7M531.7 357.5h.7M517.5 351.7h.7M519.8 359.3h.7M525.7 357.4h.7M516.0 360.6h.7M506.0 365.1h.7M517.3 356.9h.7M524.7 361.4h.7M507.7 359.9h.7M517.8 359.2h.7M513.0 357.5h.7M528.5 358.1h.7M508.3 357.9h.7M526.2 358.7h.7M526.7 358.1h.7M511.4 361.3h.7M503.5 361.0h.7M516.1 360.6h.7M511.9 360.1h.7M518.8 359.3h.7M519.7 358.6h.7M514.8 361.7h.7M515.6 357.1h.7M512.5 360.3h.7M515.5 359.8h.7M516.1 359.6h.7M514.3 356.3h.7M519.1 361.1h.7M518.3 358.0h.7M517.7 356.0h.7M505.5 362.6h.7M511.4 362.6h.7M508.0 354.5h.7M511.5 364.9h.7M512.8 356.5h.7M512.2 361.8h.7M518.9 358.8h.7M524.8 358.4h.7M516.3 360.7h.7M525.9 358.8h.7M520.8 354.8h.7M515.7 361.3h.7M515.2 362.4h.7M520.0 360.4h.7M516.8 365.9h.7M522.7 356.5h.7M518.5 365.5h.7M514.8 362.0h.7M521.4 357.5h.7M509.7 361.7h.7M518.9 361.4h.7M520.4 357.9h.7M521.1 359.1h.7M517.2 359.0h.7M515.2 361.3h.7M509.7 359.4h.7M514.9 355.6h.7M512.0 355.0h.7M512.7 361.8h.7M519.1 358.1h.7M513.6 356.1h.7M526.5 357.3h.7M521.4 355.1h.7M513.6 355.0h.7M521.0 360.2h.7M505.4 362.3h.7M518.1 353.7h.7M505.1 359.7h.7M511.4 356.8h.7M516.4 359.8h.7M520.1 359.9h.7M525.2 359.5h.7M508.3 360.2h.7M509.3 358.3h.7M515.6 359.4h.7M517.5 354.4h.7M509.1 361.3h.7M514.7 358.8h.7M515.1 357.4h.7M520.2 358.9h.7M515.0 357.7h.7M512.9 352.7h.7M510.6 361.0h.7M507.8 362.3h.7M515.8 355.5h.7M514.4 358.8h.7M519.0 359.9h.7M515.1 357.1h.7M515.2 359.3h.7M520.3 358.7h.7M511.0 357.1h.7M513.4 358.0h.7M509.8 360.8h.7M513.4 360.3h.7M518.6 357.3h.7M528.6 354.4h.7M522.2 357.6h.7M546.3 353.1h.7M531.8 360.5h.7M541.7 367.5h.7M539.7 364.1h.7M543.2 363.2h.7M541.4 359.7h.7M541.5 356.9h.7M546.6 357.3h.7M539.1 366.7h.7M535.8 360.0h.7M546.3 360.5h.7M531.3 360.5h.7M541.8 362.4h.7M531.4 365.1h.7M550.1 360.7h.7M539.6 358.8h.7M548.3 358.4h.7M542.7 358.8h.7M532.1 362.0h.7M547.6 360.5h.7M532.2 362.3h.7M537.1 360.9h.7M548.9 364.1h.7M533.2 366.9h.7M537.4 362.4h.7M532.6 359.6h.7M523.9 364.9h.7M548.1 356.8h.7M526.3 354.4h.7M546.5 359.0h.7M537.1 359.0h.7M536.7 356.6h.7M537.9 355.6h.7M536.9 360.9h.7M541.1 359.5h.7M530.6 360.2h.7M533.6 364.7h.7M543.3 359.9h.7M534.0 357.6h.7M530.4 358.6h.7M539.7 361.7h.7M541.5 366.7h.7M532.1 359.8h.7M559.0 355.3h.7M533.5 360.3h.7M538.6 361.3h.7M535.6 361.0h.7M537.8 362.4h.7M523.3 356.5h.7M537.6 356.8h.7M529.5 361.5h.7M532.5 361.7h.7M543.1 361.2h.7M541.4 359.9h.7M526.8 359.4h.7M541.0 358.5h.7M536.6 362.3h.7M530.7 361.6h.7M551.7 359.0h.7M538.6 359.6h.7M549.1 361.6h.7M544.4 358.2h.7M537.4 360.0h.7M523.8 363.8h.7M544.6 354.9h.7M543.2 359.9h.7M540.8 361.3h.7M526.2 358.8h.7M548.9 358.8h.7M529.9 355.4h.7M528.2 360.6h.7M550.3 362.0h.7M539.0 367.0h.7M533.7 357.7h.7M541.4 361.9h.7M530.0 356.0h.7M539.7 360.9h.7M527.6 358.9h.7M533.3 361.2h.7M536.6 359.7h.7M534.7 363.1h.7M548.1 359.4h.7M544.0 358.0h.7M537.9 362.3h.7M549.1 359.4h.7M536.9 360.6h.7M526.1 359.5h.7M532.3 360.9h.7M529.2 353.5h.7M537.8 360.8h.7M533.2 362.5h.7M535.5 358.0h.7M541.4 355.3h.7M532.4 359.7h.7M544.0 359.8h.7M539.9 358.1h.7M539.5 365.3h.7M531.9 367.1h.7M532.6 359.8h.7M538.7 363.2h.7M528.4 353.0h.7M542.0 362.7h.7M541.8 368.4h.7M539.0 360.9h.7M544.5 361.5h.7M550.3 356.8h.7M535.2 349.2h.7M543.7 359.2h.7M544.2 367.0h.7M537.5 359.2h.7M533.8 357.2h.7M532.6 361.7h.7M537.8 360.2h.7M536.0 362.8h.7M541.3 359.7h.7M542.6 359.8h.7M528.5 364.1h.7M541.2 357.2h.7M545.6 361.5h.7M525.4 364.4h.7M539.9 362.9h.7M539.0 359.6h.7M525.6 362.4h.7M537.8 359.1h.7M540.2 360.4h.7M542.7 359.1h.7M537.6 353.4h.7M534.2 361.9h.7M547.7 359.4h.7M536.3 364.9h.7M534.9 362.1h.7M550.2 360.8h.7M546.9 358.3h.7M539.1 359.8h.7M538.2 363.5h.7M555.7 358.8h.7M533.1 361.3h.7M529.4 361.1h.7M541.9 359.4h.7M541.8 355.4h.7M543.5 355.5h.7M532.3 358.0h.7M534.3 362.5h.7M538.2 358.8h.7M541.4 365.1h.7M537.5 361.1h.7M546.9 361.3h.7M527.4 367.2h.7M554.6 354.7h.7M537.1 361.3h.7M544.7 362.4h.7M535.6 356.6h.7M538.1 363.2h.7M529.4 356.4h.7M537.6 354.0h.7M535.6 358.5h.7M541.0 358.0h.7M530.9 358.4h.7M537.2 357.9h.7M537.5 362.3h.7M546.2 365.7h.7M531.6 358.4h.7M518.4 364.9h.7M532.0 359.6h.7M541.7 356.0h.7M541.0 360.1h.7M523.6 360.2h.7M546.9 354.7h.7M543.6 361.0h.7M541.0 361.5h.7M547.4 359.8h.7M544.2 359.1h.7M543.2 357.8h.7M536.4 365.3h.7M540.9 359.7h.7M528.9 357.1h.7M538.8 363.0h.7M540.7 361.8h.7M537.0 364.2h.7M534.6 358.1h.7M544.2 360.5h.7M535.5 358.1h.7M535.5 361.8h.7M540.4 356.4h.7M540.7 360.7h.7M529.8 362.0h.7M535.4 358.9h.7M543.3 364.4h.7M532.2 361.1h.7M530.5 366.8h.7M533.6 363.5h.7M532.5 362.3h.7M554.7 353.0h.7M534.1 361.4h.7M536.9 357.9h.7M553.8 361.1h.7M524.9 362.0h.7M524.3 362.9h.7M533.1 360.2h.7M547.1 360.8h.7M527.2 354.2h.7M546.4 362.7h.7M531.2 362.4h.7M541.2 362.2h.7M520.4 358.2h.7M544.2 362.6h.7M544.6 352.7h.7M538.7 361.6h.7M557.0 358.0h.7M535.0 360.0h.7M544.3 359.0h.7M546.3 358.0h.7M539.6 358.5h.7M538.8 357.9h.7M525.2 362.8h.7M539.9 358.4h.7M538.9 363.1h.7M530.1 359.3h.7M541.5 361.8h.7M535.3 353.3h.7M546.9 361.5h.7M537.6 359.1h.7M539.6 358.8h.7M529.8 357.3h.7M533.1 357.9h.7M528.6 361.5h.7M527.5 361.5h.7M529.7 360.7h.7M547.9 361.2h.7M531.9 359.9h.7M538.9 354.7h.7M532.9 360.3h.7M533.9 360.1h.7M543.0 362.7h.7M544.3 362.2h.7M535.3 359.8h.7M535.5 358.9h.7M536.4 354.6h.7M535.0 359.8h.7M530.1 359.6h.7M541.4 359.7h.7M553.7 352.7h.7M536.2 354.3h.7M544.5 368.6h.7M518.5 359.4h.7M541.5 359.3h.7M542.0 353.3h.7M543.9 361.5h.7M537.8 358.2h.7M542.4 358.7h.7M539.3 358.5h.7M520.5 359.0h.7M538.9 362.4h.7M530.9 359.6h.7M542.2 360.7h.7M546.6 366.6h.7M530.9 353.7h.7M543.8 365.1h.7M544.4 362.9h.7M532.9 357.6h.7M544.4 357.5h.7M523.9 356.2h.7M556.1 366.9h.7M532.4 357.5h.7M539.4 357.8h.7M547.5 360.3h.7M529.1 363.6h.7M533.0 360.5h.7M537.5 359.0h.7M540.1 358.0h.7M523.8 352.5h.7M528.0 357.2h.7M537.3 360.2h.7M541.7 360.6h.7M531.6 357.5h.7M521.4 358.7h.7M541.1 361.8h.7M536.6 359.4h.7M544.6 360.4h.7M543.0 362.1h.7M538.9 364.1h.7M533.2 358.7h.7M531.5 357.2h.7M549.0 366.0h.7M537.6 361.8h.7M546.3 362.9h.7M546.8 356.5h.7M532.6 361.2h.7M548.4 360.9h.7M531.0 358.6h.7M532.6 357.1h.7M549.0 358.6h.7M537.3 366.7h.7M546.4 361.5h.7M532.8 361.0h.7M549.7 362.5h.7M547.1 360.8h.7M541.4 359.6h.7M540.5 364.2h.7M526.6 359.3h.7M539.4 358.3h.7M535.0 362.3h.7M552.6 362.7h.7M540.2 355.3h.7M552.1 361.0h.7M537.4 356.5h.7M537.2 356.6h.7M538.0 361.5h.7M537.7 360.9h.7M530.8 364.1h.7M532.8 354.1h.7M536.2 357.6h.7M529.9 358.5h.7M539.9 356.5h.7M536.2 364.4h.7M542.7 359.8h.7M538.5 359.7h.7M537.0 362.2h.7M537.2 352.5h.7M537.5 357.2h.7M534.8 359.8h.7M528.8 372.3h.7M514.4 357.4h.7M510.1 351.7h.7M504.5 364.1h.7M519.3 354.1h.7M509.2 365.3h.7M517.7 360.8h.7M531.0 368.6h.7M550.3 367.1h.7M528.7 363.3h.7M548.6 368.9h.7M523.3 364.6h.7M530.4 362.7h.7M521.0 356.5h.7M520.6 355.6h.7M541.7 364.9h.7M512.5 368.8h.7M537.7 353.9h.7M549.1 366.1h.7M551.8 357.0h.7M533.4 364.4h.7M529.4 363.3h.7M539.6 355.8h.7M512.1 356.2h.7M520.3 359.8h.7M531.4 363.7h.7M527.4 359.5h.7M521.7 366.8h.7M536.2 363.0h.7M523.1 369.5h.7M519.9 365.4h.7M540.8 361.3h.7M536.9 357.5h.7M539.2 363.4h.7M508.0 365.5h.7M516.3 368.3h.7M518.9 361.8h.7M530.4 361.0h.7M530.1 360.0h.7M535.1 362.5h.7M529.5 350.1h.7M540.9 362.6h.7M505.6 362.9h.7M532.6 367.3h.7M514.0 369.5h.7M525.1 373.3h.7M525.2 365.6h.7M522.6 357.5h.7M540.2 366.6h.7M545.5 366.4h.7M520.1 355.0h.7M519.2 359.5h.7M517.2 365.1h.7M530.9 361.3h.7M529.1 361.8h.7M529.6 365.9h.7M538.5 359.4h.7M508.9 368.9h.7M528.4 367.5h.7M507.3 361.0h.7M527.3 356.0h.7M520.8 365.8h.7M539.9 369.7h.7M516.6 356.2h.7M533.2 366.7h.7M529.3 356.6h.7M536.4 366.1h.7M533.6 360.3h.7M530.6 366.1h.7M520.3 354.2h.7M530.9 364.7h.7M527.2 366.5h.7M520.0 362.1h.7M523.3 365.1h.7M546.1 361.4h.7M551.7 369.4h.7M536.5 365.1h.7M548.2 361.7h.7M525.7 357.7h.7M532.7 368.6h.7M533.4 364.4h.7M524.6 363.3h.7M509.9 367.2h.7M522.1 357.5h.7M518.0 358.8h.7M537.3 367.3h.7M510.7 366.7h.7M537.7 359.9h.7M509.2 359.1h.7M519.4 364.0h.7M522.7 353.4h.7M529.8 355.6h.7M537.9 357.1h.7M518.7 358.7h.7M520.5 368.3h.7M537.2 365.2h.7M530.8 355.5h.7M520.8 360.0h.7M515.3 364.8h.7M518.1 359.3h.7M514.5 353.2h.7M534.1 368.5h.7M529.1 358.1h.7M541.6 363.8h.7M538.1 369.2h.7M540.5 360.5h.7M539.6 366.0h.7M508.6 360.7h.7" stroke="#f73aa6" stroke-width="0.7" opacity="0.8" fill="none"/>
<path d="M513.2 358.8h.7M518.8 356.3h.7M511.7 361.2h.7M518.9 360.2h.7M513.8 360.5h.7M524.1 360.0h.7M516.9 358.7h.7M517.2 359.8h.7M520.5 357.8h.7M513.6 360.0h.7M516.2 359.4h.7M518.6 360.5h.7M520.6 356.9h.7M518.9 360.6h.7M515.9 359.1h.7M521.3 359.4h.7M518.6 356.0h.7M513.7 359.2h.7M519.2 361.8h.7M515.2 360.3h.7M519.2 355.3h.7M515.0 358.9h.7M515.9 358.2h.7M518.6 356.8h.7M518.6 357.0h.7M515.9 359.3h.7M515.8 358.9h.7M522.1 357.4h.7M517.2 359.4h.7M516.6 360.0h.7M513.8 359.8h.7M515.7 357.3h.7M522.4 356.0h.7M522.8 358.2h.7M521.4 356.0h.7M521.3 359.7h.7M517.0 358.1h.7M524.7 357.1h.7M516.0 357.5h.7M518.8 358.4h.7M518.4 360.6h.7M516.6 359.1h.7M521.4 355.9h.7M521.0 360.3h.7M513.1 357.3h.7M513.8 356.0h.7M518.2 355.2h.7M519.3 360.1h.7M512.5 358.6h.7M511.9 360.4h.7M515.2 358.2h.7M517.7 359.0h.7M516.4 358.4h.7M515.8 358.7h.7M514.0 358.9h.7M511.6 358.5h.7M523.1 357.3h.7M513.8 359.3h.7M514.1 356.3h.7M515.4 359.7h.7M518.5 357.9h.7M514.4 357.1h.7M521.4 357.8h.7M514.0 355.6h.7M514.0 362.6h.7M514.0 358.7h.7M518.0 357.9h.7M516.2 356.3h.7M514.8 361.3h.7M515.4 359.9h.7M512.3 358.7h.7M518.4 359.6h.7M514.2 359.7h.7M518.3 356.9h.7M518.6 356.6h.7M515.0 358.6h.7M509.4 359.5h.7M514.1 356.6h.7M516.4 359.6h.7M516.5 360.3h.7M513.6 356.9h.7M522.1 358.0h.7M520.0 356.5h.7M519.8 358.2h.7M519.3 357.9h.7M520.8 356.6h.7M514.2 356.5h.7M520.6 356.5h.7M514.1 357.4h.7M515.7 356.6h.7M516.4 357.4h.7M515.5 357.1h.7M517.4 357.5h.7M517.8 358.5h.7M517.8 354.8h.7M515.6 357.3h.7M519.3 355.5h.7M515.2 358.2h.7M516.7 359.8h.7M516.4 359.9h.7M512.6 356.3h.7M521.1 358.2h.7M518.9 358.1h.7M518.5 356.1h.7M520.1 356.9h.7M520.3 357.8h.7M511.2 357.4h.7M520.7 357.4h.7M516.3 358.8h.7M516.0 357.6h.7M517.7 358.4h.7M521.9 357.5h.7M523.4 359.9h.7M522.8 358.8h.7M517.8 358.3h.7M516.8 357.2h.7M517.0 357.3h.7M522.4 358.1h.7M515.6 355.6h.7M517.1 357.6h.7M513.9 357.1h.7M510.9 360.2h.7M517.9 362.0h.7M517.3 358.0h.7M521.7 357.6h.7M517.8 357.6h.7M516.0 360.7h.7M520.8 360.2h.7M516.4 358.4h.7M515.1 360.1h.7M513.4 359.8h.7M521.0 359.7h.7M514.9 360.3h.7M515.1 357.5h.7M513.8 360.6h.7M522.1 356.4h.7M515.1 358.1h.7M525.1 358.3h.7M515.3 355.8h.7M515.7 360.3h.7M522.8 356.8h.7M515.2 357.8h.7M512.1 360.6h.7M514.5 360.4h.7M512.0 357.2h.7M518.0 356.9h.7M519.7 357.8h.7M514.1 359.7h.7M519.4 354.9h.7M522.9 358.0h.7M519.1 355.0h.7M515.2 358.1h.7M520.2 355.5h.7M514.2 355.7h.7M516.8 358.8h.7M512.3 358.2h.7M519.3 360.3h.7M519.3 357.4h.7M513.7 357.5h.7M515.5 358.8h.7M517.7 360.7h.7M518.0 356.5h.7M522.2 358.8h.7M517.5 357.1h.7M511.6 357.7h.7M519.9 356.5h.7M513.6 359.2h.7M518.3 359.0h.7M519.7 359.9h.7M515.2 360.1h.7M514.7 359.8h.7M518.0 358.5h.7M520.3 357.7h.7M520.9 358.9h.7M517.6 357.3h.7M515.0 357.8h.7M516.8 358.3h.7M526.4 357.5h.7M519.4 356.5h.7M515.2 358.1h.7M517.7 356.6h.7M522.0 356.5h.7M520.0 354.2h.7M517.5 358.6h.7M518.1 359.0h.7M518.3 358.3h.7M511.6 358.2h.7M510.7 360.4h.7M518.3 357.7h.7M514.8 357.8h.7M523.3 359.8h.7M517.6 360.1h.7M512.2 356.2h.7M515.7 357.2h.7M515.8 358.8h.7M526.2 355.6h.7M517.6 358.6h.7M517.5 359.6h.7M522.3 355.4h.7M517.8 357.7h.7M518.0 355.7h.7M511.6 355.7h.7M519.0 358.2h.7M517.0 354.7h.7M516.1 357.3h.7M513.0 357.6h.7M519.6 358.6h.7M517.5 359.0h.7M515.6 358.6h.7M517.7 359.0h.7M517.2 358.0h.7M516.8 357.3h.7M524.1 357.8h.7M519.3 361.4h.7M521.1 355.1h.7M519.7 359.1h.7M523.3 359.1h.7M519.4 356.0h.7M514.9 359.1h.7M518.6 356.4h.7M516.2 357.8h.7M517.7 358.7h.7M516.2 356.5h.7M521.5 359.9h.7M517.4 359.8h.7M518.9 358.9h.7M518.6 356.8h.7M519.4 359.4h.7M515.3 361.6h.7M524.1 359.8h.7M523.5 358.2h.7M516.2 357.5h.7M515.0 358.8h.7M517.5 359.2h.7M512.1 362.7h.7M524.1 356.9h.7M519.5 358.5h.7M518.2 357.7h.7M516.8 357.0h.7M517.9 358.1h.7M518.1 356.8h.7M517.5 358.2h.7M518.9 356.3h.7M518.9 359.4h.7M519.1 357.3h.7M515.9 358.1h.7M520.0 360.1h.7M516.8 357.3h.7M518.6 358.3h.7M514.5 357.6h.7M517.3 359.2h.7M513.6 357.3h.7M518.5 356.1h.7M517.8 358.7h.7M516.8 356.8h.7M517.1 357.7h.7M518.2 356.8h.7M520.2 355.1h.7M516.9 358.3h.7M520.1 356.8h.7M518.9 357.1h.7M520.0 360.4h.7M516.3 359.1h.7M514.9 360.1h.7M521.0 357.6h.7M514.2 359.4h.7M521.1 359.2h.7M519.3 355.1h.7M515.8 360.7h.7M514.1 360.5h.7M523.2 358.3h.7M520.6 357.1h.7M513.8 358.7h.7M516.8 358.2h.7M519.4 357.6h.7M518.1 358.7h.7M517.9 360.9h.7M518.7 358.1h.7M516.6 357.4h.7M521.4 357.7h.7M514.1 357.9h.7M516.9 357.6h.7M520.3 355.9h.7M518.9 358.1h.7M513.9 358.9h.7M517.3 359.0h.7M516.2 358.9h.7M512.2 357.5h.7M520.0 359.3h.7M517.2 357.3h.7M520.0 354.5h.7M515.2 359.6h.7M519.0 356.3h.7M512.2 361.4h.7M517.6 356.8h.7M517.8 359.5h.7M510.0 361.2h.7M519.0 354.7h.7M519.2 355.2h.7M520.9 358.2h.7M523.9 356.1h.7M517.7 359.7h.7M515.3 357.5h.7M516.3 358.3h.7M514.3 359.5h.7M519.0 358.0h.7M522.3 356.8h.7M521.1 356.7h.7M519.1 354.9h.7M517.9 357.8h.7M515.8 357.6h.7M516.2 357.3h.7M510.8 358.5h.7M515.6 357.7h.7M514.2 358.6h.7M519.6 357.4h.7M516.3 360.5h.7M520.5 359.0h.7M520.7 357.1h.7M517.3 359.9h.7M515.7 358.3h.7M518.6 358.5h.7M516.8 359.8h.7M517.1 359.4h.7M520.7 358.6h.7M519.3 356.1h.7M513.4 358.0h.7M519.2 360.2h.7M513.9 359.3h.7M514.7 357.6h.7M516.8 359.4h.7M518.3 359.8h.7M514.7 360.0h.7M520.2 357.8h.7M518.7 357.1h.7M514.1 358.2h.7M516.3 362.8h.7M516.4 360.9h.7M518.1 358.6h.7M519.4 356.7h.7M520.2 358.3h.7M513.1 359.9h.7M519.2 358.6h.7M522.0 356.7h.7M519.1 359.0h.7M515.1 360.5h.7M512.8 357.1h.7M518.6 356.3h.7M516.6 355.8h.7M517.3 356.5h.7M518.0 355.8h.7M518.7 357.6h.7M517.6 358.1h.7M517.4 356.2h.7M509.8 359.6h.7M514.5 358.0h.7M518.1 355.0h.7M515.0 357.7h.7M514.4 359.3h.7M516.8 357.1h.7M514.7 359.9h.7M515.6 359.4h.7M518.2 355.2h.7M514.2 358.8h.7M518.6 359.2h.7M520.0 359.3h.7M516.2 358.1h.7M519.6 357.2h.7M520.1 355.3h.7M519.3 357.6h.7M511.9 360.7h.7M518.3 358.1h.7M514.1 358.1h.7M521.6 356.2h.7M506.9 358.8h.7M513.8 358.6h.7M516.0 357.1h.7M515.2 360.2h.7M513.7 361.9h.7M515.5 356.9h.7M519.9 358.6h.7M514.5 359.9h.7M511.7 357.8h.7M520.7 357.2h.7M513.7 359.7h.7M520.1 357.7h.7M512.0 358.7h.7M518.8 359.1h.7M522.8 356.8h.7M516.0 358.4h.7M520.7 356.2h.7M520.5 353.4h.7M519.6 356.8h.7M518.9 359.0h.7M513.9 358.7h.7M518.3 358.9h.7M514.4 357.2h.7M512.4 363.0h.7M516.8 358.0h.7M513.2 360.4h.7M516.2 360.6h.7M519.9 357.8h.7M519.2 356.2h.7M516.3 357.5h.7M513.7 358.9h.7M517.4 360.4h.7M507.3 359.0h.7M514.6 358.0h.7M518.8 358.6h.7M517.4 357.5h.7M519.0 358.5h.7M511.9 358.8h.7M513.0 357.2h.7M517.8 358.2h.7M517.5 356.8h.7M516.6 357.0h.7M518.7 359.0h.7M522.9 359.1h.7M514.9 358.0h.7M514.7 359.2h.7M523.4 358.2h.7M510.6 357.5h.7M513.7 359.7h.7M517.5 358.6h.7M522.4 356.0h.7M515.4 361.6h.7M518.2 356.9h.7M511.0 357.0h.7M510.2 359.6h.7M517.8 359.6h.7M516.8 357.3h.7M515.7 361.4h.7M512.2 359.4h.7M517.6 359.1h.7M516.3 359.2h.7M519.8 357.5h.7M516.0 358.2h.7M514.5 358.4h.7M516.6 358.7h.7M521.7 359.4h.7M516.2 359.3h.7M518.5 359.2h.7M517.5 358.6h.7M515.8 357.3h.7M520.3 359.6h.7M519.5 358.5h.7M518.1 357.4h.7M512.3 360.1h.7M517.8 357.3h.7M514.9 360.6h.7M512.5 361.8h.7M519.9 361.4h.7M515.3 358.6h.7M515.9 358.7h.7M516.6 357.2h.7M520.4 356.5h.7M516.1 359.3h.7M515.7 357.8h.7M518.4 357.5h.7M513.7 358.7h.7M517.2 360.8h.7M514.4 360.2h.7M515.0 358.1h.7M516.5 358.8h.7M520.4 360.3h.7M515.9 360.5h.7M520.6 358.9h.7M515.4 359.9h.7M517.2 358.8h.7M516.8 359.3h.7M521.0 359.3h.7M517.1 359.8h.7M521.4 356.0h.7M521.4 355.4h.7M519.2 358.8h.7M521.9 357.8h.7M515.8 357.3h.7M513.9 360.0h.7M516.5 357.3h.7M518.8 356.8h.7M516.0 357.8h.7M522.7 359.5h.7M516.5 356.0h.7M518.2 358.2h.7M518.6 358.8h.7M516.7 359.7h.7M519.9 358.1h.7M516.1 357.7h.7M519.1 356.2h.7M516.7 357.2h.7M513.4 359.8h.7M517.3 358.3h.7M519.6 355.5h.7M517.3 358.7h.7M519.6 356.2h.7M519.6 358.1h.7M521.7 359.2h.7M519.6 361.1h.7M517.3 357.6h.7M516.1 357.0h.7M516.8 355.4h.7M517.3 358.9h.7M520.2 357.2h.7M521.3 356.5h.7M516.5 355.5h.7M514.9 357.4h.7M521.8 358.2h.7M514.4 359.5h.7M518.7 357.6h.7M517.4 357.7h.7M515.4 355.9h.7M517.5 360.1h.7M521.5 357.0h.7M515.2 358.3h.7M520.1 358.2h.7M515.8 359.0h.7M516.9 359.1h.7M515.8 356.3h.7M517.8 359.3h.7M514.2 358.6h.7M544.0 358.4h.7M535.1 362.0h.7M543.6 360.8h.7M533.5 361.2h.7M529.7 357.1h.7M543.0 361.3h.7M533.8 357.2h.7M540.3 355.4h.7M542.5 359.9h.7M536.4 359.5h.7M543.3 359.5h.7M541.8 361.5h.7M536.3 358.8h.7M535.9 360.3h.7M536.7 359.4h.7M539.8 358.9h.7M548.6 359.2h.7M546.8 360.7h.7M546.4 358.9h.7M544.1 360.4h.7M535.5 358.9h.7M538.3 358.6h.7M546.4 358.0h.7M529.8 355.0h.7M536.5 357.4h.7M539.0 359.7h.7M548.8 359.9h.7M541.7 357.6h.7M542.1 361.3h.7M546.7 355.8h.7M543.8 361.8h.7M543.8 356.4h.7M537.2 359.6h.7M541.4 357.5h.7M533.9 360.0h.7M531.4 360.7h.7M539.1 359.2h.7M531.6 357.1h.7M543.0 356.4h.7M550.7 357.1h.7M532.2 358.3h.7M541.6 360.2h.7M537.0 358.2h.7M537.8 357.6h.7M524.5 359.4h.7M540.4 359.1h.7M535.5 358.9h.7M538.9 358.6h.7M545.4 356.2h.7M540.5 357.0h.7M537.1 361.2h.7M533.0 358.1h.7M535.6 360.1h.7M533.8 355.4h.7M541.9 358.3h.7M537.1 360.4h.7M534.1 357.7h.7M539.8 359.5h.7M536.0 360.3h.7M551.5 358.9h.7M549.6 355.8h.7M546.9 358.7h.7M539.8 358.2h.7M535.6 356.2h.7M536.7 360.8h.7M545.4 358.5h.7M536.2 357.3h.7M532.1 361.3h.7M542.7 359.2h.7M536.4 356.7h.7M546.2 360.6h.7M533.6 360.0h.7M532.8 359.4h.7M533.7 357.6h.7M541.7 359.6h.7M544.7 357.7h.7M547.6 361.6h.7M538.9 359.5h.7M534.7 358.1h.7M531.7 358.3h.7M539.9 361.1h.7M544.2 360.5h.7M537.0 358.2h.7M537.1 359.0h.7M528.2 359.3h.7M530.4 357.2h.7M539.2 357.8h.7M548.2 359.2h.7M547.6 361.3h.7M536.2 359.2h.7M546.3 358.6h.7M539.6 357.8h.7M539.4 358.1h.7M539.3 360.5h.7M546.7 359.5h.7M540.0 360.3h.7M537.5 356.8h.7M545.3 357.5h.7M544.3 357.4h.7M549.3 357.6h.7M543.5 361.6h.7M533.5 360.9h.7M534.6 355.3h.7M542.9 360.2h.7M538.2 354.3h.7M538.7 358.2h.7M536.9 358.1h.7M529.1 357.0h.7M548.8 362.1h.7M537.1 357.3h.7M541.1 360.7h.7M543.2 357.0h.7M539.9 359.0h.7M546.8 361.3h.7M541.8 361.0h.7M536.6 361.2h.7M536.6 359.2h.7M544.2 357.5h.7M535.3 355.4h.7M539.9 358.7h.7M537.1 359.4h.7M527.2 357.8h.7M539.5 358.3h.7M543.2 362.0h.7M536.6 356.9h.7M535.6 358.6h.7M542.4 357.4h.7M544.7 357.3h.7M543.5 359.8h.7M541.3 362.6h.7M537.6 358.3h.7M541.5 360.4h.7M531.5 358.7h.7M534.8 359.5h.7M546.6 359.3h.7M538.4 359.0h.7M522.5 358.9h.7M542.1 359.2h.7M536.9 357.3h.7M537.9 360.7h.7M538.3 361.0h.7M524.8 356.9h.7M540.5 358.8h.7M529.9 356.9h.7M546.1 357.0h.7M533.6 356.4h.7M535.9 359.6h.7M542.5 355.4h.7M547.2 358.2h.7M535.5 361.3h.7M538.7 356.5h.7M535.5 357.2h.7M533.4 357.7h.7M543.8 359.6h.7M531.0 363.0h.7M533.5 358.5h.7M539.1 360.0h.7M537.1 359.4h.7M550.7 359.7h.7M532.9 358.8h.7M534.6 357.7h.7M540.0 359.4h.7M537.3 360.1h.7M538.1 356.4h.7M543.9 358.4h.7M545.8 358.0h.7M542.1 359.5h.7M524.2 355.1h.7M532.6 360.7h.7M528.4 359.5h.7M545.0 360.0h.7M542.8 358.1h.7M538.9 359.1h.7M541.3 360.1h.7M537.9 357.4h.7M535.8 359.2h.7M529.9 355.9h.7M536.8 357.6h.7M537.8 354.0h.7M537.1 358.1h.7M543.6 355.6h.7M537.2 359.4h.7M541.6 361.0h.7M545.0 357.3h.7M542.6 358.4h.7M534.4 361.0h.7M535.6 357.0h.7M536.8 357.1h.7M544.6 359.7h.7M546.7 360.0h.7M535.5 360.3h.7M535.4 357.6h.7M538.1 358.7h.7M545.7 358.1h.7M541.0 358.8h.7M532.1 356.3h.7M537.7 359.3h.7M540.7 359.7h.7M539.3 357.9h.7M541.5 357.1h.7M531.6 357.6h.7M531.1 357.3h.7M534.9 357.4h.7M538.8 357.3h.7M536.9 355.6h.7M539.9 357.2h.7M541.6 354.0h.7M534.5 358.8h.7M525.4 357.1h.7M539.5 358.9h.7M530.6 358.5h.7M539.9 357.1h.7M543.2 358.9h.7M539.2 357.9h.7M542.0 359.1h.7M545.3 359.9h.7M535.6 358.1h.7M544.2 358.4h.7M541.1 359.8h.7M538.3 354.6h.7M539.7 359.1h.7M539.9 357.4h.7M545.8 358.9h.7M535.6 357.2h.7M541.1 356.9h.7M533.2 361.8h.7M546.2 361.0h.7M546.6 360.3h.7M529.4 360.1h.7M545.9 360.0h.7M527.9 360.1h.7M546.7 358.4h.7M539.6 360.1h.7M538.4 360.6h.7M539.4 359.9h.7M539.7 356.2h.7M533.0 363.8h.7M540.4 361.1h.7M545.2 362.1h.7M542.2 357.9h.7M539.3 355.4h.7M537.8 360.2h.7M526.8 358.2h.7M543.5 361.3h.7M533.9 357.2h.7M528.6 356.2h.7M541.7 362.5h.7M532.4 360.7h.7M541.5 358.0h.7M551.6 355.2h.7M538.6 359.1h.7M550.7 362.7h.7M551.7 359.8h.7M544.3 361.5h.7M541.8 359.5h.7M538.0 357.9h.7M531.9 361.6h.7M536.7 354.9h.7M540.5 358.7h.7M539.8 361.9h.7M538.4 358.2h.7M534.8 358.4h.7M536.5 358.9h.7M556.5 360.6h.7M533.9 361.7h.7M543.8 360.5h.7M542.9 360.4h.7M542.6 361.4h.7M544.5 361.5h.7M536.2 358.5h.7M534.8 360.1h.7M543.7 358.2h.7M542.0 363.5h.7M546.1 357.2h.7M538.4 359.8h.7M538.8 359.4h.7M545.6 359.7h.7M532.7 359.5h.7M538.4 358.9h.7M536.0 356.1h.7M532.0 357.6h.7M533.3 353.5h.7M545.6 357.1h.7M534.9 359.3h.7M525.3 360.1h.7M534.6 359.6h.7M536.2 359.0h.7M539.6 358.7h.7M528.9 355.4h.7M538.6 361.1h.7M535.9 359.4h.7M539.9 359.6h.7M544.8 356.5h.7M540.6 358.5h.7M537.3 357.1h.7M534.7 356.6h.7M532.5 362.7h.7M548.6 359.4h.7M543.3 357.3h.7M523.5 354.4h.7M539.6 361.3h.7M538.9 356.9h.7M537.8 356.9h.7M531.2 357.7h.7M536.8 357.1h.7M534.1 356.7h.7M540.2 361.2h.7M537.5 362.5h.7M529.8 358.5h.7M532.5 358.0h.7M539.5 359.7h.7M545.4 358.2h.7M532.0 357.9h.7M540.7 357.6h.7M543.8 362.0h.7M530.9 358.8h.7M545.0 355.7h.7M540.2 358.4h.7M530.8 360.4h.7M540.3 357.9h.7M541.4 360.0h.7M543.3 360.0h.7M541.4 356.8h.7M536.6 358.8h.7M523.1 361.3h.7M537.0 356.7h.7M528.7 358.4h.7M539.3 357.7h.7M536.8 357.0h.7M534.8 358.2h.7M535.3 359.6h.7M538.2 358.9h.7M541.1 361.1h.7M542.4 359.3h.7M538.2 357.2h.7M537.0 359.8h.7M540.3 358.1h.7M531.7 355.5h.7M540.7 360.6h.7M541.3 356.4h.7M537.8 359.0h.7M533.8 358.9h.7M538.0 357.2h.7M531.9 359.6h.7M541.1 357.3h.7M533.2 359.9h.7M542.4 358.4h.7M548.0 358.8h.7M532.9 360.2h.7M537.9 359.2h.7M539.3 357.0h.7M532.3 357.9h.7M547.0 357.5h.7M546.6 359.6h.7M532.7 358.7h.7M542.3 357.4h.7M527.0 358.5h.7M532.7 359.0h.7M528.3 357.7h.7M534.6 355.8h.7M537.6 358.9h.7M536.0 356.4h.7M540.4 355.7h.7M542.0 359.8h.7M548.3 360.9h.7M541.0 359.3h.7M539.3 356.4h.7M547.2 360.2h.7M537.5 356.6h.7M547.3 360.2h.7M532.3 359.4h.7M549.7 359.4h.7M541.3 358.1h.7M535.3 360.3h.7M556.3 360.1h.7M538.2 360.0h.7M537.2 359.9h.7M543.8 357.3h.7M533.0 358.1h.7M543.6 359.5h.7M546.1 356.8h.7M541.8 357.8h.7M539.5 359.3h.7M533.6 357.9h.7M532.4 358.7h.7M534.3 357.5h.7M540.3 357.6h.7M545.5 358.0h.7M543.7 359.5h.7M533.2 357.9h.7M534.3 357.7h.7M537.3 361.8h.7M536.5 361.3h.7M541.7 356.6h.7M525.9 359.0h.7M527.7 359.2h.7M544.7 359.8h.7M537.9 358.2h.7M540.5 358.3h.7M536.0 357.8h.7M545.6 358.1h.7M541.3 356.8h.7M535.2 356.0h.7M537.8 359.8h.7M540.8 358.0h.7M542.5 358.3h.7M541.1 359.3h.7M542.3 354.6h.7M531.6 359.5h.7M538.1 362.6h.7M537.8 357.6h.7M547.3 360.3h.7M549.6 360.3h.7M537.8 359.9h.7M534.6 357.6h.7M535.9 358.1h.7M543.4 358.2h.7M540.9 358.0h.7M544.3 354.3h.7M537.8 358.9h.7M532.8 360.0h.7M540.1 361.0h.7M544.3 360.2h.7M538.3 356.8h.7M537.8 357.8h.7M540.5 358.0h.7M556.3 357.1h.7M545.6 358.3h.7M537.5 360.2h.7M539.2 356.6h.7M541.3 358.5h.7M527.5 358.2h.7M533.2 357.0h.7M541.7 359.4h.7M537.1 362.3h.7M541.4 357.8h.7M540.3 358.6h.7M526.9 355.1h.7M531.0 361.7h.7M538.0 358.1h.7M535.7 360.2h.7M538.9 361.7h.7M543.2 361.9h.7M538.3 359.3h.7M536.6 358.2h.7M529.4 357.0h.7M533.8 357.2h.7M545.8 359.6h.7M545.7 360.7h.7M544.0 360.8h.7M535.5 359.9h.7M537.3 357.7h.7M545.4 362.9h.7M533.3 361.3h.7M543.7 357.6h.7M540.5 359.4h.7M541.1 358.2h.7M531.8 358.3h.7M543.7 360.4h.7M542.6 360.9h.7M533.5 358.2h.7M540.8 360.6h.7M539.8 359.7h.7M539.5 362.4h.7M526.8 357.8h.7M552.8 360.1h.7M528.8 358.2h.7M531.1 357.0h.7M540.0 361.8h.7M541.5 360.0h.7M544.7 359.4h.7M534.2 358.2h.7M540.9 358.4h.7M535.3 357.8h.7M530.8 356.3h.7M538.5 358.0h.7M539.0 361.1h.7M540.7 358.8h.7M532.6 356.4h.7M541.2 357.3h.7M541.5 357.0h.7M539.8 358.6h.7M544.6 358.4h.7M536.9 359.0h.7M539.1 361.6h.7M537.6 357.7h.7M537.2 359.4h.7M540.2 360.0h.7M531.0 362.4h.7M549.2 359.4h.7M532.3 358.5h.7M541.6 355.0h.7M539.3 356.2h.7M541.4 361.3h.7M544.9 356.5h.7M546.6 360.8h.7M536.9 359.4h.7M547.5 358.7h.7M539.0 357.7h.7M545.7 355.4h.7M547.0 357.6h.7M544.4 356.3h.7M533.9 357.3h.7M543.8 356.2h.7M542.4 357.8h.7M546.0 358.6h.7M541.7 358.6h.7M549.0 358.8h.7M538.6 362.1h.7M539.3 359.9h.7M534.9 358.8h.7M526.4 358.0h.7M535.6 355.9h.7M531.0 360.1h.7M541.6 356.2h.7M549.2 358.2h.7M536.9 359.0h.7M532.9 355.5h.7M534.7 360.5h.7M544.5 356.3h.7M545.7 359.2h.7M541.8 359.0h.7M541.4 357.1h.7M534.0 357.1h.7M536.9 359.6h.7M532.0 361.0h.7M535.6 357.4h.7M542.9 359.7h.7M537.2 356.7h.7M533.6 355.5h.7M545.2 361.0h.7M549.3 360.3h.7M540.8 360.1h.7M544.3 358.6h.7M540.7 362.6h.7M529.7 355.6h.7M533.5 359.6h.7M545.7 358.6h.7M542.7 358.9h.7M540.7 357.9h.7M538.8 358.7h.7M545.0 363.0h.7M528.8 358.9h.7M538.9 360.4h.7M544.8 360.5h.7M543.6 357.4h.7M529.3 360.9h.7M545.8 357.5h.7M546.1 360.4h.7M525.2 359.3h.7M533.4 360.3h.7M535.3 357.1h.7M530.4 357.7h.7M544.8 357.9h.7M528.4 361.7h.7M549.2 360.6h.7M536.2 356.4h.7M529.8 359.0h.7M546.4 357.4h.7M539.0 358.2h.7M537.5 359.5h.7M550.7 358.4h.7M543.6 360.9h.7M537.4 358.3h.7M531.4 360.0h.7M536.1 357.4h.7M539.5 357.2h.7M533.2 357.8h.7M547.3 358.9h.7M542.1 356.4h.7M527.9 361.1h.7M537.0 355.9h.7M538.3 359.7h.7M529.5 356.5h.7M540.6 357.2h.7M543.3 360.7h.7M541.5 358.1h.7M538.8 357.6h.7M538.2 359.2h.7M537.2 360.3h.7M553.6 358.8h.7M540.8 360.3h.7M542.6 358.5h.7M536.2 360.3h.7M542.4 359.8h.7M534.4 359.5h.7M543.5 358.7h.7M542.3 362.7h.7M528.4 359.0h.7M532.6 355.9h.7M537.6 359.6h.7M539.4 356.7h.7M531.0 357.2h.7M539.2 357.3h.7M530.4 361.2h.7M534.3 358.1h.7M536.0 357.5h.7M539.3 358.2h.7M542.6 356.9h.7M530.4 361.5h.7" stroke="#ff0a9c" stroke-width="0.8" opacity="0.95" fill="none"/>
<path d="M536.1 343.9h.7M542.9 342.4h.7M536.7 327.7h.7M527.8 345.3h.7M540.2 342.5h.7M527.5 323.6h.7M530.8 330.3h.7M537.4 331.4h.7M545.1 334.2h.7M533.5 344.5h.7M538.3 332.2h.7M541.0 351.9h.7M529.8 336.8h.7M530.7 324.9h.7M539.9 343.4h.7M541.8 341.5h.7M525.6 338.3h.7M532.9 330.3h.7M530.5 343.8h.7M534.9 352.2h.7M539.1 325.2h.7M541.4 347.2h.7M536.7 330.0h.7M546.1 329.3h.7M536.0 325.2h.7M529.7 326.6h.7M542.4 346.8h.7M534.3 329.0h.7M536.2 341.2h.7M528.2 330.4h.7M535.9 343.4h.7M536.9 341.7h.7M529.7 321.0h.7M538.2 332.1h.7M535.8 335.9h.7M539.1 333.1h.7M544.4 338.7h.7M539.4 342.9h.7M542.2 341.3h.7M526.9 334.1h.7M546.7 341.8h.7M539.6 341.8h.7M533.0 333.7h.7M533.0 346.7h.7M538.5 351.0h.7M539.2 351.8h.7M539.0 330.2h.7M546.0 340.9h.7M543.0 340.0h.7M534.7 339.7h.7M530.3 330.1h.7M531.6 334.8h.7M529.1 337.8h.7M538.2 352.8h.7M546.6 338.1h.7M541.4 337.0h.7M538.6 338.3h.7M533.5 339.0h.7M528.4 341.6h.7M534.9 330.8h.7M534.5 342.4h.7M532.8 341.9h.7M539.6 349.5h.7M530.5 337.7h.7M539.3 349.1h.7M537.9 343.8h.7M528.4 334.4h.7M545.7 336.5h.7M548.4 333.3h.7M535.0 327.2h.7M540.0 340.4h.7M547.6 339.7h.7M535.1 328.5h.7M536.0 345.2h.7M540.6 347.2h.7M541.3 338.2h.7M539.8 339.7h.7M529.1 350.7h.7M538.6 331.0h.7M538.6 340.5h.7M542.0 348.8h.7M519.7 342.4h.7M545.0 331.8h.7M526.2 340.5h.7M538.4 341.0h.7M530.4 335.2h.7M537.6 343.8h.7M548.6 340.6h.7M533.2 321.7h.7M542.5 337.6h.7M535.9 331.5h.7M540.6 325.7h.7M537.1 339.4h.7M538.2 347.8h.7M536.0 339.2h.7M541.3 327.4h.7M534.9 339.0h.7M541.8 332.8h.7M541.0 341.2h.7M528.2 327.9h.7M528.5 339.5h.7M537.6 343.7h.7M541.1 334.6h.7M542.4 344.4h.7M539.1 341.9h.7M529.3 341.1h.7M530.8 330.0h.7M534.6 339.5h.7M536.2 336.1h.7M530.9 339.8h.7M532.4 328.4h.7M537.0 348.9h.7M534.2 330.9h.7M544.2 350.8h.7M534.9 337.0h.7M537.7 359.6h.7M537.2 345.6h.7M539.0 325.5h.7M530.4 329.7h.7M538.9 339.3h.7M546.5 336.6h.7M538.2 339.0h.7M537.3 355.1h.7M538.1 349.1h.7M543.7 334.1h.7M540.3 335.8h.7M537.1 339.6h.7M536.6 335.1h.7M545.2 336.6h.7M540.4 350.5h.7M540.0 345.9h.7M544.3 346.3h.7M546.1 328.3h.7M547.4 338.7h.7M526.7 333.9h.7M528.7 338.3h.7M528.2 331.3h.7M538.2 339.6h.7M532.0 336.8h.7M535.9 339.0h.7M536.5 336.9h.7M541.4 327.0h.7M533.7 339.5h.7M534.3 334.5h.7M534.1 340.0h.7M543.5 337.2h.7M535.0 341.1h.7M535.1 324.6h.7M538.0 335.8h.7M533.3 343.0h.7" stroke="#f56ab6" stroke-width="0.7" opacity="0.75" fill="none"/>
<path d="M536.7 334.3h.7M529.5 328.0h.7M536.4 336.4h.7M537.7 338.2h.7M535.2 330.8h.7M532.6 336.0h.7M531.9 340.2h.7M532.5 328.0h.7M536.5 328.5h.7M542.4 332.8h.7M536.2 335.8h.7M534.3 328.3h.7M529.4 340.5h.7M538.8 347.7h.7M530.9 339.2h.7M535.8 341.0h.7M534.2 340.3h.7M539.1 340.2h.7M541.4 336.7h.7M542.0 334.2h.7M543.4 324.5h.7M536.7 333.2h.7M535.8 341.9h.7M538.8 337.7h.7M542.9 330.5h.7M532.7 343.9h.7M538.4 327.2h.7M538.1 331.5h.7M540.9 343.0h.7M533.8 343.0h.7M533.0 341.1h.7M538.4 336.6h.7M531.5 335.2h.7M528.6 333.5h.7M529.3 342.2h.7M534.1 325.0h.7M538.2 339.0h.7M533.5 346.9h.7M539.0 337.6h.7M535.5 322.7h.7M537.5 341.8h.7M534.9 330.0h.7M537.0 329.0h.7M536.0 340.7h.7M541.4 338.8h.7M536.6 340.7h.7M541.3 336.0h.7M532.4 332.8h.7M532.3 332.3h.7M535.7 338.6h.7M536.8 337.4h.7M534.9 338.9h.7M539.0 340.9h.7M541.7 336.1h.7M534.6 345.0h.7M536.8 339.0h.7M534.7 341.5h.7M535.4 332.0h.7M536.3 334.9h.7M539.4 335.5h.7M536.8 336.0h.7M537.8 334.1h.7M540.8 330.6h.7M535.3 333.5h.7M538.5 337.4h.7M538.1 335.6h.7M534.3 331.4h.7M535.4 334.3h.7M537.1 338.8h.7M539.8 336.8h.7M534.2 331.7h.7M536.3 338.7h.7M543.0 338.5h.7M541.5 346.6h.7M532.1 342.4h.7M539.6 343.8h.7M535.8 341.6h.7M534.7 336.5h.7M535.5 345.5h.7M535.1 341.5h.7M536.9 333.6h.7M536.8 340.2h.7M533.5 339.8h.7M534.2 332.6h.7M537.2 336.0h.7M533.7 328.9h.7M536.3 338.2h.7M534.6 337.7h.7M530.8 338.3h.7M537.6 338.5h.7M534.1 337.2h.7M536.2 342.2h.7M537.1 338.3h.7M533.4 340.9h.7M540.6 335.1h.7M538.4 338.7h.7M536.8 330.8h.7M543.3 328.7h.7M537.5 335.3h.7M540.5 335.4h.7M536.1 339.9h.7M538.1 334.7h.7M538.5 339.1h.7M540.0 334.9h.7M536.3 335.1h.7M533.3 337.9h.7M537.0 343.9h.7M535.0 338.7h.7M540.3 336.9h.7M536.5 337.7h.7M534.4 332.1h.7M540.1 338.2h.7M536.6 331.1h.7M536.1 342.6h.7M532.7 332.4h.7M539.5 344.2h.7M542.0 334.9h.7M538.7 333.6h.7M538.3 335.4h.7M536.3 343.4h.7M537.6 336.0h.7M536.4 338.3h.7M534.4 337.8h.7M537.6 344.6h.7M529.7 330.6h.7M531.6 340.7h.7M544.7 338.8h.7M536.2 342.4h.7M527.9 335.3h.7M525.4 336.7h.7M534.8 334.5h.7M537.8 334.3h.7M540.1 337.4h.7M536.4 349.2h.7M534.3 341.2h.7M532.8 342.6h.7M539.6 338.0h.7M539.0 345.0h.7M541.1 337.5h.7M535.6 342.2h.7M531.5 333.6h.7M537.7 339.9h.7M541.9 346.0h.7M537.2 339.2h.7M531.8 335.7h.7M537.3 336.0h.7M536.2 339.9h.7M533.3 334.0h.7M529.6 341.8h.7M533.5 328.6h.7M539.1 336.3h.7M539.8 335.6h.7M543.3 341.1h.7M536.8 337.6h.7M535.2 340.8h.7M543.4 335.7h.7M532.3 339.4h.7M540.7 330.3h.7M534.4 332.1h.7M538.0 339.6h.7M534.3 331.4h.7M539.6 327.5h.7M538.6 336.5h.7M542.4 342.3h.7M534.4 335.5h.7M535.7 333.5h.7M536.1 341.6h.7M531.2 335.4h.7M541.1 341.0h.7M533.9 332.9h.7M534.1 329.1h.7M540.2 337.7h.7M534.6 330.0h.7M535.2 334.5h.7M542.4 335.4h.7M536.2 342.1h.7M538.7 336.4h.7M528.2 342.8h.7M538.6 335.2h.7M536.4 332.5h.7M533.9 329.7h.7M537.8 339.6h.7M536.5 340.7h.7M538.1 337.8h.7M533.0 339.5h.7M540.1 340.4h.7M540.8 335.2h.7M532.4 342.5h.7M534.2 337.9h.7M535.6 337.0h.7M535.6 334.4h.7M529.3 345.3h.7M537.9 328.0h.7M533.7 331.4h.7M535.0 324.8h.7M537.5 344.9h.7M535.1 340.4h.7M538.9 331.4h.7M541.3 329.5h.7M534.5 335.1h.7M540.5 338.0h.7M536.3 333.2h.7M536.6 337.2h.7M538.1 343.8h.7M538.8 337.3h.7M535.0 344.4h.7M537.0 337.0h.7M541.7 345.0h.7M538.3 336.7h.7M533.6 341.8h.7M534.3 341.3h.7M533.6 337.2h.7M537.6 337.8h.7M536.9 338.9h.7M533.0 331.4h.7M535.0 345.4h.7M536.3 332.6h.7M534.0 336.9h.7M540.6 334.8h.7M538.1 338.1h.7M535.5 332.5h.7M536.1 333.6h.7M539.0 329.0h.7M539.8 340.9h.7M537.6 344.2h.7M539.2 329.2h.7M536.3 339.1h.7M534.5 331.5h.7M537.5 339.5h.7M535.0 335.7h.7M534.8 334.2h.7M535.6 342.0h.7M531.0 334.9h.7M541.6 339.0h.7M536.4 340.9h.7M533.5 331.0h.7M531.3 329.6h.7M536.7 341.0h.7M535.2 333.7h.7M537.4 340.0h.7M538.1 328.2h.7M535.6 325.0h.7M537.5 333.1h.7M533.4 343.8h.7M540.6 339.7h.7M537.2 337.9h.7M534.3 336.6h.7M543.2 333.6h.7M534.0 337.5h.7M538.9 341.2h.7" stroke="#f62ea4" stroke-width="0.7" opacity="0.85" fill="none"/>
<path d="M567.7 340.2h.7M569.8 337.1h.7M556.4 351.3h.7M561.3 344.9h.7M560.9 344.6h.7M576.4 331.0h.7M556.2 350.1h.7M567.2 346.4h.7M584.0 325.9h.7M572.4 335.5h.7M577.2 328.5h.7M557.6 350.2h.7M578.1 330.3h.7M559.0 351.8h.7M580.4 328.3h.7M576.1 330.5h.7M559.1 353.6h.7M558.6 351.9h.7M583.6 324.1h.7M583.3 321.8h.7M567.1 337.2h.7M560.5 352.9h.7M559.2 347.9h.7M561.7 348.0h.7M564.9 346.6h.7M564.9 345.2h.7M580.9 326.1h.7M557.3 348.6h.7M583.7 324.4h.7M581.0 325.6h.7M563.7 344.0h.7M566.1 343.3h.7M580.6 325.8h.7" stroke="#f47ab8" stroke-width="0.7" opacity="0.7" fill="none"/>
<rect x="523.30" y="323.30" width="29.50" height="29.50" fill="none" stroke="#2e2e2e" stroke-width="1.1"/>
<text transform="translate(557.00 316.10) scale(1 1.15)" x="0" y="2.86" font-size="8.0" text-anchor="middle" fill="#000">15.3%</text>
<text x="489.30" y="393.28" font-size="8.6" text-anchor="middle" font-weight="700" fill="#000">(b)</text>
<rect x="497.20" y="402.20" width="88.50" height="80.20" fill="#fff" stroke="#777" stroke-width="0.8"/>
<path d="M497.2 402.2V482.4H585.7" fill="none" stroke="#555" stroke-width="0.9"/>
<line x1="498.00" y1="482.40" x2="498.00" y2="484.00" stroke="#666" stroke-width="0.5"/>
<line x1="495.40" y1="481.60" x2="497.20" y2="481.60" stroke="#666" stroke-width="0.5"/>
<text x="498.30" y="488.76" font-size="3.8" text-anchor="middle" fill="#555">10<tspan font-size="2.6" dy="-1.5">0</tspan></text>
<text transform="translate(492.80 481.80) rotate(-90)" x="0" y="1.36" font-size="3.8" text-anchor="middle" fill="#555">10<tspan font-size="2.6" dy="-1.5">0</tspan></text>
<line x1="504.55" y1="482.40" x2="504.55" y2="483.30" stroke="#888" stroke-width="0.35"/>
<line x1="496.20" y1="475.68" x2="497.20" y2="475.68" stroke="#888" stroke-width="0.35"/>
<line x1="508.38" y1="482.40" x2="508.38" y2="483.30" stroke="#888" stroke-width="0.35"/>
<line x1="496.20" y1="472.21" x2="497.20" y2="472.21" stroke="#888" stroke-width="0.35"/>
<line x1="511.09" y1="482.40" x2="511.09" y2="483.30" stroke="#888" stroke-width="0.35"/>
<line x1="496.20" y1="469.75" x2="497.20" y2="469.75" stroke="#888" stroke-width="0.35"/>
<line x1="513.20" y1="482.40" x2="513.20" y2="483.30" stroke="#888" stroke-width="0.35"/>
<line x1="496.20" y1="467.85" x2="497.20" y2="467.85" stroke="#888" stroke-width="0.35"/>
<line x1="514.92" y1="482.40" x2="514.92" y2="483.30" stroke="#888" stroke-width="0.35"/>
<line x1="496.20" y1="466.29" x2="497.20" y2="466.29" stroke="#888" stroke-width="0.35"/>
<line x1="516.38" y1="482.40" x2="516.38" y2="483.30" stroke="#888" stroke-width="0.35"/>
<line x1="496.20" y1="464.97" x2="497.20" y2="464.97" stroke="#888" stroke-width="0.35"/>
<line x1="517.64" y1="482.40" x2="517.64" y2="483.30" stroke="#888" stroke-width="0.35"/>
<line x1="496.20" y1="463.83" x2="497.20" y2="463.83" stroke="#888" stroke-width="0.35"/>
<line x1="518.75" y1="482.40" x2="518.75" y2="483.30" stroke="#888" stroke-width="0.35"/>
<line x1="496.20" y1="462.83" x2="497.20" y2="462.83" stroke="#888" stroke-width="0.35"/>
<line x1="519.75" y1="482.40" x2="519.75" y2="484.00" stroke="#666" stroke-width="0.5"/>
<line x1="495.40" y1="461.92" x2="497.20" y2="461.92" stroke="#666" stroke-width="0.5"/>
<text x="520.05" y="488.76" font-size="3.8" text-anchor="middle" fill="#555">10<tspan font-size="2.6" dy="-1.5">1</tspan></text>
<text transform="translate(492.80 462.12) rotate(-90)" x="0" y="1.36" font-size="3.8" text-anchor="middle" fill="#555">10<tspan font-size="2.6" dy="-1.5">1</tspan></text>
<line x1="526.30" y1="482.40" x2="526.30" y2="483.30" stroke="#888" stroke-width="0.35"/>
<line x1="496.20" y1="456.00" x2="497.20" y2="456.00" stroke="#888" stroke-width="0.35"/>
<line x1="530.13" y1="482.40" x2="530.13" y2="483.30" stroke="#888" stroke-width="0.35"/>
<line x1="496.20" y1="452.54" x2="497.20" y2="452.54" stroke="#888" stroke-width="0.35"/>
<line x1="532.84" y1="482.40" x2="532.84" y2="483.30" stroke="#888" stroke-width="0.35"/>
<line x1="496.20" y1="450.08" x2="497.20" y2="450.08" stroke="#888" stroke-width="0.35"/>
<line x1="534.95" y1="482.40" x2="534.95" y2="483.30" stroke="#888" stroke-width="0.35"/>
<line x1="496.20" y1="448.17" x2="497.20" y2="448.17" stroke="#888" stroke-width="0.35"/>
<line x1="536.67" y1="482.40" x2="536.67" y2="483.30" stroke="#888" stroke-width="0.35"/>
<line x1="496.20" y1="446.61" x2="497.20" y2="446.61" stroke="#888" stroke-width="0.35"/>
<line x1="538.13" y1="482.40" x2="538.13" y2="483.30" stroke="#888" stroke-width="0.35"/>
<line x1="496.20" y1="445.30" x2="497.20" y2="445.30" stroke="#888" stroke-width="0.35"/>
<line x1="539.39" y1="482.40" x2="539.39" y2="483.30" stroke="#888" stroke-width="0.35"/>
<line x1="496.20" y1="444.16" x2="497.20" y2="444.16" stroke="#888" stroke-width="0.35"/>
<line x1="540.50" y1="482.40" x2="540.50" y2="483.30" stroke="#888" stroke-width="0.35"/>
<line x1="496.20" y1="443.15" x2="497.20" y2="443.15" stroke="#888" stroke-width="0.35"/>
<line x1="541.50" y1="482.40" x2="541.50" y2="484.00" stroke="#666" stroke-width="0.5"/>
<line x1="495.40" y1="442.25" x2="497.20" y2="442.25" stroke="#666" stroke-width="0.5"/>
<text x="541.80" y="488.76" font-size="3.8" text-anchor="middle" fill="#555">10<tspan font-size="2.6" dy="-1.5">2</tspan></text>
<text transform="translate(492.80 442.45) rotate(-90)" x="0" y="1.36" font-size="3.8" text-anchor="middle" fill="#555">10<tspan font-size="2.6" dy="-1.5">2</tspan></text>
<line x1="548.05" y1="482.40" x2="548.05" y2="483.30" stroke="#888" stroke-width="0.35"/>
<line x1="496.20" y1="436.33" x2="497.20" y2="436.33" stroke="#888" stroke-width="0.35"/>
<line x1="551.88" y1="482.40" x2="551.88" y2="483.30" stroke="#888" stroke-width="0.35"/>
<line x1="496.20" y1="432.86" x2="497.20" y2="432.86" stroke="#888" stroke-width="0.35"/>
<line x1="554.59" y1="482.40" x2="554.59" y2="483.30" stroke="#888" stroke-width="0.35"/>
<line x1="496.20" y1="430.40" x2="497.20" y2="430.40" stroke="#888" stroke-width="0.35"/>
<line x1="556.70" y1="482.40" x2="556.70" y2="483.30" stroke="#888" stroke-width="0.35"/>
<line x1="496.20" y1="428.50" x2="497.20" y2="428.50" stroke="#888" stroke-width="0.35"/>
<line x1="558.42" y1="482.40" x2="558.42" y2="483.30" stroke="#888" stroke-width="0.35"/>
<line x1="496.20" y1="426.94" x2="497.20" y2="426.94" stroke="#888" stroke-width="0.35"/>
<line x1="559.88" y1="482.40" x2="559.88" y2="483.30" stroke="#888" stroke-width="0.35"/>
<line x1="496.20" y1="425.62" x2="497.20" y2="425.62" stroke="#888" stroke-width="0.35"/>
<line x1="561.14" y1="482.40" x2="561.14" y2="483.30" stroke="#888" stroke-width="0.35"/>
<line x1="496.20" y1="424.48" x2="497.20" y2="424.48" stroke="#888" stroke-width="0.35"/>
<line x1="562.25" y1="482.40" x2="562.25" y2="483.30" stroke="#888" stroke-width="0.35"/>
<line x1="496.20" y1="423.48" x2="497.20" y2="423.48" stroke="#888" stroke-width="0.35"/>
<line x1="563.25" y1="482.40" x2="563.25" y2="484.00" stroke="#666" stroke-width="0.5"/>
<line x1="495.40" y1="422.57" x2="497.20" y2="422.57" stroke="#666" stroke-width="0.5"/>
<text x="563.55" y="488.76" font-size="3.8" text-anchor="middle" fill="#555">10<tspan font-size="2.6" dy="-1.5">3</tspan></text>
<text transform="translate(492.80 422.77) rotate(-90)" x="0" y="1.36" font-size="3.8" text-anchor="middle" fill="#555">10<tspan font-size="2.6" dy="-1.5">3</tspan></text>
<line x1="569.80" y1="482.40" x2="569.80" y2="483.30" stroke="#888" stroke-width="0.35"/>
<line x1="496.20" y1="416.65" x2="497.20" y2="416.65" stroke="#888" stroke-width="0.35"/>
<line x1="573.63" y1="482.40" x2="573.63" y2="483.30" stroke="#888" stroke-width="0.35"/>
<line x1="496.20" y1="413.19" x2="497.20" y2="413.19" stroke="#888" stroke-width="0.35"/>
<line x1="576.34" y1="482.40" x2="576.34" y2="483.30" stroke="#888" stroke-width="0.35"/>
<line x1="496.20" y1="410.73" x2="497.20" y2="410.73" stroke="#888" stroke-width="0.35"/>
<line x1="578.45" y1="482.40" x2="578.45" y2="483.30" stroke="#888" stroke-width="0.35"/>
<line x1="496.20" y1="408.82" x2="497.20" y2="408.82" stroke="#888" stroke-width="0.35"/>
<line x1="580.17" y1="482.40" x2="580.17" y2="483.30" stroke="#888" stroke-width="0.35"/>
<line x1="496.20" y1="407.26" x2="497.20" y2="407.26" stroke="#888" stroke-width="0.35"/>
<line x1="581.63" y1="482.40" x2="581.63" y2="483.30" stroke="#888" stroke-width="0.35"/>
<line x1="496.20" y1="405.95" x2="497.20" y2="405.95" stroke="#888" stroke-width="0.35"/>
<line x1="582.89" y1="482.40" x2="582.89" y2="483.30" stroke="#888" stroke-width="0.35"/>
<line x1="496.20" y1="404.81" x2="497.20" y2="404.81" stroke="#888" stroke-width="0.35"/>
<line x1="584.00" y1="482.40" x2="584.00" y2="483.30" stroke="#888" stroke-width="0.35"/>
<line x1="496.20" y1="403.80" x2="497.20" y2="403.80" stroke="#888" stroke-width="0.35"/>
<line x1="585.00" y1="482.40" x2="585.00" y2="484.00" stroke="#666" stroke-width="0.5"/>
<line x1="495.40" y1="402.90" x2="497.20" y2="402.90" stroke="#666" stroke-width="0.5"/>
<text x="585.30" y="488.76" font-size="3.8" text-anchor="middle" fill="#555">10<tspan font-size="2.6" dy="-1.5">4</tspan></text>
<text transform="translate(492.80 403.10) rotate(-90)" x="0" y="1.36" font-size="3.8" text-anchor="middle" fill="#555">10<tspan font-size="2.6" dy="-1.5">4</tspan></text>
<path d="M522.0 462.8h.7M517.9 474.0h.7M519.0 458.6h.7M512.7 464.2h.7M516.6 465.8h.7M511.6 467.1h.7M516.8 466.4h.7M510.1 469.3h.7M517.1 465.2h.7M520.4 461.8h.7M517.5 466.4h.7M523.9 463.6h.7M510.6 466.0h.7M527.4 466.0h.7M509.0 469.4h.7M511.3 473.9h.7M516.1 462.2h.7M517.5 470.2h.7M515.9 469.4h.7M515.0 468.9h.7M516.1 466.0h.7M517.6 468.0h.7M514.7 466.5h.7M509.9 470.8h.7M518.2 460.4h.7M513.6 472.7h.7M520.1 464.6h.7M522.4 463.1h.7M512.6 474.7h.7M512.8 468.5h.7M505.2 468.7h.7M508.7 470.1h.7M505.9 474.4h.7M512.9 467.3h.7M512.5 471.3h.7M523.9 464.2h.7M526.1 469.3h.7M523.4 466.4h.7M507.6 472.8h.7M513.3 469.5h.7M504.5 471.0h.7M516.0 465.3h.7M518.6 472.0h.7M516.2 466.0h.7M527.3 458.1h.7M510.6 471.0h.7M510.1 463.4h.7M517.7 469.9h.7M512.2 473.5h.7M519.4 470.3h.7M506.8 471.1h.7M526.4 470.4h.7M523.1 465.7h.7M516.0 466.2h.7M521.2 464.3h.7M514.4 462.6h.7M508.4 475.7h.7M516.0 468.6h.7M502.9 472.3h.7M526.1 460.4h.7M501.7 472.3h.7M512.3 468.7h.7M507.1 467.1h.7M509.0 472.2h.7M515.9 470.4h.7M509.8 471.8h.7M513.0 469.3h.7M520.9 466.5h.7M512.0 464.5h.7M516.5 470.1h.7M511.8 469.2h.7M504.2 468.1h.7M518.9 470.8h.7M512.3 464.4h.7M512.0 464.9h.7M515.6 473.7h.7M517.1 467.2h.7M521.1 465.2h.7M517.6 468.1h.7M516.8 463.5h.7M520.4 469.1h.7M500.0 465.5h.7M511.6 473.8h.7M516.2 469.9h.7M519.5 469.5h.7M511.3 467.9h.7M518.2 469.1h.7M519.1 468.0h.7M513.7 472.0h.7M519.1 470.1h.7M501.7 475.7h.7M501.6 473.4h.7M511.8 469.8h.7M512.5 468.3h.7M516.9 468.7h.7M508.7 463.1h.7M511.5 471.1h.7M511.0 470.9h.7M512.5 466.4h.7M523.7 470.3h.7M514.9 468.3h.7M519.9 462.9h.7M511.4 472.8h.7M520.3 465.2h.7M511.3 470.6h.7M506.9 469.6h.7M512.0 462.2h.7M519.6 469.1h.7M520.5 462.4h.7M507.3 468.5h.7M509.7 476.1h.7M509.5 469.3h.7M517.1 469.0h.7M523.0 462.5h.7M520.8 466.9h.7M508.8 470.9h.7M508.7 475.2h.7M512.1 472.3h.7M522.5 464.1h.7M510.4 470.3h.7M510.2 472.6h.7M515.9 465.8h.7M512.1 471.4h.7M508.5 475.5h.7M510.7 469.2h.7M511.5 474.3h.7M521.5 470.0h.7M519.4 467.2h.7M526.0 466.7h.7M518.6 468.9h.7M520.1 467.5h.7M513.1 464.3h.7M526.4 460.8h.7M502.3 470.5h.7M527.9 467.7h.7M512.2 470.1h.7M513.6 463.0h.7M513.8 469.6h.7M521.3 462.7h.7M500.9 468.4h.7M517.5 467.8h.7M516.5 468.3h.7M512.1 465.3h.7M518.5 468.3h.7M520.0 470.4h.7M506.2 464.4h.7M506.9 477.3h.7M510.5 471.0h.7M516.1 470.2h.7M533.9 460.6h.7M514.0 466.9h.7M517.4 469.1h.7M511.0 473.6h.7M522.6 467.1h.7M514.6 467.8h.7M506.4 473.1h.7M509.3 468.8h.7M520.6 463.8h.7M513.2 471.5h.7M525.8 462.7h.7M521.4 464.3h.7M518.2 468.7h.7M509.7 473.1h.7M526.1 464.8h.7M516.1 464.6h.7M526.1 464.9h.7M508.7 472.7h.7M506.3 469.2h.7M504.2 476.0h.7M527.9 462.2h.7M511.1 467.9h.7M512.7 470.8h.7M523.2 462.7h.7M516.5 462.5h.7M524.4 465.0h.7M512.7 473.6h.7M516.1 472.0h.7M523.3 470.5h.7M510.8 469.9h.7M517.5 467.0h.7M523.8 463.3h.7M522.6 469.9h.7M503.2 469.4h.7M509.7 468.5h.7M517.6 467.0h.7M515.6 466.8h.7M515.4 469.6h.7M519.2 464.7h.7M514.2 466.4h.7M513.2 464.7h.7M521.7 468.1h.7M514.2 466.6h.7M512.2 467.3h.7M507.9 475.6h.7M533.8 458.5h.7M509.1 472.0h.7M517.7 462.8h.7M504.7 473.4h.7M505.0 475.9h.7M512.7 469.4h.7M515.0 466.7h.7M514.4 467.7h.7M522.7 465.5h.7M514.8 466.9h.7M511.1 467.5h.7M517.2 473.1h.7M522.3 466.7h.7M526.2 467.6h.7M516.6 467.4h.7M509.3 471.0h.7M512.2 464.6h.7M509.6 475.9h.7M517.2 469.1h.7M516.3 466.6h.7M519.2 470.2h.7M514.1 470.2h.7M521.1 464.9h.7M515.8 465.9h.7M518.7 466.0h.7M521.6 463.9h.7M525.2 464.1h.7M509.8 467.4h.7M518.6 464.6h.7M527.2 468.1h.7M517.3 463.4h.7M514.7 466.3h.7M505.2 472.9h.7M528.0 462.5h.7M521.4 470.0h.7M509.5 469.2h.7M517.5 468.9h.7M508.9 471.0h.7M515.7 470.9h.7M505.6 469.8h.7M512.3 468.3h.7M519.2 465.1h.7M531.0 461.0h.7M521.3 469.3h.7M521.0 465.8h.7M510.4 469.1h.7M519.5 467.2h.7M519.4 468.6h.7M509.5 467.4h.7M523.6 464.1h.7M507.8 476.2h.7M509.8 467.3h.7M520.2 463.3h.7M511.3 472.7h.7M512.9 476.5h.7M518.4 475.1h.7M516.3 468.1h.7M511.5 468.9h.7M512.5 469.1h.7M518.9 463.3h.7M508.3 464.4h.7M524.3 465.1h.7M515.4 468.1h.7M521.7 467.1h.7M520.4 466.1h.7M514.7 468.3h.7M505.5 474.7h.7M505.3 468.6h.7M519.5 467.0h.7M521.8 471.1h.7M527.7 468.2h.7M516.0 474.1h.7M510.2 469.7h.7M521.2 465.7h.7M514.5 467.5h.7M521.4 459.0h.7M523.9 468.5h.7M515.6 469.8h.7M510.8 473.0h.7M532.7 459.8h.7M523.7 465.3h.7M513.1 467.6h.7M513.3 465.2h.7M509.0 475.3h.7M515.9 469.7h.7M517.7 468.9h.7M505.7 468.7h.7M520.1 469.6h.7M508.3 468.9h.7M509.8 472.0h.7M517.6 467.6h.7M512.0 470.4h.7M515.0 466.2h.7M516.9 465.8h.7M521.7 468.0h.7M512.0 471.1h.7M515.3 466.2h.7M508.7 465.6h.7M509.2 471.3h.7M522.1 464.2h.7M516.7 468.8h.7M520.5 467.9h.7M523.4 467.8h.7M511.4 470.7h.7M501.6 472.3h.7M516.1 469.7h.7M536.1 471.1h.7M548.7 466.4h.7M534.3 469.2h.7M542.2 469.2h.7M545.0 465.1h.7M544.2 472.6h.7M546.9 470.4h.7M536.6 469.8h.7M538.2 463.5h.7M533.9 468.2h.7M534.7 465.4h.7M536.8 467.3h.7M539.0 468.5h.7M539.6 471.8h.7M539.5 470.0h.7M529.7 458.7h.7M535.4 470.6h.7M536.0 466.5h.7M528.9 471.0h.7M534.5 469.2h.7M547.0 470.7h.7M555.5 469.0h.7M545.6 471.2h.7M533.5 468.5h.7M534.4 465.1h.7M540.9 466.2h.7M551.4 466.9h.7M534.4 468.7h.7M534.6 468.6h.7M534.1 463.8h.7M520.4 463.6h.7M550.0 470.6h.7M539.7 467.2h.7M537.3 469.5h.7M528.1 465.5h.7M531.5 472.3h.7M530.3 471.9h.7M534.5 477.1h.7M537.9 468.7h.7M548.6 471.9h.7M545.8 465.5h.7M546.9 474.4h.7M537.8 467.0h.7M530.1 471.4h.7M540.7 468.7h.7M528.9 473.3h.7M545.1 468.9h.7M549.9 466.1h.7M545.4 465.7h.7M549.3 468.3h.7M547.8 467.7h.7M541.3 472.4h.7M531.6 468.6h.7M532.0 471.0h.7M534.0 467.2h.7M536.8 472.2h.7M530.6 468.1h.7M536.1 466.7h.7M532.5 467.8h.7M540.2 463.7h.7M540.5 464.9h.7M538.2 475.9h.7M531.2 468.0h.7M536.4 471.6h.7M535.2 462.7h.7M526.2 468.6h.7M540.3 472.1h.7M534.3 470.5h.7M530.2 472.3h.7M538.1 466.4h.7M539.6 474.2h.7M532.3 464.3h.7M531.0 464.5h.7M538.1 469.7h.7M537.2 469.2h.7M547.5 468.1h.7M529.4 460.8h.7M540.4 466.5h.7M536.5 469.8h.7M542.3 463.8h.7M531.2 468.5h.7M537.2 472.2h.7M535.0 461.8h.7M547.6 463.8h.7M531.1 469.5h.7M530.1 476.2h.7M540.2 470.4h.7M534.8 475.5h.7M542.7 466.5h.7M548.3 463.7h.7M534.0 469.3h.7M539.7 465.6h.7M550.3 473.9h.7M531.3 469.4h.7M533.8 467.0h.7M546.0 469.4h.7M537.7 468.9h.7M529.4 472.1h.7M532.6 472.5h.7M535.1 467.0h.7M549.7 469.8h.7M533.7 466.6h.7M542.8 474.8h.7M543.2 467.6h.7M530.1 466.0h.7M537.6 469.3h.7M533.3 472.4h.7M531.3 466.0h.7M542.2 470.3h.7M535.4 471.5h.7M527.6 473.3h.7M554.8 475.7h.7M539.1 474.9h.7M538.7 472.9h.7M537.0 469.1h.7M542.8 463.2h.7M536.6 474.0h.7M516.3 468.7h.7M545.4 470.0h.7M539.8 473.1h.7M541.3 462.7h.7M531.4 467.3h.7M539.7 467.2h.7M537.4 473.9h.7M516.1 471.2h.7M545.5 470.9h.7M538.6 468.8h.7M541.2 469.5h.7M532.9 470.8h.7M532.2 468.2h.7M536.0 464.8h.7M543.1 468.6h.7M529.7 467.9h.7M527.8 472.7h.7M542.1 475.1h.7M534.1 470.6h.7M531.3 465.5h.7M537.8 469.9h.7M545.5 468.1h.7M546.7 472.1h.7M531.9 467.7h.7M531.3 473.7h.7M534.2 471.2h.7M545.5 468.1h.7M534.8 469.5h.7M532.8 464.3h.7M531.1 469.3h.7M539.7 474.3h.7M524.6 469.5h.7M529.6 471.8h.7M543.7 469.3h.7M549.7 468.0h.7M534.7 465.1h.7M533.5 468.7h.7M543.4 472.9h.7M536.6 466.2h.7M536.0 467.1h.7M535.0 467.1h.7M531.9 468.1h.7M534.7 467.9h.7M528.0 468.5h.7M542.7 470.9h.7M534.5 464.8h.7M528.9 464.4h.7M533.7 467.4h.7M525.0 470.1h.7M527.0 465.8h.7M532.9 471.0h.7M552.4 468.2h.7M536.5 467.3h.7M537.0 468.0h.7M557.3 466.1h.7M537.8 466.1h.7M541.3 467.1h.7M543.0 465.4h.7M554.3 470.1h.7M525.1 470.1h.7M535.2 464.8h.7M541.9 467.1h.7M544.1 467.1h.7M545.3 469.4h.7M541.2 469.2h.7M535.8 467.3h.7M541.8 471.0h.7M535.1 475.5h.7M551.4 465.6h.7M546.7 468.8h.7M540.4 466.2h.7M551.0 466.6h.7M538.0 466.3h.7M552.8 473.3h.7M528.7 466.7h.7M541.3 467.4h.7M536.0 465.1h.7M540.6 465.3h.7M544.4 476.5h.7M535.8 473.7h.7M541.4 466.6h.7M536.1 465.5h.7M539.3 470.9h.7M545.5 468.1h.7M529.6 467.9h.7M551.0 470.1h.7M538.4 462.0h.7M535.2 470.2h.7M531.2 472.5h.7M534.4 465.7h.7M534.2 468.1h.7M546.1 467.2h.7M525.2 467.7h.7M542.2 473.6h.7M529.9 472.8h.7M543.5 470.3h.7M532.9 465.6h.7M531.2 471.2h.7M540.0 472.0h.7M552.1 469.3h.7M537.8 474.6h.7M528.8 466.7h.7M535.8 467.3h.7M539.7 466.0h.7M547.4 464.8h.7M532.7 463.0h.7M527.9 469.9h.7M543.2 468.2h.7M544.7 470.9h.7M534.2 468.3h.7M540.9 475.0h.7M535.2 469.6h.7M542.4 472.6h.7M541.5 472.1h.7M530.6 467.4h.7M524.1 467.7h.7M555.9 470.2h.7M539.1 469.5h.7M539.8 464.5h.7M533.4 467.8h.7M539.9 466.0h.7M537.8 466.3h.7M528.8 466.1h.7M532.4 470.9h.7M548.4 470.9h.7M537.0 466.8h.7M526.9 466.4h.7M550.0 472.8h.7M540.2 467.9h.7M538.5 469.9h.7M538.4 470.0h.7M532.7 468.5h.7M535.7 471.9h.7M529.0 472.2h.7M537.9 467.0h.7M538.6 469.0h.7M536.7 469.9h.7M534.5 463.1h.7M543.7 468.8h.7M550.9 470.4h.7M523.4 471.7h.7M533.3 470.1h.7M554.9 472.9h.7M530.4 467.9h.7M526.4 470.1h.7M542.9 465.6h.7M541.7 471.7h.7M544.6 466.8h.7M533.5 464.9h.7M528.8 469.1h.7M538.6 472.7h.7M540.6 467.7h.7M527.6 472.9h.7M539.7 468.6h.7M531.2 465.0h.7M543.4 465.8h.7M542.8 470.8h.7M535.9 463.4h.7M541.3 473.2h.7M532.5 464.4h.7M546.6 469.5h.7M533.7 472.2h.7M536.4 469.9h.7M535.6 466.1h.7M540.3 466.0h.7M525.4 466.3h.7M547.5 472.5h.7M554.5 472.5h.7M550.5 470.0h.7M535.2 469.9h.7M531.3 470.6h.7M535.1 469.3h.7M532.2 467.9h.7M545.8 468.3h.7M533.4 469.3h.7M545.1 468.4h.7M530.0 463.4h.7M528.4 471.4h.7M537.8 470.1h.7M546.5 469.9h.7M542.2 467.2h.7M526.4 470.0h.7M537.7 470.4h.7M530.6 467.8h.7M553.6 466.8h.7M539.0 472.7h.7M536.8 468.9h.7M522.5 470.2h.7M535.0 472.4h.7M537.9 467.4h.7M541.8 468.1h.7M534.4 473.2h.7M545.8 469.3h.7M544.4 471.5h.7M542.8 469.0h.7M539.0 469.9h.7M542.6 469.9h.7M534.4 468.2h.7M542.1 465.8h.7M538.3 471.0h.7M539.8 467.8h.7M538.4 467.1h.7M545.9 467.8h.7M526.3 464.3h.7M540.7 469.4h.7M535.2 464.4h.7M537.5 466.0h.7M533.6 468.4h.7M532.8 469.3h.7M533.1 466.9h.7M536.6 473.0h.7M550.1 472.1h.7M533.0 468.4h.7M545.2 471.5h.7M526.4 467.9h.7M532.9 470.7h.7M543.3 467.2h.7M554.5 468.6h.7M556.7 469.0h.7M537.6 474.4h.7M534.7 467.0h.7M549.5 469.1h.7M542.2 465.0h.7M548.0 474.5h.7M531.2 473.4h.7M521.1 468.7h.7M508.5 472.0h.7M541.5 474.0h.7M537.8 473.4h.7M516.2 465.3h.7M534.5 471.2h.7M538.6 469.5h.7M516.6 472.4h.7M520.5 464.0h.7M519.9 467.0h.7M513.9 468.4h.7M538.1 480.0h.7M547.3 468.9h.7M540.4 470.3h.7M531.7 467.9h.7M526.1 463.9h.7M548.0 467.5h.7M533.9 468.2h.7M530.2 465.9h.7M522.6 474.2h.7M534.0 462.8h.7M537.0 465.3h.7M530.4 472.6h.7M519.5 469.3h.7M524.1 472.2h.7M537.7 476.0h.7M530.8 478.5h.7M515.9 477.7h.7M523.9 473.6h.7M525.5 470.9h.7M516.2 472.1h.7M550.8 471.2h.7M526.8 470.6h.7M535.4 469.8h.7M527.0 471.4h.7M542.3 474.4h.7M514.6 468.0h.7M527.2 474.0h.7M538.4 469.7h.7M552.0 469.9h.7M543.5 476.3h.7M545.7 471.4h.7M533.8 464.5h.7M506.1 468.1h.7M535.5 474.8h.7M525.8 474.7h.7M533.8 476.6h.7M508.3 467.3h.7M515.8 466.4h.7M546.4 466.9h.7M517.3 469.0h.7M537.4 468.7h.7M535.7 472.8h.7M519.5 461.1h.7M516.2 465.6h.7M546.2 467.7h.7M514.4 472.1h.7M527.6 466.8h.7M539.9 474.2h.7M530.3 467.5h.7M516.7 462.4h.7M531.5 472.1h.7M516.2 470.7h.7M565.5 466.1h.7M506.9 473.0h.7M522.0 468.6h.7M534.3 470.0h.7M538.7 472.6h.7M540.7 471.0h.7M501.6 476.0h.7M507.0 474.7h.7M530.0 465.0h.7M527.8 474.1h.7M515.0 470.7h.7M518.3 466.6h.7M519.7 475.6h.7M535.1 470.4h.7M526.0 471.1h.7M530.4 471.3h.7M506.8 474.2h.7M516.9 460.2h.7M535.3 465.7h.7M525.3 470.2h.7M520.0 472.7h.7M523.8 469.4h.7M515.8 469.4h.7M514.8 470.7h.7M542.6 474.6h.7M532.0 465.1h.7M539.1 474.3h.7M551.3 461.6h.7M527.2 469.2h.7M539.8 466.2h.7M522.5 479.8h.7M538.7 462.6h.7M527.2 476.0h.7M519.7 472.9h.7M528.2 464.7h.7M519.6 475.1h.7M541.0 468.1h.7M540.3 467.7h.7M529.9 470.5h.7M512.3 471.8h.7M522.4 459.6h.7M517.2 467.1h.7M517.1 466.6h.7M518.9 460.7h.7M537.5 470.8h.7" stroke="#f73aa6" stroke-width="0.7" opacity="0.8" fill="none"/>
<path d="M517.1 466.7h.7M516.4 466.8h.7M511.8 465.4h.7M516.9 469.1h.7M517.7 470.0h.7M511.2 467.9h.7M514.5 470.0h.7M522.3 465.1h.7M518.9 466.3h.7M512.6 467.9h.7M513.0 470.8h.7M518.9 469.0h.7M516.7 462.7h.7M519.3 466.9h.7M507.6 469.3h.7M520.6 469.6h.7M512.8 469.5h.7M517.5 466.8h.7M515.5 468.5h.7M518.7 468.1h.7M514.3 465.3h.7M521.6 468.6h.7M514.2 467.7h.7M518.6 463.6h.7M519.0 471.2h.7M517.0 465.9h.7M523.8 465.8h.7M516.9 466.4h.7M516.3 464.0h.7M511.1 465.6h.7M519.6 466.5h.7M519.8 462.8h.7M514.6 470.3h.7M512.7 464.6h.7M513.4 467.2h.7M516.7 469.6h.7M521.7 469.1h.7M518.2 466.0h.7M514.0 465.0h.7M521.4 468.6h.7M516.3 465.6h.7M518.9 467.7h.7M516.4 465.1h.7M517.0 466.1h.7M519.2 467.8h.7M517.8 466.2h.7M522.2 467.6h.7M521.2 467.9h.7M518.9 467.5h.7M511.7 464.9h.7M513.1 469.1h.7M519.7 467.0h.7M517.3 470.5h.7M514.2 464.4h.7M510.5 467.9h.7M519.1 468.1h.7M515.8 468.9h.7M515.9 466.0h.7M515.2 468.9h.7M519.4 464.6h.7M512.7 468.3h.7M523.6 463.6h.7M511.9 469.0h.7M517.9 465.8h.7M516.4 468.2h.7M509.9 468.6h.7M518.8 468.5h.7M520.5 466.3h.7M511.5 470.8h.7M518.9 465.6h.7M520.5 468.4h.7M514.9 463.2h.7M514.3 466.3h.7M513.2 467.8h.7M512.5 468.8h.7M522.8 463.8h.7M519.9 465.6h.7M518.2 466.7h.7M520.7 465.1h.7M518.7 465.4h.7M517.1 467.1h.7M519.7 463.7h.7M511.9 470.8h.7M518.3 470.0h.7M512.6 468.4h.7M519.1 470.0h.7M515.9 466.5h.7M518.9 466.6h.7M513.8 469.2h.7M509.0 466.9h.7M521.1 465.4h.7M515.3 468.2h.7M520.6 467.4h.7M512.6 467.0h.7M520.1 466.3h.7M514.3 469.3h.7M521.2 470.3h.7M512.1 466.8h.7M513.9 468.4h.7M515.0 469.6h.7M506.9 471.0h.7M513.9 467.3h.7M518.4 467.2h.7M513.2 470.7h.7M518.2 466.0h.7M516.7 465.2h.7M511.7 467.7h.7M517.7 467.2h.7M513.0 465.4h.7M510.8 471.4h.7M517.4 465.6h.7M520.8 467.4h.7M514.6 466.5h.7M520.6 467.0h.7M522.4 466.7h.7M514.0 466.7h.7M513.8 468.3h.7M517.4 468.2h.7M517.6 465.1h.7M515.2 465.8h.7M517.6 464.6h.7M513.9 466.2h.7M514.0 467.3h.7M521.7 465.7h.7M511.0 467.8h.7M519.2 467.7h.7M517.9 470.7h.7M520.4 466.6h.7M520.2 464.0h.7M515.4 465.9h.7M517.5 470.1h.7M515.1 470.5h.7M513.1 470.6h.7M509.9 467.0h.7M519.9 466.4h.7M516.8 467.2h.7M516.9 466.8h.7M512.7 467.5h.7M516.4 465.6h.7M518.6 470.1h.7M510.2 467.5h.7M515.3 467.5h.7M516.4 465.9h.7M516.2 467.3h.7M516.5 470.1h.7M516.2 464.6h.7M510.8 469.5h.7M514.8 466.4h.7M511.3 467.7h.7M515.7 466.1h.7M515.3 469.1h.7M519.3 467.7h.7M515.2 465.0h.7M519.7 469.4h.7M521.3 468.4h.7M517.4 467.8h.7M516.7 469.5h.7M516.1 471.3h.7M519.0 466.2h.7M515.7 464.4h.7M513.5 467.3h.7M524.9 464.1h.7M519.7 466.8h.7M515.5 468.6h.7M509.4 470.5h.7M523.4 466.4h.7M516.1 467.6h.7M518.5 465.9h.7M516.9 468.1h.7M515.2 468.3h.7M517.8 468.3h.7M512.5 467.1h.7M515.2 469.8h.7M516.6 464.2h.7M512.4 471.7h.7M517.1 464.7h.7M513.1 468.2h.7M522.0 469.1h.7M514.9 467.0h.7M522.9 464.1h.7M522.1 466.8h.7M517.1 469.5h.7M517.7 465.5h.7M510.8 468.4h.7M518.6 469.4h.7M507.3 471.6h.7M519.1 469.6h.7M519.3 467.1h.7M518.0 467.7h.7M514.0 467.6h.7M516.6 466.4h.7M510.5 465.8h.7M518.3 467.9h.7M516.3 465.1h.7M519.2 466.0h.7M509.4 471.6h.7M511.7 472.4h.7M518.1 466.1h.7M507.5 467.8h.7M522.2 468.6h.7M516.6 464.0h.7M514.8 467.1h.7M517.9 466.7h.7M517.0 464.1h.7M514.5 470.4h.7M511.4 470.0h.7M524.9 466.8h.7M511.7 470.5h.7M509.7 469.3h.7M515.3 469.8h.7M520.6 466.8h.7M523.1 467.7h.7M514.2 465.9h.7M525.1 464.8h.7M517.7 466.8h.7M514.0 464.8h.7M515.7 467.2h.7M519.7 465.7h.7M510.3 466.5h.7M516.2 467.8h.7M518.8 466.1h.7M518.3 467.2h.7M522.4 466.0h.7M517.0 468.2h.7M520.4 464.8h.7M514.5 467.2h.7M509.1 471.2h.7M520.2 466.6h.7M528.9 467.1h.7M524.2 468.6h.7M519.1 464.1h.7M522.0 466.9h.7M512.0 468.3h.7M519.4 468.5h.7M516.7 466.2h.7M518.8 465.4h.7M516.3 468.7h.7M511.2 469.0h.7M508.9 467.1h.7M511.8 468.0h.7M518.9 466.7h.7M519.6 466.8h.7M515.7 468.3h.7M515.5 467.7h.7M519.9 465.5h.7M520.1 464.5h.7M514.9 464.3h.7M515.0 470.5h.7M518.1 469.3h.7M510.6 466.6h.7M518.3 468.4h.7M518.7 463.7h.7M518.1 466.8h.7M516.9 468.1h.7M514.7 464.5h.7M511.9 465.5h.7M511.5 468.0h.7M520.8 465.1h.7M513.1 465.8h.7M510.1 468.7h.7M514.5 467.2h.7M513.0 468.9h.7M512.1 469.2h.7M514.2 469.2h.7M513.2 468.7h.7M517.9 466.8h.7M522.3 466.4h.7M513.3 469.2h.7M513.1 466.9h.7M516.4 467.6h.7M521.8 462.9h.7M515.8 469.5h.7M515.8 468.0h.7M521.4 464.0h.7M516.7 468.7h.7M513.5 464.6h.7M512.8 468.4h.7M517.7 470.5h.7M520.6 463.5h.7M520.4 468.2h.7M522.1 465.8h.7M514.3 468.0h.7M522.1 467.3h.7M522.7 467.5h.7M513.8 465.9h.7M522.5 463.2h.7M514.9 467.0h.7M512.8 466.9h.7M517.2 471.6h.7M515.9 466.4h.7M517.1 468.9h.7M513.2 467.2h.7M510.2 469.8h.7M519.3 469.5h.7M512.7 472.1h.7M519.4 466.2h.7M514.8 467.0h.7M512.2 469.6h.7M513.8 466.4h.7M518.2 467.1h.7M514.1 467.3h.7M515.0 470.1h.7M519.7 465.3h.7M516.7 469.8h.7M515.9 470.7h.7M518.2 468.2h.7M509.1 470.4h.7M517.7 468.1h.7M518.2 467.9h.7M514.8 469.3h.7M516.1 465.4h.7M512.7 468.3h.7M516.7 463.1h.7M509.2 470.7h.7M517.3 472.4h.7M510.6 468.0h.7M514.3 468.7h.7M522.0 469.2h.7M513.1 470.3h.7M512.0 468.8h.7M517.1 468.3h.7M513.9 470.3h.7M516.0 467.3h.7M514.9 465.6h.7M519.0 467.4h.7M518.6 470.3h.7M513.0 467.4h.7M516.6 468.8h.7M516.0 469.1h.7M517.3 463.8h.7M513.1 464.1h.7M515.1 466.8h.7M518.5 467.2h.7M516.5 469.6h.7M518.0 464.6h.7M513.9 468.4h.7M522.4 465.7h.7M515.8 467.9h.7M519.1 466.6h.7M517.2 466.3h.7M514.0 466.3h.7M518.5 465.8h.7M518.4 467.6h.7M518.9 461.7h.7M512.3 465.8h.7M516.0 468.9h.7M526.1 468.2h.7M521.4 467.0h.7M515.1 468.6h.7M508.7 470.6h.7M516.6 468.4h.7M512.2 466.1h.7M513.9 467.7h.7M517.4 466.4h.7M517.8 468.3h.7M512.0 468.0h.7M510.4 467.5h.7M519.3 465.3h.7M523.3 466.8h.7M519.6 466.8h.7M519.8 468.6h.7M516.5 466.3h.7M515.0 471.2h.7M515.5 466.6h.7M513.1 464.8h.7M514.6 468.3h.7M514.3 466.3h.7M518.0 467.8h.7M514.8 468.2h.7M513.1 469.6h.7M512.6 467.4h.7M516.6 466.4h.7M512.9 471.9h.7M521.2 463.0h.7M516.3 464.9h.7M517.0 464.7h.7M518.6 467.8h.7M523.0 468.2h.7M515.0 469.4h.7M514.6 467.4h.7M513.8 464.5h.7M517.7 463.2h.7M515.6 468.4h.7M516.1 464.4h.7M514.2 469.0h.7M520.9 469.4h.7M509.9 469.5h.7M514.8 469.0h.7M510.1 468.3h.7M518.6 465.6h.7M514.6 465.8h.7M519.9 464.1h.7M512.9 467.4h.7M515.9 471.4h.7M517.0 465.6h.7M518.5 467.5h.7M517.3 467.0h.7M517.6 464.8h.7M511.8 467.4h.7M512.5 469.4h.7M523.8 468.1h.7M518.0 467.6h.7M513.3 465.5h.7M517.8 464.2h.7M517.3 466.8h.7M519.1 466.8h.7M516.5 466.2h.7M509.9 467.9h.7M519.2 468.7h.7M521.0 464.5h.7M513.1 469.3h.7M515.6 472.3h.7M516.9 464.3h.7M514.9 470.6h.7M509.7 468.9h.7M511.8 471.2h.7M514.3 465.8h.7M509.8 467.3h.7M506.8 468.3h.7M524.3 465.9h.7M514.9 465.4h.7M517.4 466.2h.7M513.7 470.4h.7M517.6 465.4h.7M521.7 466.1h.7M518.2 467.2h.7M520.8 467.5h.7M515.3 468.9h.7M514.9 467.8h.7M521.9 464.2h.7M512.4 467.3h.7M515.0 470.0h.7M511.3 472.6h.7M521.9 465.3h.7M516.8 466.5h.7M519.0 468.0h.7M519.3 468.1h.7M523.3 465.6h.7M518.8 466.4h.7M516.5 467.7h.7M516.2 468.0h.7M513.1 467.7h.7M513.7 465.6h.7M513.5 466.9h.7M515.2 464.6h.7M514.9 465.4h.7M513.4 468.2h.7M520.4 467.0h.7M514.4 466.9h.7M520.6 463.4h.7M519.9 463.7h.7M514.0 467.9h.7M516.1 470.5h.7M518.1 466.8h.7M519.8 466.7h.7M513.8 469.9h.7M522.2 468.5h.7M512.7 471.6h.7M515.1 469.0h.7M521.5 470.7h.7M510.0 466.6h.7M520.8 467.3h.7M514.1 462.2h.7M517.8 466.6h.7M507.8 474.1h.7M507.0 468.1h.7M516.4 467.7h.7M519.0 466.3h.7M512.9 467.3h.7M508.2 466.8h.7M523.3 464.6h.7M516.7 470.8h.7M520.2 466.7h.7M518.9 466.3h.7M513.4 469.8h.7M517.4 470.1h.7M515.2 466.8h.7M517.5 466.7h.7M514.8 465.9h.7M517.3 467.7h.7M523.0 465.9h.7M510.1 469.4h.7M524.5 464.8h.7M513.3 467.6h.7M505.7 468.8h.7M515.1 464.7h.7M518.1 465.3h.7M509.3 467.4h.7M519.3 470.3h.7M520.9 466.7h.7M514.3 467.2h.7M519.6 465.6h.7M518.2 468.8h.7M512.8 466.9h.7M517.9 467.0h.7M515.7 466.4h.7M516.8 470.7h.7M520.7 463.4h.7M516.5 467.4h.7M515.9 464.8h.7M515.9 467.7h.7M513.9 468.4h.7M506.8 466.4h.7M516.8 467.9h.7M515.5 466.6h.7M517.4 469.1h.7M519.6 466.5h.7M515.0 469.6h.7M518.6 468.5h.7M515.0 465.9h.7M516.8 466.0h.7M520.8 468.0h.7M508.6 470.1h.7M521.6 468.2h.7M514.3 466.1h.7M520.2 468.4h.7M516.1 465.2h.7M510.8 468.9h.7M513.0 466.7h.7M518.3 468.9h.7M508.5 467.6h.7M521.0 466.3h.7M515.3 468.7h.7M511.7 465.9h.7M517.0 470.1h.7M520.0 466.5h.7M519.8 465.8h.7M511.4 465.1h.7M517.6 468.7h.7M517.6 467.0h.7M515.2 469.6h.7M515.6 464.7h.7M521.1 465.1h.7M517.7 467.0h.7M520.2 467.0h.7M520.9 466.8h.7M514.4 466.7h.7M518.4 465.3h.7M519.6 466.2h.7M512.6 466.4h.7M516.4 470.6h.7M519.1 466.8h.7M513.7 471.4h.7M515.3 467.5h.7M515.2 470.0h.7M516.8 466.3h.7M516.6 465.3h.7M512.4 467.8h.7M506.2 471.6h.7M523.2 463.8h.7M515.2 464.5h.7M517.0 467.6h.7M518.5 464.3h.7M513.9 466.6h.7M516.2 471.7h.7M515.6 467.4h.7M514.7 469.1h.7M526.1 467.5h.7M521.5 464.2h.7M520.2 466.6h.7M521.3 468.3h.7M518.1 463.8h.7M516.6 466.3h.7M518.0 467.0h.7M519.5 463.6h.7M513.6 467.7h.7M517.3 466.3h.7M516.2 467.4h.7M520.1 466.3h.7M516.5 463.8h.7M506.2 466.6h.7M516.8 462.8h.7M517.8 466.8h.7M516.0 466.0h.7M515.1 469.1h.7M517.6 467.0h.7M514.6 468.1h.7M520.7 466.4h.7M514.5 465.4h.7M516.3 465.5h.7M511.4 470.0h.7M513.3 464.0h.7M514.4 471.2h.7M515.4 465.0h.7M512.5 469.4h.7M517.9 467.4h.7M515.8 468.3h.7M522.1 467.0h.7M515.2 464.9h.7M518.5 469.8h.7M518.2 464.5h.7M517.5 469.5h.7M514.2 468.7h.7M521.3 469.4h.7M509.8 465.3h.7M517.9 468.3h.7M515.0 467.5h.7M515.2 469.8h.7M508.3 469.4h.7M511.4 467.0h.7M510.3 466.8h.7M516.2 467.4h.7M522.8 465.6h.7M517.7 467.7h.7M517.8 469.8h.7M516.9 467.5h.7M515.9 467.4h.7M516.5 469.2h.7M516.4 467.4h.7M516.4 468.7h.7M514.9 469.4h.7M514.5 469.0h.7M523.4 466.3h.7M515.5 465.2h.7M519.0 466.8h.7M519.4 465.4h.7M518.9 470.2h.7M517.7 466.4h.7M511.5 468.3h.7M518.9 467.9h.7M511.8 466.2h.7M512.3 466.2h.7M515.4 468.0h.7M523.4 466.2h.7M521.0 463.2h.7M522.3 467.6h.7M518.2 468.5h.7M519.3 470.4h.7M518.6 463.5h.7M510.5 471.6h.7M516.5 469.8h.7M514.8 466.4h.7M515.2 468.1h.7M516.8 466.0h.7M518.5 468.0h.7M512.5 465.9h.7M509.0 468.2h.7M516.1 466.0h.7M514.0 467.5h.7M516.6 468.3h.7M544.7 468.5h.7M546.5 465.7h.7M543.4 468.3h.7M534.1 465.8h.7M542.5 467.6h.7M532.9 466.0h.7M548.7 469.4h.7M540.4 470.1h.7M534.8 466.9h.7M545.5 467.0h.7M533.6 468.3h.7M549.4 462.8h.7M541.0 465.0h.7M538.4 464.5h.7M554.9 466.7h.7M540.3 466.0h.7M534.4 466.3h.7M541.1 470.9h.7M541.5 470.6h.7M533.9 467.3h.7M537.6 464.2h.7M561.4 467.8h.7M541.5 466.0h.7M536.8 465.2h.7M545.9 466.8h.7M539.2 467.7h.7M533.0 467.6h.7M539.0 468.2h.7M537.8 467.4h.7M542.9 469.4h.7M536.0 469.2h.7M534.4 466.8h.7M540.7 467.7h.7M525.8 464.9h.7M538.9 469.2h.7M535.8 470.2h.7M529.7 467.1h.7M543.1 467.6h.7M541.4 469.3h.7M535.3 468.4h.7M546.1 467.2h.7M526.8 464.5h.7M535.2 465.1h.7M542.5 465.9h.7M554.2 469.1h.7M532.5 466.5h.7M548.7 469.1h.7M534.1 469.2h.7M537.1 471.7h.7M536.8 468.5h.7M543.3 466.7h.7M539.0 469.7h.7M542.9 467.4h.7M542.4 471.0h.7M545.3 468.6h.7M542.0 464.4h.7M540.8 466.5h.7M544.2 466.4h.7M542.7 465.4h.7M545.2 466.2h.7M539.8 468.5h.7M538.1 467.3h.7M545.9 471.1h.7M529.7 465.2h.7M543.8 469.4h.7M537.3 467.5h.7M538.7 471.9h.7M539.0 465.0h.7M531.2 464.5h.7M547.5 466.9h.7M551.1 469.1h.7M542.1 468.8h.7M544.5 469.4h.7M534.5 466.1h.7M536.9 467.5h.7M538.7 464.9h.7M535.9 470.8h.7M552.2 466.2h.7M542.2 467.4h.7M535.1 468.6h.7M539.5 470.7h.7M542.6 466.9h.7M524.8 466.6h.7M544.9 466.2h.7M545.0 469.0h.7M529.9 466.6h.7M541.8 469.0h.7M540.9 467.4h.7M538.0 466.7h.7M540.1 465.3h.7M543.7 466.9h.7M543.0 466.5h.7M542.3 467.7h.7M545.1 468.5h.7M545.4 467.3h.7M539.7 466.9h.7M532.8 466.9h.7M546.2 469.2h.7M535.1 467.8h.7M544.4 464.9h.7M542.0 468.1h.7M544.3 468.1h.7M530.2 463.0h.7M551.4 467.1h.7M547.2 470.2h.7M540.6 465.2h.7M547.8 467.6h.7M542.9 468.5h.7M545.4 469.6h.7M532.0 464.3h.7M540.8 467.5h.7M544.5 467.3h.7M538.8 471.4h.7M547.8 470.0h.7M546.0 466.1h.7M539.5 467.2h.7M533.8 465.4h.7M541.0 465.0h.7M543.1 468.5h.7M538.7 466.7h.7M543.4 468.5h.7M542.2 465.1h.7M530.5 471.1h.7M536.3 466.5h.7M529.6 465.4h.7M535.7 468.8h.7M525.0 464.0h.7M537.7 466.3h.7M535.6 466.4h.7M531.0 467.6h.7M546.8 468.0h.7M536.8 469.8h.7M542.9 465.5h.7M536.8 466.1h.7M539.6 469.8h.7M536.0 467.0h.7M540.7 465.1h.7M537.2 468.5h.7M546.6 464.0h.7M544.1 467.0h.7M547.3 468.9h.7M551.3 468.5h.7M537.8 465.7h.7M531.8 468.2h.7M542.9 469.1h.7M542.1 464.5h.7M537.7 466.8h.7M540.9 468.9h.7M548.1 468.3h.7M528.3 464.9h.7M527.8 465.4h.7M533.1 467.6h.7M538.6 469.5h.7M546.2 466.8h.7M545.4 467.6h.7M542.5 470.1h.7M533.4 467.0h.7M548.9 466.3h.7M541.2 467.7h.7M537.7 464.7h.7M536.1 465.3h.7M546.2 468.1h.7M544.1 465.2h.7M542.9 467.8h.7M546.1 466.2h.7M544.5 470.3h.7M550.4 466.0h.7M533.7 464.3h.7M545.5 468.8h.7M542.0 465.8h.7M547.1 470.8h.7M539.8 467.2h.7M546.8 468.7h.7M547.7 466.9h.7M542.0 466.8h.7M536.8 466.7h.7M538.3 468.3h.7M538.3 467.5h.7M535.5 464.8h.7M548.3 465.8h.7M550.3 469.7h.7M526.9 465.6h.7M537.6 467.3h.7M539.0 466.2h.7M547.2 467.4h.7M545.6 466.3h.7M535.9 469.9h.7M538.5 465.2h.7M538.9 469.4h.7M539.1 466.0h.7M543.6 469.5h.7M538.8 466.7h.7M537.7 472.6h.7M538.8 470.8h.7M539.1 468.2h.7M528.3 467.3h.7M540.3 466.8h.7M537.8 464.6h.7M531.5 467.4h.7M536.4 467.1h.7M539.0 466.4h.7M535.7 470.9h.7M533.7 466.2h.7M538.4 465.1h.7M534.5 468.9h.7M545.3 467.9h.7M558.5 469.8h.7M547.1 466.1h.7M546.1 470.9h.7M537.7 470.8h.7M535.5 465.0h.7M539.8 465.8h.7M543.7 465.4h.7M540.6 463.6h.7M539.7 469.4h.7M538.5 468.0h.7M546.3 465.5h.7M532.7 467.3h.7M541.6 466.9h.7M534.4 469.5h.7M533.4 466.6h.7M539.7 468.8h.7M537.5 465.7h.7M551.6 466.2h.7M544.6 467.3h.7M537.3 467.2h.7M538.5 468.0h.7M525.5 466.8h.7M540.5 465.5h.7M537.6 471.9h.7M550.5 469.1h.7M541.4 466.9h.7M548.0 466.8h.7M535.3 468.6h.7M534.6 465.6h.7M548.4 464.6h.7M539.6 467.6h.7M541.6 464.6h.7M538.7 466.7h.7M550.9 469.8h.7M535.6 468.9h.7M543.8 467.3h.7M538.7 466.8h.7M531.2 465.8h.7M545.3 470.4h.7M550.7 467.1h.7M543.7 462.8h.7M538.6 464.9h.7M544.9 464.4h.7M534.2 465.0h.7M542.2 469.1h.7M534.6 470.7h.7M541.0 465.8h.7M542.0 467.5h.7M544.8 468.3h.7M552.5 470.2h.7M536.3 468.8h.7M544.5 465.6h.7M535.8 465.7h.7M525.9 468.1h.7M538.7 469.8h.7M536.8 467.4h.7M544.1 469.5h.7M541.9 465.4h.7M552.6 469.6h.7M547.7 470.9h.7M548.0 468.5h.7M542.7 468.7h.7M531.4 468.6h.7M534.4 468.0h.7M534.2 468.6h.7M537.1 472.1h.7M541.1 468.4h.7M534.9 466.6h.7M539.7 466.8h.7M537.6 465.6h.7M544.4 466.8h.7M535.3 467.9h.7M535.4 466.9h.7M537.2 465.5h.7M538.8 465.7h.7M532.9 467.8h.7M538.5 464.5h.7M537.8 467.7h.7M542.5 468.2h.7M541.4 468.6h.7M537.3 465.7h.7M543.6 466.7h.7M540.0 468.7h.7M545.3 470.0h.7M536.1 466.5h.7M543.3 464.7h.7M532.8 468.3h.7M536.6 465.5h.7M544.6 468.6h.7M545.3 467.0h.7M538.4 466.7h.7M541.9 463.5h.7M536.0 468.6h.7M535.6 467.1h.7M540.7 468.4h.7M537.4 465.1h.7M554.3 466.6h.7M549.9 464.4h.7M540.7 467.0h.7M550.7 471.8h.7M545.7 465.7h.7M535.5 465.8h.7M537.1 467.8h.7M535.6 466.7h.7M548.3 470.5h.7M529.5 465.1h.7M537.8 469.8h.7M538.0 471.0h.7M542.0 470.3h.7M535.2 466.6h.7M545.8 468.7h.7M529.4 466.4h.7M541.0 468.7h.7M536.3 470.6h.7M540.8 470.3h.7M542.3 467.7h.7M538.3 465.1h.7M544.9 469.1h.7M545.4 466.9h.7M534.4 466.4h.7M538.3 467.3h.7M545.7 465.9h.7M537.2 468.6h.7M545.0 471.9h.7M543.1 465.9h.7M534.2 465.6h.7M540.4 467.9h.7M539.7 466.2h.7M539.0 467.2h.7M543.4 467.7h.7M535.5 465.0h.7M548.5 467.6h.7M539.1 467.3h.7M546.5 467.1h.7M541.1 467.0h.7M543.4 465.6h.7M541.1 469.4h.7M546.8 468.9h.7M541.6 470.5h.7M544.0 470.3h.7M533.3 465.0h.7M544.6 467.1h.7M537.7 465.5h.7M548.6 465.4h.7M540.8 464.7h.7M538.9 471.7h.7M553.9 467.0h.7M534.2 470.3h.7M535.3 463.8h.7M542.1 465.4h.7M531.7 469.3h.7M536.0 465.2h.7M541.0 467.1h.7M546.4 467.8h.7M549.0 470.0h.7M550.1 470.0h.7M540.4 468.5h.7M540.3 464.4h.7M533.3 468.6h.7M526.7 465.3h.7M532.8 467.0h.7M534.2 467.7h.7M539.0 466.5h.7M535.4 462.9h.7M540.6 464.9h.7M538.4 468.1h.7M546.0 469.0h.7M548.6 465.0h.7M543.8 470.6h.7M542.4 465.4h.7M542.4 466.5h.7M536.4 469.3h.7M539.2 465.2h.7M536.1 471.1h.7M535.2 468.5h.7M541.0 469.7h.7M538.6 465.5h.7M536.5 465.3h.7M554.8 468.4h.7M538.2 469.8h.7M543.8 467.2h.7M543.6 468.1h.7M546.4 470.9h.7M538.3 467.3h.7M539.0 469.7h.7M542.2 469.0h.7M545.2 466.4h.7M540.7 470.1h.7M545.3 469.2h.7M538.5 466.7h.7M535.3 466.7h.7M539.8 464.6h.7M546.7 466.2h.7M541.5 468.6h.7M537.1 463.8h.7M545.5 468.4h.7M538.6 469.5h.7M545.2 465.8h.7M539.8 464.0h.7M538.5 470.1h.7M535.3 468.8h.7M531.6 466.5h.7M545.3 470.9h.7M542.6 469.0h.7M550.0 463.1h.7M530.3 470.7h.7M554.0 469.1h.7M540.4 467.9h.7M540.3 466.2h.7M540.0 467.2h.7M543.8 468.9h.7M545.6 468.8h.7M534.5 469.9h.7M525.0 467.0h.7M542.0 466.5h.7M550.8 465.7h.7M533.5 466.2h.7M542.4 469.0h.7M540.7 468.7h.7M536.2 466.1h.7M540.9 464.8h.7M541.2 466.7h.7M544.0 465.6h.7M537.2 466.2h.7M538.1 465.4h.7M538.7 464.7h.7M543.1 468.8h.7M540.0 467.0h.7M535.2 465.4h.7M538.9 465.6h.7M533.5 467.5h.7M540.0 466.6h.7M535.5 467.1h.7M536.2 466.4h.7M541.1 468.8h.7M544.4 466.4h.7M547.0 465.4h.7M539.0 469.9h.7M553.4 468.2h.7M538.1 466.6h.7M533.3 466.9h.7M537.8 465.9h.7M546.9 466.2h.7M549.5 469.4h.7M543.7 466.4h.7M537.4 463.4h.7M541.7 466.9h.7M542.3 466.2h.7M542.9 464.6h.7M527.8 467.8h.7M546.4 461.6h.7M547.3 467.0h.7M539.3 464.4h.7M534.4 468.6h.7M536.0 467.2h.7M539.1 471.2h.7M545.2 465.1h.7M537.5 465.1h.7M532.4 465.8h.7M546.3 467.8h.7M543.9 467.3h.7M537.7 467.5h.7M539.5 471.1h.7M550.1 468.5h.7M543.6 463.7h.7M539.2 472.0h.7M535.5 468.8h.7M547.0 466.9h.7M538.9 466.5h.7M544.5 467.6h.7M548.4 470.0h.7M539.8 472.4h.7M538.4 466.2h.7M538.8 465.7h.7M537.7 467.2h.7M545.2 464.6h.7M532.3 465.6h.7M538.3 468.2h.7M535.6 470.1h.7M537.1 466.9h.7M540.3 469.7h.7M541.7 467.5h.7M537.0 467.6h.7M542.4 466.8h.7M540.1 463.8h.7M537.0 469.6h.7M548.0 467.6h.7M527.9 470.5h.7M538.9 472.3h.7M537.7 469.3h.7M536.5 469.9h.7M546.6 465.6h.7M547.1 473.2h.7M538.9 465.0h.7M541.6 466.7h.7M531.8 465.0h.7M541.6 464.5h.7M546.1 468.5h.7M539.0 470.1h.7M534.8 468.5h.7M532.5 466.5h.7M543.7 466.5h.7M539.4 468.6h.7M548.5 470.3h.7M542.7 467.0h.7M531.8 470.4h.7M550.7 463.6h.7M544.9 467.5h.7M544.0 468.2h.7M539.0 467.4h.7M539.8 469.7h.7M538.6 466.3h.7M543.7 468.8h.7M542.5 468.1h.7M548.2 469.9h.7M541.3 467.0h.7M543.9 463.9h.7M537.2 465.9h.7M541.0 466.7h.7M553.7 469.4h.7M542.1 471.9h.7M540.1 466.8h.7M546.9 469.3h.7M545.1 470.0h.7M538.1 466.0h.7M536.0 467.4h.7M545.7 465.6h.7M537.2 464.7h.7M551.1 469.4h.7M541.4 465.1h.7M534.4 465.9h.7M540.3 464.9h.7M538.7 469.7h.7M540.1 467.6h.7M528.4 466.4h.7M539.3 466.0h.7M532.3 467.0h.7M534.4 466.1h.7M531.2 466.9h.7M545.2 466.0h.7M542.0 464.5h.7M543.2 468.6h.7M537.8 469.0h.7M535.2 467.3h.7M549.4 467.7h.7M533.7 469.4h.7M543.1 467.0h.7M530.1 463.3h.7M531.5 470.0h.7M541.8 465.8h.7M546.4 470.5h.7M535.3 468.2h.7M530.9 467.8h.7M550.3 465.1h.7M540.4 466.2h.7M539.5 467.6h.7M541.5 469.2h.7M542.8 469.6h.7M545.6 469.8h.7M536.3 468.0h.7M538.0 465.7h.7M550.9 468.4h.7M540.5 463.3h.7M538.7 468.9h.7M539.0 466.3h.7M548.3 467.1h.7M538.2 467.1h.7M538.7 469.4h.7M543.2 467.4h.7M538.1 466.9h.7M549.5 467.2h.7M543.8 464.5h.7M541.8 468.8h.7M547.1 468.3h.7M543.2 468.2h.7M545.8 471.6h.7M541.2 465.9h.7M543.4 467.3h.7M543.5 469.1h.7M540.9 466.6h.7M541.9 465.0h.7M541.6 465.7h.7M542.5 467.7h.7M538.9 465.0h.7M540.4 466.1h.7M539.2 468.7h.7M545.4 465.1h.7M545.1 470.3h.7M546.3 468.2h.7M539.4 470.8h.7M538.4 464.4h.7M540.5 468.0h.7M534.4 464.8h.7M551.0 468.1h.7" stroke="#ff0a9c" stroke-width="0.8" opacity="0.95" fill="none"/>
<path d="M542.5 443.7h.7M528.0 446.7h.7M546.0 443.0h.7M526.3 446.7h.7M535.8 448.1h.7M531.0 445.7h.7M534.1 454.5h.7M538.5 454.5h.7M537.2 432.2h.7M525.2 452.0h.7M543.1 454.5h.7M537.1 434.8h.7M534.5 451.0h.7M546.3 445.5h.7M534.0 442.3h.7M544.0 454.4h.7M526.0 457.0h.7M531.8 437.1h.7M527.5 442.6h.7M552.2 466.9h.7M529.7 443.0h.7M538.6 451.1h.7M534.6 436.2h.7M535.0 443.0h.7M526.3 449.1h.7M528.3 435.1h.7M547.2 455.0h.7M546.7 448.9h.7M535.0 447.4h.7M528.9 453.5h.7M539.3 445.7h.7M525.8 447.2h.7M547.9 458.8h.7M543.1 445.4h.7M538.4 452.1h.7M538.8 455.8h.7M533.4 430.8h.7M522.3 441.2h.7M528.8 452.9h.7M544.4 448.0h.7M541.0 448.6h.7M538.7 444.5h.7M535.0 456.8h.7M535.9 447.7h.7M545.1 455.3h.7M535.1 449.9h.7M531.2 449.0h.7M539.6 448.0h.7M538.6 450.7h.7M521.6 441.9h.7M538.1 444.4h.7M531.5 446.2h.7M547.7 446.3h.7M533.5 444.4h.7M530.1 451.6h.7M531.3 454.8h.7M543.3 452.3h.7M544.1 447.4h.7M526.5 447.5h.7M541.6 436.5h.7M529.9 456.1h.7M540.3 458.0h.7M541.8 448.5h.7M540.3 454.3h.7M537.4 446.4h.7M539.6 445.7h.7M552.8 442.3h.7M528.0 438.4h.7M544.2 445.0h.7M538.6 446.4h.7M539.3 437.2h.7M538.1 443.7h.7M544.5 452.6h.7M529.6 440.8h.7M541.2 456.9h.7M542.4 446.9h.7M544.6 430.5h.7M534.2 440.8h.7M531.0 452.2h.7M539.3 450.1h.7M536.7 452.6h.7M542.6 443.7h.7M543.5 441.1h.7M548.8 438.3h.7M535.8 440.0h.7M537.8 457.8h.7M532.8 461.2h.7M546.6 450.9h.7M533.8 454.7h.7M519.4 442.3h.7M543.7 447.7h.7M553.4 443.0h.7M529.1 446.4h.7M541.3 460.7h.7M526.4 449.2h.7M545.6 443.0h.7M534.7 439.0h.7M542.5 454.2h.7M541.3 449.8h.7M543.9 447.1h.7M542.2 454.1h.7M545.9 451.8h.7M538.1 453.3h.7M527.7 434.9h.7M547.9 449.0h.7M530.9 443.7h.7M536.6 448.5h.7M532.7 455.4h.7M526.7 468.9h.7M530.7 460.4h.7M541.9 435.4h.7M529.7 448.5h.7M539.3 444.8h.7M537.7 449.2h.7M530.3 448.5h.7M552.2 443.2h.7M531.1 453.0h.7M546.2 455.8h.7M533.5 447.4h.7M538.9 446.4h.7M540.2 456.1h.7M541.1 447.9h.7M536.3 461.4h.7M529.7 463.0h.7M542.3 448.7h.7M532.8 461.7h.7M545.4 454.8h.7M551.0 434.6h.7M538.2 445.7h.7M532.9 448.6h.7M541.0 451.9h.7M536.7 438.1h.7M541.2 452.6h.7M551.3 455.0h.7M537.7 439.4h.7M555.2 442.9h.7M538.9 453.6h.7M540.8 458.0h.7M530.9 442.8h.7M538.7 438.8h.7M533.6 458.4h.7M539.5 447.2h.7M533.9 448.4h.7M537.4 439.9h.7M542.7 438.4h.7M545.9 445.5h.7M522.8 436.4h.7M539.5 441.5h.7M549.4 458.4h.7M551.3 454.7h.7M546.4 443.5h.7M546.1 444.7h.7M537.3 437.8h.7M538.0 451.0h.7M537.2 439.7h.7M543.5 454.9h.7M537.0 453.9h.7M544.0 440.6h.7M537.4 434.0h.7M530.8 451.2h.7M531.8 451.0h.7M539.9 432.5h.7M534.4 459.4h.7M537.7 448.9h.7M533.0 435.9h.7M527.2 469.7h.7M536.4 441.4h.7M538.3 433.4h.7M546.8 460.9h.7M532.7 450.4h.7M531.7 454.5h.7M532.1 446.9h.7M546.2 452.0h.7M535.4 436.5h.7M527.1 457.1h.7M541.0 448.4h.7M545.8 449.1h.7M532.8 447.2h.7M536.9 447.9h.7M554.0 452.4h.7M539.4 446.1h.7M533.1 440.5h.7M525.2 444.5h.7M527.6 434.0h.7M531.4 432.6h.7M546.6 457.4h.7M531.2 463.5h.7M541.9 428.9h.7M537.7 440.4h.7M526.1 446.0h.7M545.2 451.4h.7M527.9 443.0h.7M532.6 456.7h.7M536.9 440.6h.7M531.6 433.1h.7M532.0 454.8h.7M525.0 449.5h.7M536.8 454.2h.7M530.0 454.9h.7M547.8 465.4h.7M526.8 447.8h.7M536.2 448.9h.7M531.0 454.5h.7M553.1 459.4h.7M531.3 443.6h.7M542.4 449.0h.7M532.5 457.4h.7M541.0 455.8h.7M536.4 457.7h.7M534.5 439.5h.7M537.5 437.4h.7M545.8 453.6h.7M526.4 449.3h.7M543.2 445.3h.7M540.3 443.6h.7M537.1 447.4h.7M540.8 440.6h.7M530.1 450.5h.7M534.2 451.9h.7M534.2 438.0h.7M542.4 450.0h.7M542.4 445.4h.7M535.2 457.6h.7M526.3 461.2h.7M540.9 447.6h.7M538.1 452.6h.7M532.4 450.1h.7M531.2 433.9h.7M538.9 448.8h.7M541.8 452.2h.7M517.7 453.3h.7M503.6 456.8h.7M533.6 442.5h.7M501.9 452.5h.7M519.4 455.1h.7M524.4 435.9h.7M515.1 450.7h.7M522.1 439.8h.7M512.2 444.0h.7M510.7 445.8h.7M510.8 432.8h.7M511.7 447.5h.7M508.9 418.5h.7M506.5 441.8h.7M505.0 459.9h.7M519.5 445.5h.7M516.9 473.4h.7M504.2 450.8h.7M507.2 458.9h.7M520.9 446.0h.7M517.0 440.6h.7M499.3 453.8h.7M525.2 444.6h.7M507.8 432.6h.7M529.3 437.4h.7M504.2 445.4h.7M521.8 447.4h.7M511.9 447.2h.7M518.9 446.7h.7M513.3 446.4h.7M503.1 457.8h.7M506.4 436.4h.7M508.5 447.3h.7M518.6 435.2h.7M501.8 448.4h.7M515.1 438.2h.7M502.9 448.4h.7M510.9 434.0h.7M505.0 458.9h.7M503.5 455.4h.7" stroke="#f56ab6" stroke-width="0.7" opacity="0.75" fill="none"/>
<path d="M530.2 453.7h.7M544.6 443.1h.7M534.3 449.2h.7M532.0 448.6h.7M542.5 448.0h.7M539.0 445.3h.7M542.2 441.8h.7M544.2 446.5h.7M537.1 436.7h.7M535.5 447.1h.7M543.6 437.5h.7M537.4 442.1h.7M532.5 445.5h.7M533.8 450.6h.7M525.8 449.0h.7M530.6 434.3h.7M539.9 444.3h.7M538.6 440.6h.7M533.5 441.4h.7M537.7 441.3h.7M536.2 441.0h.7M539.1 439.7h.7M530.2 430.4h.7M537.4 446.5h.7M542.0 442.3h.7M533.6 437.2h.7M541.0 442.8h.7M541.7 446.0h.7M537.4 435.5h.7M534.2 450.1h.7M534.6 449.5h.7M530.0 451.0h.7M548.6 453.4h.7M539.5 439.2h.7M535.7 442.1h.7M539.4 434.8h.7M533.4 450.1h.7M537.7 450.2h.7M541.7 440.0h.7M531.6 448.0h.7M537.6 446.5h.7M533.5 451.4h.7M538.9 452.6h.7M535.6 449.7h.7M537.8 440.7h.7M538.1 436.7h.7M536.6 446.9h.7M541.0 440.4h.7M532.3 441.4h.7M529.2 441.5h.7M548.4 447.9h.7M534.7 441.9h.7M545.6 440.2h.7M537.1 445.5h.7M534.8 441.7h.7M530.9 440.6h.7M542.2 454.5h.7M535.9 449.8h.7M539.4 446.8h.7M536.2 452.7h.7M540.0 445.0h.7M536.0 451.1h.7M535.4 441.7h.7M536.6 443.1h.7M542.6 448.5h.7M537.4 443.0h.7M543.2 449.1h.7M545.7 452.0h.7M536.9 442.8h.7M536.2 446.9h.7M540.5 449.1h.7M544.9 438.2h.7M538.4 438.1h.7M533.5 442.2h.7M535.3 440.3h.7M530.5 451.7h.7M535.6 451.3h.7M534.2 432.6h.7M534.5 450.7h.7M534.9 448.0h.7M532.2 453.3h.7M538.7 452.1h.7M535.6 453.0h.7M538.1 443.3h.7M534.8 446.0h.7M534.4 438.9h.7M537.6 450.0h.7M535.8 450.6h.7M544.9 439.6h.7M539.1 440.7h.7M534.7 446.7h.7M527.2 448.4h.7M540.7 449.4h.7M539.2 456.4h.7M535.4 452.0h.7M543.3 449.3h.7M530.1 444.4h.7M537.2 436.8h.7M536.8 450.2h.7M536.5 444.9h.7M544.0 443.2h.7M533.5 445.8h.7M541.9 449.8h.7M538.1 443.3h.7M542.2 451.5h.7M530.0 447.1h.7M526.6 453.3h.7M540.4 442.7h.7M532.3 443.8h.7M529.8 448.4h.7M536.3 435.9h.7M536.7 452.6h.7M532.4 443.5h.7M545.0 447.8h.7M535.1 446.8h.7M541.3 440.7h.7M538.0 436.8h.7M531.7 436.7h.7M540.9 448.1h.7M539.9 453.1h.7M537.6 447.3h.7M538.9 448.8h.7M533.2 444.0h.7M536.8 446.1h.7M534.4 444.9h.7M538.6 447.2h.7M539.5 450.8h.7M539.3 451.6h.7M540.2 454.1h.7M540.5 442.8h.7M546.6 453.3h.7M542.3 450.6h.7M538.3 439.6h.7M539.5 444.2h.7M537.0 433.9h.7M544.6 440.1h.7M532.6 448.1h.7M540.3 441.8h.7M537.3 447.4h.7M537.9 449.0h.7M541.0 444.3h.7M529.5 457.4h.7M536.4 440.3h.7M540.3 449.6h.7M533.6 458.9h.7M526.9 452.2h.7M537.2 447.7h.7M539.0 444.8h.7M539.6 438.9h.7M534.8 456.2h.7M526.0 451.8h.7M528.6 440.3h.7M541.4 444.1h.7M535.9 437.4h.7M537.1 444.9h.7M535.7 437.0h.7M537.9 448.4h.7M542.0 449.4h.7M543.2 453.3h.7M524.7 454.1h.7M537.6 440.1h.7M538.8 451.5h.7M531.7 438.4h.7M540.7 443.2h.7M543.5 447.8h.7M535.9 438.3h.7M541.0 436.6h.7M532.8 438.1h.7M543.7 456.2h.7M536.8 443.8h.7M539.7 453.2h.7M532.9 458.0h.7M536.0 452.2h.7M527.6 444.7h.7M533.5 456.8h.7M537.3 438.8h.7M546.1 443.0h.7M538.2 439.0h.7M540.2 447.4h.7M536.5 443.6h.7M535.5 441.7h.7M530.9 452.1h.7M542.0 438.6h.7M532.4 447.8h.7M547.1 445.8h.7M536.3 444.5h.7M538.6 445.1h.7M541.5 451.9h.7M538.9 455.0h.7M536.8 442.8h.7M551.1 436.4h.7M532.3 432.2h.7M539.6 440.2h.7M543.1 434.7h.7M537.1 443.7h.7M532.3 451.8h.7M535.6 448.3h.7M535.2 446.6h.7M535.6 446.2h.7M537.5 442.1h.7M539.4 445.1h.7M534.0 439.7h.7M538.6 453.6h.7M532.2 443.1h.7M538.8 452.0h.7M541.1 439.7h.7M537.1 451.0h.7M538.6 444.8h.7M532.4 446.4h.7M537.2 446.1h.7M543.1 453.3h.7M534.0 447.0h.7M536.1 446.4h.7M543.8 451.8h.7M538.0 442.3h.7M536.6 448.0h.7M534.8 451.9h.7M538.2 439.4h.7M547.7 430.6h.7M536.4 445.2h.7M541.0 452.6h.7M542.7 455.3h.7M538.8 446.8h.7M541.8 446.3h.7M532.5 442.9h.7M539.9 449.7h.7M532.2 452.2h.7M539.6 437.7h.7M538.9 451.8h.7M539.9 444.5h.7M533.5 451.9h.7M538.4 446.1h.7M536.4 440.1h.7M529.8 443.3h.7M541.7 450.7h.7M533.8 454.2h.7M537.1 440.3h.7M540.8 454.2h.7M536.5 439.0h.7M538.6 432.4h.7M536.9 454.5h.7M539.1 442.0h.7M540.8 443.5h.7M543.0 444.5h.7M546.3 444.9h.7M538.8 440.8h.7M531.9 447.4h.7M539.5 440.7h.7M540.1 443.9h.7M535.2 445.4h.7M538.7 450.2h.7M542.5 448.6h.7M534.8 441.9h.7M539.7 439.5h.7M537.0 443.8h.7M537.0 447.0h.7M540.9 455.6h.7M540.6 452.0h.7M532.4 451.3h.7M543.7 439.0h.7M548.4 443.9h.7M526.5 454.9h.7M538.2 441.5h.7M534.5 451.7h.7M538.8 444.0h.7M542.9 441.2h.7M534.3 442.5h.7M534.0 449.5h.7M537.1 440.0h.7M536.7 434.7h.7M538.1 446.6h.7M540.2 444.9h.7M539.7 440.9h.7M537.5 446.9h.7M532.1 448.8h.7M538.1 446.3h.7M534.4 457.0h.7M537.9 441.7h.7M533.6 448.9h.7M537.1 441.5h.7M533.9 450.9h.7M537.3 451.9h.7M538.1 439.4h.7M541.0 448.1h.7M534.9 444.0h.7M533.0 450.2h.7M535.5 448.5h.7M538.7 444.7h.7M539.2 444.8h.7M532.8 443.2h.7M532.1 449.7h.7M540.6 443.0h.7M540.0 447.6h.7M542.1 441.2h.7M538.2 440.5h.7M533.9 453.3h.7M529.6 440.1h.7M539.1 450.5h.7M535.4 434.3h.7M530.1 447.3h.7M541.6 451.5h.7M533.7 453.2h.7M536.4 449.3h.7M535.8 454.8h.7M536.5 433.8h.7M536.1 446.9h.7M539.1 442.1h.7M537.2 439.6h.7M536.5 446.4h.7M537.6 455.3h.7M528.9 448.0h.7M540.0 439.7h.7M537.8 446.0h.7M532.9 449.6h.7M545.1 450.5h.7M540.1 452.3h.7M536.4 451.4h.7M534.0 446.7h.7M539.7 453.6h.7M536.5 444.3h.7M539.5 445.8h.7M537.6 450.5h.7M533.8 450.5h.7M539.2 444.7h.7M532.6 442.0h.7M536.8 451.2h.7M528.9 449.1h.7M538.9 439.8h.7M540.8 448.6h.7M539.9 440.7h.7M532.4 450.6h.7M543.1 448.6h.7M536.9 443.4h.7M529.8 450.7h.7M536.4 452.8h.7M533.9 451.5h.7M534.2 448.9h.7M543.6 442.7h.7M541.3 446.3h.7M533.5 446.7h.7M540.6 442.3h.7M536.7 442.7h.7M534.4 444.5h.7M541.2 443.6h.7M542.9 444.4h.7M534.0 451.6h.7M543.7 443.0h.7M540.6 439.8h.7M536.0 443.8h.7M541.1 439.4h.7M535.8 442.0h.7M538.6 439.2h.7M530.4 461.1h.7M539.2 437.8h.7M541.7 439.1h.7M528.8 454.4h.7M543.1 441.9h.7M532.7 448.2h.7M545.6 450.2h.7M540.9 439.7h.7M529.9 447.4h.7M541.6 447.2h.7M536.7 453.6h.7M533.4 451.7h.7M541.3 442.9h.7M537.9 446.6h.7M540.4 440.9h.7M536.5 446.4h.7M537.6 446.1h.7M538.6 445.0h.7M534.9 451.5h.7M535.0 444.0h.7M534.5 439.3h.7M539.4 445.9h.7M536.7 448.4h.7M536.4 449.7h.7M544.8 448.7h.7M535.5 455.0h.7M541.3 437.1h.7M542.9 447.7h.7M541.6 440.0h.7M534.4 442.1h.7M540.4 440.0h.7M534.1 450.9h.7M534.8 446.4h.7M534.7 436.3h.7M537.2 445.3h.7M531.1 450.7h.7M540.4 451.2h.7M536.0 439.5h.7M537.0 446.9h.7M537.1 442.7h.7M533.8 441.6h.7M537.4 443.3h.7M544.5 445.2h.7M539.6 443.6h.7M537.3 440.6h.7M536.3 437.6h.7M528.2 452.5h.7M532.9 447.9h.7M537.3 442.8h.7M540.8 443.2h.7M539.5 444.2h.7M541.0 451.6h.7M537.2 452.0h.7M538.7 454.7h.7M537.8 437.5h.7M538.2 447.4h.7M536.1 444.7h.7M537.1 439.0h.7M545.0 442.5h.7M534.0 436.9h.7M534.1 445.4h.7M543.2 449.9h.7M535.2 438.9h.7M533.0 445.1h.7M541.3 443.7h.7M543.0 457.2h.7M539.3 434.2h.7M542.0 445.9h.7M539.7 451.7h.7M533.3 445.9h.7M538.6 442.0h.7M540.4 445.6h.7M534.8 456.1h.7M537.3 455.0h.7M536.3 451.6h.7M534.3 446.5h.7M543.1 434.6h.7M539.8 444.7h.7M541.8 447.4h.7M537.9 439.0h.7M549.9 443.2h.7M536.6 441.9h.7M536.1 447.1h.7M531.4 451.2h.7M536.1 449.2h.7M529.2 442.3h.7M536.5 443.7h.7M534.6 447.4h.7" stroke="#f62ea4" stroke-width="0.7" opacity="0.85" fill="none"/>
<path d="M575.7 450.5h.7M579.1 450.2h.7M582.5 448.5h.7M570.7 454.6h.7M566.2 454.1h.7M572.0 449.9h.7M565.3 458.0h.7M565.6 457.8h.7M565.3 454.9h.7M558.8 462.6h.7M557.9 459.2h.7M584.0 445.2h.7M560.2 458.5h.7M565.2 450.1h.7M572.3 450.4h.7M565.6 454.1h.7M584.0 447.1h.7M571.0 455.4h.7M581.6 450.5h.7M560.4 457.0h.7M570.3 452.9h.7M577.0 448.8h.7M559.3 456.8h.7M560.2 460.0h.7M569.0 454.4h.7M572.9 452.9h.7M556.3 458.1h.7M559.8 457.8h.7M579.1 445.3h.7M573.2 455.0h.7M568.9 454.9h.7M575.1 449.4h.7M584.4 445.6h.7M583.0 447.3h.7" stroke="#f47ab8" stroke-width="0.7" opacity="0.7" fill="none"/>
<rect x="521.70" y="433.20" width="33.80" height="29.20" fill="none" stroke="#2e2e2e" stroke-width="1.1"/>
<text transform="translate(557.80 425.10) scale(1 1.15)" x="0" y="2.86" font-size="8.0" text-anchor="middle" fill="#000">20.1%</text>
<text x="600.50" y="322.68" font-size="8.6" text-anchor="middle" font-weight="700" fill="#000">(c)</text>
<line x1="610.20" y1="342.70" x2="610.20" y2="459.40" stroke="#111" stroke-width="1.2"/>
<line x1="609.70" y1="458.90" x2="685.40" y2="458.90" stroke="#111" stroke-width="1.2"/>
<line x1="607.80" y1="458.90" x2="610.20" y2="458.90" stroke="#111" stroke-width="0.9"/>
<text x="604.60" y="462.31" font-size="8.7" text-anchor="end" fill="#000">0</text>
<line x1="607.80" y1="420.30" x2="610.20" y2="420.30" stroke="#111" stroke-width="0.9"/>
<text x="604.60" y="423.71" font-size="8.7" text-anchor="end" fill="#000">2</text>
<line x1="607.80" y1="381.70" x2="610.20" y2="381.70" stroke="#111" stroke-width="0.9"/>
<text x="604.60" y="385.11" font-size="8.7" text-anchor="end" fill="#000">4</text>
<line x1="607.80" y1="343.10" x2="610.20" y2="343.10" stroke="#111" stroke-width="0.9"/>
<text x="604.60" y="346.51" font-size="8.7" text-anchor="end" fill="#000">6</text>
<line x1="647.30" y1="458.90" x2="647.30" y2="461.10" stroke="#111" stroke-width="0.9"/>
<line x1="685.00" y1="458.90" x2="685.00" y2="461.10" stroke="#111" stroke-width="0.9"/>
<line x1="629.25" y1="391.35" x2="629.25" y2="386.72" stroke="#2a2a2a" stroke-width="0.8"/>
<line x1="626.95" y1="386.72" x2="631.55" y2="386.72" stroke="#2a2a2a" stroke-width="0.8"/>
<rect x="620.05" y="391.80" width="18.40" height="67.10" fill="#000" stroke="#111" stroke-width="0.9"/>
<line x1="666.30" y1="359.12" x2="666.30" y2="352.75" stroke="#2a2a2a" stroke-width="0.8"/>
<line x1="664.00" y1="352.75" x2="668.60" y2="352.75" stroke="#2a2a2a" stroke-width="0.8"/>
<rect x="656.85" y="359.57" width="18.90" height="99.33" fill="#a8a8a8" stroke="#111" stroke-width="0.9"/>
<text x="630.30" y="469.91" font-size="7.0" text-anchor="middle" fill="#000">NS SLIT</text>
<text x="666.40" y="469.91" font-size="7.0" text-anchor="middle" fill="#000">Der.f SLIT</text>
<text x="666.40" y="478.80" font-size="7.0" text-anchor="middle" fill="#000">(1000 µg)</text>
<text transform="translate(593.00 402.40) rotate(-90)" x="0" y="2.51" font-size="7.0" text-anchor="middle" fill="#000">CD4<tspan font-size="4.6" dy="-2.4">+</tspan><tspan dy="2.4">CD25</tspan><tspan font-size="4.6" dy="-2.4">+</tspan><tspan dy="2.4">Foxp3</tspan><tspan font-size="4.6" dy="-2.4">+</tspan><tspan dy="2.4">/CD4</tspan><tspan font-size="4.6" dy="-2.4">+</tspan><tspan dy="2.4"> (%)</tspan></text>
<polygon points="667.20,344.30 667.88,346.27 669.96,346.30 668.29,347.56 668.90,349.55 667.20,348.35 665.50,349.55 666.11,347.56 664.44,346.30 666.52,346.27" fill="#111"/>
</svg></body></html>
